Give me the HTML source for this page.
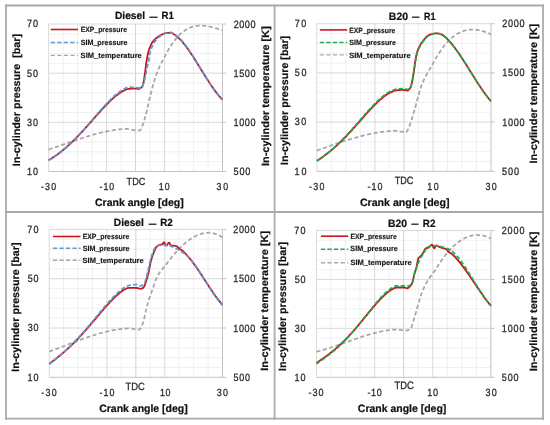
<!DOCTYPE html>
<html><head><meta charset="utf-8"><style>
html,body{margin:0;padding:0;background:#fff;overflow:hidden;}
svg{display:block;font-family:'Liberation Sans', Arial, sans-serif;text-rendering:geometricPrecision;filter:blur(0.55px);}
</style></head><body>
<svg width="550" height="425" viewBox="0 0 550 425">
<rect width="550" height="425" fill="#fff"/>
<path d="M63.09,24.00V171.50M77.58,24.00V171.50M92.08,24.00V171.50M121.06,24.00V171.50M150.04,24.00V171.50M179.03,24.00V171.50M193.52,24.00V171.50M208.01,24.00V171.50M48.60,161.67H222.50M48.60,151.83H222.50M48.60,142.00H222.50M48.60,132.17H222.50M48.60,112.50H222.50M48.60,102.67H222.50M48.60,92.83H222.50M48.60,83.00H222.50M48.60,63.33H222.50M48.60,53.50H222.50M48.60,43.67H222.50M48.60,33.83H222.50" stroke="#ececec" stroke-width="0.80" fill="none"/>
<path d="M48.60,24.00V171.50M106.57,24.00V171.50M164.53,24.00V171.50M48.60,122.33H222.50M48.60,73.17H222.50M48.60,24.00H222.50" stroke="#d6d6d6" stroke-width="0.90" fill="none"/>
<path d="M135.55,24.00V171.50" stroke="#cdcdcd" stroke-width="0.90"/>
<path d="M48.60,171.50H226.00M222.50,24.00V171.50M222.50,122.33H226.00M222.50,73.17H226.00M222.50,24.00H226.00" stroke="#bcbcbc" stroke-width="0.90" fill="none"/>
<path d="M48.60,149.46 C48.72,149.42 49.08,149.31 49.32,149.23 C49.57,149.15 49.81,149.07 50.05,148.99 C50.29,148.92 50.53,148.84 50.77,148.76 C51.02,148.68 51.26,148.60 51.50,148.52 C51.74,148.44 51.98,148.36 52.22,148.28 C52.46,148.20 52.71,148.12 52.95,148.04 C53.19,147.96 53.43,147.88 53.67,147.80 C53.91,147.72 54.16,147.64 54.40,147.55 C54.64,147.47 54.88,147.39 55.12,147.31 C55.36,147.23 55.60,147.15 55.85,147.07 C56.09,146.98 56.33,146.90 56.57,146.82 C56.81,146.74 57.05,146.66 57.30,146.57 C57.54,146.49 57.78,146.41 58.02,146.33 C58.26,146.24 58.50,146.16 58.74,146.08 C58.99,145.99 59.23,145.91 59.47,145.83 C59.71,145.74 59.95,145.66 60.19,145.58 C60.43,145.50 60.68,145.41 60.92,145.33 C61.16,145.24 61.40,145.16 61.64,145.08 C61.88,144.99 62.13,144.91 62.37,144.83 C62.61,144.74 62.85,144.66 63.09,144.58 C63.33,144.49 63.57,144.41 63.82,144.32 C64.06,144.24 64.30,144.16 64.54,144.07 C64.78,143.99 65.02,143.90 65.27,143.82 C65.51,143.74 65.75,143.65 65.99,143.57 C66.23,143.48 66.47,143.40 66.71,143.32 C66.96,143.23 67.20,143.15 67.44,143.06 C67.68,142.98 67.92,142.90 68.16,142.81 C68.41,142.73 68.65,142.64 68.89,142.56 C69.13,142.48 69.37,142.39 69.61,142.31 C69.85,142.23 70.10,142.14 70.34,142.06 C70.58,141.97 70.82,141.89 71.06,141.81 C71.30,141.72 71.55,141.64 71.79,141.56 C72.03,141.47 72.27,141.39 72.51,141.31 C72.75,141.22 72.99,141.14 73.24,141.06 C73.48,140.98 73.72,140.89 73.96,140.81 C74.20,140.73 74.44,140.64 74.69,140.56 C74.93,140.48 75.17,140.40 75.41,140.32 C75.65,140.23 75.89,140.15 76.13,140.07 C76.38,139.99 76.62,139.91 76.86,139.82 C77.10,139.74 77.34,139.66 77.58,139.58 C77.82,139.50 78.07,139.42 78.31,139.34 C78.55,139.26 78.79,139.17 79.03,139.09 C79.27,139.01 79.52,138.93 79.76,138.85 C80.00,138.77 80.24,138.69 80.48,138.61 C80.72,138.53 80.96,138.45 81.21,138.38 C81.45,138.30 81.69,138.22 81.93,138.14 C82.17,138.06 82.41,137.98 82.66,137.90 C82.90,137.83 83.14,137.75 83.38,137.67 C83.62,137.59 83.86,137.51 84.10,137.44 C84.35,137.36 84.59,137.28 84.83,137.21 C85.07,137.13 85.31,137.05 85.55,136.98 C85.80,136.90 86.04,136.83 86.28,136.75 C86.52,136.67 86.76,136.60 87.00,136.52 C87.24,136.45 87.49,136.38 87.73,136.30 C87.97,136.23 88.21,136.15 88.45,136.08 C88.69,136.01 88.94,135.93 89.18,135.86 C89.42,135.79 89.66,135.71 89.90,135.64 C90.14,135.57 90.38,135.50 90.63,135.43 C90.87,135.36 91.11,135.28 91.35,135.21 C91.59,135.14 91.83,135.07 92.08,135.00 C92.32,134.93 92.56,134.86 92.80,134.80 C93.04,134.73 93.28,134.66 93.52,134.59 C93.77,134.52 94.01,134.45 94.25,134.39 C94.49,134.32 94.73,134.25 94.97,134.19 C95.21,134.12 95.46,134.05 95.70,133.99 C95.94,133.92 96.18,133.86 96.42,133.79 C96.66,133.73 96.91,133.66 97.15,133.60 C97.39,133.54 97.63,133.47 97.87,133.41 C98.11,133.35 98.35,133.28 98.60,133.22 C98.84,133.16 99.08,133.10 99.32,133.04 C99.56,132.98 99.80,132.92 100.05,132.86 C100.29,132.80 100.53,132.74 100.77,132.68 C101.01,132.62 101.25,132.56 101.49,132.50 C101.74,132.45 101.98,132.39 102.22,132.33 C102.46,132.28 102.70,132.22 102.94,132.16 C103.19,132.11 103.43,132.05 103.67,132.00 C103.91,131.95 104.15,131.89 104.39,131.84 C104.63,131.79 104.88,131.73 105.12,131.68 C105.36,131.63 105.60,131.58 105.84,131.53 C106.08,131.48 106.33,131.43 106.57,131.38 C106.81,131.33 107.05,131.28 107.29,131.23 C107.53,131.18 107.77,131.13 108.02,131.09 C108.26,131.04 108.50,130.99 108.74,130.95 C108.98,130.90 109.22,130.85 109.47,130.81 C109.71,130.77 109.95,130.72 110.19,130.68 C110.43,130.64 110.67,130.59 110.91,130.55 C111.16,130.51 111.40,130.47 111.64,130.43 C111.88,130.39 112.12,130.35 112.36,130.31 C112.60,130.27 112.85,130.23 113.09,130.19 C113.33,130.16 113.57,130.12 113.81,130.08 C114.05,130.05 114.30,130.01 114.54,129.97 C114.78,129.94 115.02,129.91 115.26,129.87 C115.50,129.84 115.74,129.81 115.99,129.78 C116.23,129.74 116.47,129.71 116.71,129.68 C116.95,129.65 117.19,129.62 117.44,129.59 C117.68,129.56 117.92,129.54 118.16,129.51 C118.40,129.48 118.64,129.46 118.88,129.43 C119.13,129.41 119.37,129.38 119.61,129.36 C119.85,129.33 120.09,129.31 120.33,129.29 C120.58,129.26 120.82,129.24 121.06,129.22 C121.30,129.20 121.54,129.18 121.78,129.16 C122.02,129.14 122.27,129.13 122.51,129.11 C122.75,129.09 122.99,129.07 123.23,129.06 C123.47,129.04 123.72,129.03 123.96,129.02 C124.20,129.00 124.44,128.99 124.68,128.97 C124.92,128.96 125.16,128.95 125.41,128.93 C125.65,128.92 125.89,128.91 126.13,128.90 C126.37,128.90 126.61,128.88 126.86,128.89 C127.10,128.90 127.34,128.94 127.58,128.98 C127.82,129.01 128.06,129.07 128.30,129.12 C128.55,129.16 128.79,129.20 129.03,129.24 C129.27,129.29 129.51,129.33 129.75,129.38 C129.99,129.42 130.24,129.47 130.48,129.52 C130.72,129.56 130.96,129.61 131.20,129.66 C131.44,129.70 131.69,129.75 131.93,129.79 C132.17,129.83 132.41,129.87 132.65,129.91 C132.89,129.95 133.13,129.99 133.38,130.02 C133.62,130.05 133.86,130.08 134.10,130.10 C134.34,130.13 134.58,130.15 134.83,130.17 C135.07,130.19 135.31,130.21 135.55,130.22 C135.79,130.24 136.06,130.26 136.27,130.27 C136.49,130.28 136.70,130.29 136.83,130.30 C136.95,130.30 136.85,130.30 137.00,130.31 C137.15,130.31 137.48,130.33 137.72,130.34 C137.97,130.35 138.21,130.36 138.45,130.36 C138.69,130.37 138.93,130.38 139.17,130.39 C139.41,130.39 139.74,130.39 139.90,130.40 C140.05,130.40 139.98,130.48 140.10,130.40 C140.22,130.31 140.41,130.23 140.62,129.87 C140.83,129.51 141.20,128.57 141.35,128.25 C141.49,127.93 141.37,128.21 141.49,127.94 C141.61,127.67 141.85,127.16 142.07,126.63 C142.29,126.10 142.64,125.16 142.80,124.75 C142.95,124.35 142.88,124.54 143.00,124.20 C143.12,123.86 143.31,123.34 143.52,122.71 C143.73,122.08 144.10,120.90 144.25,120.45 C144.39,119.99 144.27,120.39 144.39,119.97 C144.51,119.56 144.75,118.76 144.97,117.98 C145.19,117.20 145.55,115.82 145.69,115.30 C145.83,114.78 145.69,115.33 145.81,114.86 C145.93,114.39 146.20,113.39 146.42,112.50 C146.64,111.61 147.01,110.05 147.14,109.51 C147.27,108.97 147.08,109.82 147.20,109.25 C147.32,108.69 147.64,107.23 147.87,106.13 C148.10,105.03 148.35,103.78 148.59,102.67 C148.83,101.56 149.08,100.48 149.32,99.47 C149.55,98.45 149.89,97.07 150.01,96.57 C150.13,96.07 149.92,96.93 150.04,96.45 C150.17,95.98 150.55,94.50 150.77,93.70 C150.98,92.90 151.20,92.10 151.32,91.65 C151.44,91.20 151.34,91.57 151.49,91.00 C151.64,90.43 151.97,89.14 152.22,88.23 C152.46,87.31 152.78,86.12 152.94,85.51 C153.10,84.90 153.08,85.00 153.20,84.57 C153.32,84.14 153.47,83.62 153.66,82.93 C153.86,82.24 154.15,81.23 154.39,80.41 C154.63,79.60 154.93,78.63 155.11,78.04 C155.30,77.46 155.37,77.26 155.49,76.90 C155.61,76.55 155.66,76.40 155.84,75.91 C156.02,75.41 156.32,74.58 156.56,73.94 C156.80,73.31 157.05,72.70 157.29,72.10 C157.53,71.50 157.83,70.78 158.01,70.33 C158.20,69.89 158.27,69.72 158.39,69.43 C158.51,69.14 158.56,69.02 158.74,68.60 C158.92,68.18 159.22,67.46 159.46,66.90 C159.70,66.35 159.94,65.80 160.19,65.27 C160.43,64.74 160.74,64.08 160.91,63.72 C161.08,63.37 161.08,63.37 161.20,63.14 C161.32,62.90 161.44,62.66 161.64,62.30 C161.83,61.94 162.12,61.41 162.36,60.99 C162.60,60.56 162.84,60.16 163.08,59.74 C163.33,59.33 163.57,58.92 163.81,58.50 C164.05,58.07 164.29,57.65 164.53,57.20 C164.77,56.75 165.02,56.28 165.26,55.81 C165.50,55.34 165.74,54.85 165.98,54.37 C166.22,53.90 166.47,53.41 166.71,52.95 C166.95,52.48 167.19,52.02 167.43,51.58 C167.67,51.14 167.91,50.71 168.16,50.28 C168.40,49.85 168.64,49.43 168.88,49.02 C169.12,48.61 169.36,48.20 169.61,47.80 C169.85,47.40 170.09,47.01 170.33,46.62 C170.57,46.23 170.81,45.85 171.05,45.48 C171.30,45.11 171.54,44.74 171.78,44.38 C172.02,44.01 172.26,43.66 172.50,43.31 C172.75,42.96 172.99,42.62 173.23,42.28 C173.47,41.95 173.71,41.62 173.95,41.29 C174.19,40.97 174.44,40.65 174.68,40.34 C174.92,40.02 175.16,39.72 175.40,39.42 C175.64,39.11 175.89,38.82 176.13,38.53 C176.37,38.24 176.61,37.96 176.85,37.68 C177.09,37.41 177.33,37.13 177.58,36.87 C177.82,36.60 178.06,36.34 178.30,36.08 C178.54,35.83 178.78,35.58 179.03,35.34 C179.27,35.09 179.51,34.86 179.75,34.62 C179.99,34.39 180.23,34.16 180.47,33.94 C180.72,33.71 180.96,33.49 181.20,33.28 C181.44,33.07 181.68,32.86 181.92,32.66 C182.16,32.46 182.41,32.26 182.65,32.07 C182.89,31.88 183.13,31.69 183.37,31.51 C183.61,31.32 183.86,31.14 184.10,30.97 C184.34,30.80 184.58,30.63 184.82,30.47 C185.06,30.31 185.30,30.15 185.55,29.99 C185.79,29.84 186.03,29.69 186.27,29.54 C186.51,29.40 186.75,29.26 187.00,29.12 C187.24,28.98 187.48,28.85 187.72,28.73 C187.96,28.60 188.20,28.48 188.44,28.36 C188.69,28.24 188.93,28.12 189.17,28.01 C189.41,27.90 189.65,27.79 189.89,27.69 C190.14,27.59 190.38,27.49 190.62,27.40 C190.86,27.31 191.10,27.22 191.34,27.13 C191.58,27.04 191.83,26.96 192.07,26.88 C192.31,26.80 192.55,26.72 192.79,26.65 C193.03,26.58 193.28,26.52 193.52,26.45 C193.76,26.39 194.00,26.33 194.24,26.28 C194.48,26.22 194.72,26.16 194.97,26.11 C195.21,26.06 195.45,26.01 195.69,25.97 C195.93,25.93 196.17,25.89 196.41,25.86 C196.66,25.82 196.90,25.79 197.14,25.76 C197.38,25.73 197.62,25.69 197.86,25.67 C198.11,25.64 198.35,25.62 198.59,25.60 C198.83,25.58 199.07,25.58 199.31,25.57 C199.55,25.56 199.80,25.57 200.04,25.57 C200.28,25.57 200.52,25.56 200.76,25.56 C201.00,25.56 201.25,25.56 201.49,25.56 C201.73,25.56 201.97,25.56 202.21,25.56 C202.45,25.56 202.69,25.57 202.94,25.58 C203.18,25.60 203.42,25.62 203.66,25.64 C203.90,25.66 204.14,25.69 204.39,25.72 C204.63,25.74 204.87,25.77 205.11,25.80 C205.35,25.82 205.59,25.85 205.83,25.88 C206.08,25.92 206.32,25.95 206.56,25.99 C206.80,26.03 207.04,26.07 207.28,26.11 C207.53,26.15 207.77,26.19 208.01,26.24 C208.25,26.28 208.49,26.33 208.73,26.38 C208.97,26.42 209.22,26.47 209.46,26.53 C209.70,26.58 209.94,26.63 210.18,26.69 C210.42,26.74 210.67,26.80 210.91,26.86 C211.15,26.91 211.39,26.97 211.63,27.03 C211.87,27.09 212.11,27.15 212.36,27.22 C212.60,27.28 212.84,27.35 213.08,27.41 C213.32,27.48 213.56,27.54 213.80,27.61 C214.05,27.68 214.29,27.75 214.53,27.82 C214.77,27.89 215.01,27.96 215.25,28.03 C215.50,28.10 215.74,28.18 215.98,28.25 C216.22,28.32 216.46,28.40 216.70,28.47 C216.94,28.55 217.19,28.62 217.43,28.70 C217.67,28.78 217.91,28.85 218.15,28.93 C218.39,29.01 218.64,29.09 218.88,29.17 C219.12,29.25 219.36,29.33 219.60,29.41 C219.84,29.49 220.08,29.56 220.33,29.64 C220.57,29.72 220.81,29.80 221.05,29.89 C221.29,29.97 221.53,30.05 221.78,30.13 C222.02,30.21 222.38,30.33 222.50,30.37" stroke="#a6a6a6" stroke-width="1.75" fill="none" stroke-linejoin="round" stroke-dasharray="4.1 2.5"/>
<path d="M48.60,160.18 C48.72,160.11 49.08,159.89 49.32,159.75 C49.57,159.60 49.81,159.45 50.05,159.31 C50.29,159.16 50.53,159.01 50.77,158.86 C51.02,158.71 51.26,158.55 51.50,158.40 C51.74,158.25 51.98,158.09 52.22,157.94 C52.46,157.78 52.71,157.62 52.95,157.46 C53.19,157.31 53.43,157.15 53.67,156.98 C53.91,156.82 54.16,156.66 54.40,156.50 C54.64,156.33 54.88,156.17 55.12,156.00 C55.36,155.83 55.60,155.66 55.85,155.49 C56.09,155.32 56.33,155.15 56.57,154.98 C56.81,154.81 57.05,154.63 57.30,154.46 C57.54,154.28 57.78,154.11 58.02,153.93 C58.26,153.75 58.50,153.57 58.74,153.39 C58.99,153.21 59.23,153.03 59.47,152.84 C59.71,152.66 59.95,152.47 60.19,152.29 C60.43,152.10 60.68,151.91 60.92,151.72 C61.16,151.53 61.40,151.34 61.64,151.15 C61.88,150.96 62.13,150.76 62.37,150.57 C62.61,150.37 62.85,150.17 63.09,149.98 C63.33,149.78 63.57,149.58 63.82,149.38 C64.06,149.18 64.30,148.97 64.54,148.77 C64.78,148.57 65.02,148.36 65.27,148.15 C65.51,147.95 65.75,147.74 65.99,147.53 C66.23,147.32 66.47,147.11 66.71,146.90 C66.96,146.68 67.20,146.47 67.44,146.26 C67.68,146.04 67.92,145.82 68.16,145.61 C68.41,145.39 68.65,145.17 68.89,144.95 C69.13,144.73 69.37,144.51 69.61,144.28 C69.85,144.06 70.10,143.84 70.34,143.61 C70.58,143.38 70.82,143.16 71.06,142.93 C71.30,142.70 71.55,142.47 71.79,142.24 C72.03,142.01 72.27,141.78 72.51,141.54 C72.75,141.31 72.99,141.08 73.24,140.84 C73.48,140.60 73.72,140.37 73.96,140.13 C74.20,139.89 74.44,139.65 74.69,139.41 C74.93,139.17 75.17,138.93 75.41,138.68 C75.65,138.44 75.89,138.20 76.13,137.95 C76.38,137.71 76.62,137.46 76.86,137.21 C77.10,136.97 77.34,136.72 77.58,136.47 C77.82,136.22 78.07,135.97 78.31,135.72 C78.55,135.46 78.79,135.21 79.03,134.96 C79.27,134.70 79.52,134.45 79.76,134.19 C80.00,133.94 80.24,133.68 80.48,133.43 C80.72,133.17 80.96,132.91 81.21,132.65 C81.45,132.39 81.69,132.13 81.93,131.87 C82.17,131.61 82.41,131.35 82.66,131.09 C82.90,130.82 83.14,130.56 83.38,130.30 C83.62,130.03 83.86,129.77 84.10,129.50 C84.35,129.24 84.59,128.97 84.83,128.71 C85.07,128.44 85.31,128.17 85.55,127.90 C85.80,127.64 86.04,127.37 86.28,127.10 C86.52,126.83 86.76,126.56 87.00,126.29 C87.24,126.02 87.49,125.75 87.73,125.48 C87.97,125.21 88.21,124.94 88.45,124.66 C88.69,124.39 88.94,124.12 89.18,123.85 C89.42,123.58 89.66,123.30 89.90,123.03 C90.14,122.76 90.38,122.48 90.63,122.21 C90.87,121.94 91.11,121.66 91.35,121.39 C91.59,121.12 91.83,120.84 92.08,120.57 C92.32,120.29 92.56,120.02 92.80,119.75 C93.04,119.47 93.28,119.20 93.52,118.92 C93.77,118.65 94.01,118.37 94.25,118.10 C94.49,117.83 94.73,117.55 94.97,117.28 C95.21,117.01 95.46,116.73 95.70,116.46 C95.94,116.19 96.18,115.91 96.42,115.64 C96.66,115.37 96.91,115.09 97.15,114.82 C97.39,114.55 97.63,114.28 97.87,114.01 C98.11,113.74 98.35,113.46 98.60,113.19 C98.84,112.92 99.08,112.65 99.32,112.38 C99.56,112.12 99.80,111.85 100.05,111.58 C100.29,111.31 100.53,111.04 100.77,110.78 C101.01,110.51 101.25,110.25 101.49,109.98 C101.74,109.72 101.98,109.45 102.22,109.19 C102.46,108.93 102.70,108.66 102.94,108.40 C103.19,108.14 103.43,107.88 103.67,107.62 C103.91,107.36 104.15,107.11 104.39,106.85 C104.63,106.59 104.88,106.34 105.12,106.08 C105.36,105.83 105.60,105.58 105.84,105.32 C106.08,105.07 106.33,104.82 106.57,104.57 C106.81,104.33 107.05,104.08 107.29,103.83 C107.53,103.59 107.77,103.34 108.02,103.10 C108.26,102.86 108.50,102.62 108.74,102.38 C108.98,102.14 109.22,101.90 109.47,101.66 C109.71,101.43 109.95,101.20 110.19,100.96 C110.43,100.73 110.67,100.50 110.91,100.27 C111.16,100.04 111.40,99.82 111.64,99.59 C111.88,99.37 112.12,99.15 112.36,98.93 C112.60,98.71 112.85,98.49 113.09,98.28 C113.33,98.06 113.57,97.85 113.81,97.64 C114.05,97.43 114.30,97.22 114.54,97.02 C114.78,96.81 115.02,96.61 115.26,96.41 C115.50,96.21 115.74,96.01 115.99,95.82 C116.23,95.62 116.47,95.43 116.71,95.24 C116.95,95.05 117.19,94.86 117.44,94.68 C117.68,94.50 117.92,94.32 118.16,94.14 C118.40,93.97 118.64,93.79 118.88,93.62 C119.13,93.45 119.37,93.28 119.61,93.12 C119.85,92.95 120.09,92.79 120.33,92.63 C120.58,92.47 120.82,92.32 121.06,92.17 C121.30,92.02 121.54,91.87 121.78,91.73 C122.02,91.58 122.27,91.44 122.51,91.30 C122.75,91.16 122.99,91.03 123.23,90.90 C123.47,90.78 123.72,90.66 123.96,90.55 C124.20,90.43 124.44,90.32 124.68,90.20 C124.92,90.09 125.16,89.97 125.41,89.85 C125.65,89.74 125.89,89.63 126.13,89.53 C126.37,89.42 126.61,89.32 126.86,89.24 C127.10,89.16 127.34,89.08 127.58,89.02 C127.82,88.97 128.06,88.93 128.30,88.90 C128.55,88.87 128.79,88.85 129.03,88.83 C129.27,88.81 129.51,88.79 129.75,88.77 C129.99,88.75 130.24,88.74 130.48,88.72 C130.72,88.70 130.96,88.69 131.20,88.67 C131.44,88.66 131.69,88.64 131.93,88.63 C132.17,88.62 132.41,88.60 132.65,88.59 C132.89,88.58 133.13,88.58 133.38,88.57 C133.62,88.56 133.86,88.55 134.10,88.55 C134.34,88.54 134.58,88.54 134.83,88.54 C135.07,88.53 135.31,88.53 135.55,88.53 C135.79,88.54 136.03,88.55 136.27,88.57 C136.52,88.59 136.76,88.62 137.00,88.65 C137.24,88.68 137.48,88.72 137.72,88.76 C137.97,88.79 138.21,88.83 138.45,88.85 C138.69,88.87 139.03,88.89 139.17,88.90 C139.32,88.91 139.20,88.96 139.32,88.90 C139.44,88.84 139.78,88.59 139.90,88.51 C140.01,88.43 139.89,88.50 140.01,88.41 C140.13,88.31 140.40,88.11 140.62,87.94 C140.84,87.76 141.11,87.58 141.35,87.36 C141.59,87.13 141.83,86.90 142.07,86.59 C142.31,86.27 142.55,86.14 142.80,85.46 C143.04,84.78 143.28,83.73 143.52,82.50 C143.76,81.28 144.00,79.64 144.25,78.08 C144.49,76.53 144.81,74.28 144.97,73.18 C145.13,72.07 145.08,72.42 145.20,71.45 C145.32,70.47 145.54,68.60 145.69,67.33 C145.85,66.06 146.01,64.74 146.13,63.83 C146.25,62.91 146.27,62.77 146.42,61.87 C146.56,60.97 146.88,59.12 147.00,58.42 C147.12,57.71 147.00,58.36 147.14,57.62 C147.29,56.88 147.71,54.75 147.87,53.98 C148.03,53.21 147.98,53.47 148.10,53.01 C148.22,52.54 148.39,51.88 148.59,51.19 C148.80,50.51 149.11,49.51 149.32,48.91 C149.52,48.31 149.69,47.91 149.81,47.60 C149.93,47.29 149.88,47.41 150.04,47.03 C150.20,46.66 150.52,45.89 150.77,45.37 C151.01,44.84 151.25,44.34 151.49,43.88 C151.73,43.42 151.99,42.96 152.22,42.60 C152.44,42.23 152.70,41.87 152.82,41.70 C152.94,41.53 152.80,41.72 152.94,41.55 C153.08,41.37 153.42,40.94 153.66,40.66 C153.91,40.39 154.15,40.13 154.39,39.88 C154.63,39.63 154.87,39.40 155.11,39.18 C155.36,38.96 155.60,38.75 155.84,38.54 C156.08,38.34 156.35,38.12 156.56,37.95 C156.78,37.78 156.99,37.62 157.11,37.52 C157.23,37.43 157.14,37.50 157.29,37.39 C157.44,37.27 157.77,37.02 158.01,36.85 C158.25,36.67 158.50,36.50 158.74,36.34 C158.98,36.18 159.22,36.02 159.46,35.87 C159.70,35.72 159.94,35.57 160.19,35.43 C160.43,35.29 160.72,35.13 160.91,35.03 C161.10,34.92 161.20,34.88 161.32,34.82 C161.44,34.75 161.46,34.74 161.64,34.66 C161.81,34.57 162.12,34.41 162.36,34.29 C162.60,34.16 162.84,34.04 163.08,33.93 C163.33,33.81 163.57,33.70 163.81,33.60 C164.05,33.50 164.29,33.41 164.53,33.33 C164.77,33.26 165.09,33.18 165.26,33.14 C165.42,33.10 165.40,33.11 165.52,33.10 C165.64,33.08 165.78,33.06 165.98,33.03 C166.18,33.01 166.47,32.97 166.71,32.95 C166.95,32.93 167.21,32.90 167.43,32.89 C167.65,32.87 167.89,32.86 168.01,32.85 C168.13,32.84 168.01,32.85 168.16,32.84 C168.30,32.83 168.64,32.81 168.88,32.80 C169.12,32.79 169.36,32.77 169.61,32.76 C169.85,32.75 170.09,32.74 170.33,32.74 C170.57,32.73 170.92,32.73 171.05,32.73 C171.19,32.73 170.99,32.70 171.11,32.73 C171.23,32.76 171.55,32.80 171.78,32.91 C172.01,33.01 172.26,33.20 172.50,33.36 C172.75,33.52 172.99,33.70 173.23,33.85 C173.47,34.01 173.71,34.15 173.95,34.30 C174.19,34.46 174.44,34.61 174.68,34.78 C174.92,34.94 175.16,35.11 175.40,35.29 C175.64,35.47 175.89,35.64 176.13,35.83 C176.37,36.02 176.61,36.21 176.85,36.41 C177.09,36.61 177.33,36.82 177.58,37.04 C177.82,37.25 178.06,37.47 178.30,37.70 C178.54,37.92 178.78,38.15 179.03,38.38 C179.27,38.62 179.51,38.85 179.75,39.10 C179.99,39.34 180.23,39.59 180.47,39.85 C180.72,40.11 180.96,40.37 181.20,40.63 C181.44,40.90 181.68,41.16 181.92,41.44 C182.16,41.71 182.41,41.99 182.65,42.27 C182.89,42.55 183.13,42.84 183.37,43.13 C183.61,43.42 183.86,43.72 184.10,44.02 C184.34,44.32 184.58,44.62 184.82,44.93 C185.06,45.24 185.30,45.55 185.55,45.86 C185.79,46.18 186.03,46.50 186.27,46.82 C186.51,47.14 186.75,47.47 187.00,47.80 C187.24,48.13 187.48,48.46 187.72,48.79 C187.96,49.13 188.20,49.46 188.44,49.81 C188.69,50.15 188.93,50.49 189.17,50.84 C189.41,51.19 189.65,51.54 189.89,51.89 C190.14,52.25 190.38,52.60 190.62,52.96 C190.86,53.32 191.10,53.68 191.34,54.04 C191.58,54.40 191.83,54.77 192.07,55.13 C192.31,55.50 192.55,55.87 192.79,56.24 C193.03,56.61 193.28,56.99 193.52,57.36 C193.76,57.73 194.00,58.11 194.24,58.49 C194.48,58.87 194.72,59.25 194.97,59.63 C195.21,60.01 195.45,60.39 195.69,60.78 C195.93,61.16 196.17,61.55 196.41,61.93 C196.66,62.32 196.90,62.70 197.14,63.09 C197.38,63.48 197.62,63.87 197.86,64.26 C198.11,64.65 198.35,65.04 198.59,65.43 C198.83,65.82 199.07,66.21 199.31,66.60 C199.55,66.99 199.80,67.39 200.04,67.78 C200.28,68.17 200.52,68.56 200.76,68.96 C201.00,69.35 201.25,69.74 201.49,70.14 C201.73,70.53 201.97,70.92 202.21,71.31 C202.45,71.70 202.69,72.09 202.94,72.48 C203.18,72.87 203.42,73.27 203.66,73.66 C203.90,74.05 204.14,74.44 204.39,74.82 C204.63,75.21 204.87,75.60 205.11,75.98 C205.35,76.37 205.59,76.75 205.83,77.14 C206.08,77.52 206.32,77.91 206.56,78.29 C206.80,78.67 207.04,79.05 207.28,79.43 C207.53,79.81 207.77,80.18 208.01,80.56 C208.25,80.93 208.49,81.31 208.73,81.68 C208.97,82.05 209.22,82.42 209.46,82.79 C209.70,83.15 209.94,83.52 210.18,83.88 C210.42,84.25 210.67,84.61 210.91,84.96 C211.15,85.32 211.39,85.68 211.63,86.03 C211.87,86.38 212.11,86.74 212.36,87.08 C212.60,87.43 212.84,87.78 213.08,88.12 C213.32,88.46 213.56,88.80 213.80,89.14 C214.05,89.47 214.29,89.80 214.53,90.13 C214.77,90.46 215.01,90.79 215.25,91.11 C215.50,91.44 215.74,91.76 215.98,92.07 C216.22,92.39 216.46,92.70 216.70,93.01 C216.94,93.31 217.19,93.62 217.43,93.92 C217.67,94.22 217.91,94.52 218.15,94.81 C218.39,95.10 218.64,95.39 218.88,95.67 C219.12,95.96 219.36,96.23 219.60,96.51 C219.84,96.78 220.08,97.05 220.33,97.31 C220.57,97.58 220.81,97.84 221.05,98.09 C221.29,98.35 221.53,98.60 221.78,98.85 C222.02,99.09 222.38,99.45 222.50,99.57" stroke="#c8161d" stroke-width="1.80" fill="none" stroke-linejoin="round"/>
<path d="M48.60,160.42 C48.72,160.35 49.08,160.14 49.32,160.00 C49.57,159.86 49.81,159.71 50.05,159.57 C50.29,159.42 50.53,159.28 50.77,159.13 C51.02,158.98 51.26,158.83 51.50,158.68 C51.74,158.53 51.98,158.37 52.22,158.22 C52.46,158.06 52.71,157.91 52.95,157.75 C53.19,157.59 53.43,157.43 53.67,157.27 C53.91,157.11 54.16,156.95 54.40,156.79 C54.64,156.63 54.88,156.46 55.12,156.29 C55.36,156.13 55.60,155.96 55.85,155.79 C56.09,155.62 56.33,155.45 56.57,155.28 C56.81,155.10 57.05,154.93 57.30,154.75 C57.54,154.58 57.78,154.40 58.02,154.22 C58.26,154.04 58.50,153.86 58.74,153.68 C58.99,153.50 59.23,153.31 59.47,153.13 C59.71,152.94 59.95,152.76 60.19,152.57 C60.43,152.38 60.68,152.19 60.92,152.00 C61.16,151.81 61.40,151.62 61.64,151.42 C61.88,151.23 62.13,151.03 62.37,150.83 C62.61,150.63 62.85,150.44 63.09,150.23 C63.33,150.03 63.57,149.83 63.82,149.63 C64.06,149.42 64.30,149.22 64.54,149.01 C64.78,148.80 65.02,148.60 65.27,148.39 C65.51,148.18 65.75,147.96 65.99,147.75 C66.23,147.54 66.47,147.32 66.71,147.11 C66.96,146.89 67.20,146.67 67.44,146.46 C67.68,146.24 67.92,146.02 68.16,145.79 C68.41,145.57 68.65,145.35 68.89,145.12 C69.13,144.90 69.37,144.67 69.61,144.45 C69.85,144.22 70.10,143.99 70.34,143.76 C70.58,143.53 70.82,143.29 71.06,143.06 C71.30,142.83 71.55,142.59 71.79,142.36 C72.03,142.12 72.27,141.88 72.51,141.65 C72.75,141.41 72.99,141.17 73.24,140.93 C73.48,140.68 73.72,140.44 73.96,140.20 C74.20,139.95 74.44,139.71 74.69,139.46 C74.93,139.22 75.17,138.97 75.41,138.72 C75.65,138.47 75.89,138.22 76.13,137.97 C76.38,137.72 76.62,137.46 76.86,137.21 C77.10,136.96 77.34,136.70 77.58,136.45 C77.82,136.19 78.07,135.93 78.31,135.67 C78.55,135.42 78.79,135.16 79.03,134.90 C79.27,134.64 79.52,134.37 79.76,134.11 C80.00,133.85 80.24,133.59 80.48,133.32 C80.72,133.06 80.96,132.79 81.21,132.53 C81.45,132.26 81.69,131.99 81.93,131.73 C82.17,131.46 82.41,131.19 82.66,130.92 C82.90,130.65 83.14,130.38 83.38,130.11 C83.62,129.84 83.86,129.56 84.10,129.29 C84.35,129.02 84.59,128.75 84.83,128.47 C85.07,128.20 85.31,127.92 85.55,127.65 C85.80,127.37 86.04,127.09 86.28,126.82 C86.52,126.54 86.76,126.26 87.00,125.99 C87.24,125.71 87.49,125.43 87.73,125.15 C87.97,124.87 88.21,124.59 88.45,124.31 C88.69,124.03 88.94,123.75 89.18,123.47 C89.42,123.19 89.66,122.91 89.90,122.63 C90.14,122.35 90.38,122.07 90.63,121.78 C90.87,121.50 91.11,121.22 91.35,120.94 C91.59,120.66 91.83,120.37 92.08,120.09 C92.32,119.81 92.56,119.53 92.80,119.24 C93.04,118.96 93.28,118.68 93.52,118.40 C93.77,118.11 94.01,117.83 94.25,117.55 C94.49,117.26 94.73,116.98 94.97,116.70 C95.21,116.42 95.46,116.14 95.70,115.85 C95.94,115.57 96.18,115.29 96.42,115.01 C96.66,114.73 96.91,114.44 97.15,114.16 C97.39,113.88 97.63,113.60 97.87,113.32 C98.11,113.04 98.35,112.76 98.60,112.49 C98.84,112.21 99.08,111.93 99.32,111.65 C99.56,111.37 99.80,111.09 100.05,110.82 C100.29,110.54 100.53,110.27 100.77,109.99 C101.01,109.72 101.25,109.44 101.49,109.17 C101.74,108.89 101.98,108.62 102.22,108.35 C102.46,108.08 102.70,107.81 102.94,107.54 C103.19,107.27 103.43,107.00 103.67,106.73 C103.91,106.46 104.15,106.20 104.39,105.93 C104.63,105.67 104.88,105.40 105.12,105.14 C105.36,104.87 105.60,104.61 105.84,104.35 C106.08,104.09 106.33,103.83 106.57,103.58 C106.81,103.32 107.05,103.06 107.29,102.81 C107.53,102.55 107.77,102.30 108.02,102.05 C108.26,101.80 108.50,101.55 108.74,101.30 C108.98,101.05 109.22,100.81 109.47,100.56 C109.71,100.32 109.95,100.08 110.19,99.84 C110.43,99.59 110.67,99.36 110.91,99.12 C111.16,98.88 111.40,98.65 111.64,98.41 C111.88,98.18 112.12,97.95 112.36,97.72 C112.60,97.50 112.85,97.27 113.09,97.05 C113.33,96.82 113.57,96.60 113.81,96.38 C114.05,96.17 114.30,95.95 114.54,95.73 C114.78,95.52 115.02,95.31 115.26,95.10 C115.50,94.90 115.74,94.69 115.99,94.49 C116.23,94.28 116.47,94.08 116.71,93.89 C116.95,93.69 117.19,93.49 117.44,93.30 C117.68,93.11 117.92,92.92 118.16,92.74 C118.40,92.55 118.64,92.37 118.88,92.20 C119.13,92.02 119.37,91.84 119.61,91.67 C119.85,91.49 120.09,91.32 120.33,91.16 C120.58,90.99 120.82,90.83 121.06,90.68 C121.30,90.52 121.54,90.36 121.78,90.21 C122.02,90.06 122.27,89.91 122.51,89.76 C122.75,89.62 122.99,89.47 123.23,89.34 C123.47,89.21 123.72,89.09 123.96,88.96 C124.20,88.83 124.44,88.71 124.68,88.58 C124.92,88.45 125.16,88.31 125.41,88.18 C125.65,88.05 125.89,87.92 126.13,87.80 C126.37,87.69 126.61,87.57 126.86,87.48 C127.10,87.39 127.34,87.31 127.58,87.26 C127.82,87.21 128.06,87.19 128.30,87.18 C128.55,87.17 128.79,87.18 129.03,87.18 C129.27,87.18 129.51,87.19 129.75,87.19 C129.99,87.20 130.24,87.20 130.48,87.21 C130.72,87.21 130.96,87.22 131.20,87.23 C131.44,87.23 131.69,87.24 131.93,87.25 C132.17,87.26 132.41,87.27 132.65,87.28 C132.89,87.29 133.13,87.30 133.38,87.31 C133.62,87.32 133.86,87.33 134.10,87.35 C134.34,87.36 134.58,87.37 134.83,87.38 C135.07,87.40 135.31,87.41 135.55,87.42 C135.79,87.44 136.03,87.47 136.27,87.50 C136.52,87.53 136.76,87.58 137.00,87.62 C137.24,87.67 137.48,87.72 137.72,87.76 C137.97,87.81 138.21,87.86 138.45,87.90 C138.69,87.94 138.93,87.98 139.17,88.00 C139.41,88.02 139.66,88.05 139.90,88.04 C140.14,88.03 140.38,88.01 140.62,87.95 C140.86,87.89 141.13,87.79 141.35,87.71 C141.56,87.62 141.81,87.49 141.93,87.42 C142.05,87.36 141.93,87.58 142.07,87.31 C142.22,87.04 142.55,86.48 142.80,85.83 C143.04,85.18 143.28,84.24 143.52,83.40 C143.76,82.56 144.00,81.66 144.25,80.79 C144.49,79.91 144.73,79.09 144.97,78.15 C145.21,77.21 145.50,75.97 145.69,75.14 C145.89,74.31 146.01,73.74 146.13,73.17 C146.25,72.59 146.25,72.62 146.42,71.68 C146.59,70.74 146.96,68.49 147.14,67.51 C147.32,66.53 147.37,66.31 147.49,65.79 C147.61,65.27 147.70,65.02 147.87,64.40 C148.04,63.79 148.38,62.56 148.51,62.10 C148.63,61.65 148.46,62.55 148.59,61.68 C148.73,60.81 149.11,58.14 149.32,56.86 C149.52,55.58 149.69,54.63 149.81,53.99 C149.93,53.36 149.88,53.64 150.04,53.05 C150.20,52.46 150.52,51.23 150.77,50.43 C151.01,49.64 151.25,48.93 151.49,48.26 C151.73,47.60 151.99,46.97 152.22,46.45 C152.44,45.93 152.70,45.40 152.82,45.14 C152.94,44.89 152.80,45.18 152.94,44.91 C153.08,44.64 153.42,43.97 153.66,43.54 C153.91,43.11 154.15,42.69 154.39,42.30 C154.63,41.91 154.87,41.54 155.11,41.19 C155.36,40.84 155.60,40.51 155.84,40.21 C156.08,39.90 156.35,39.58 156.56,39.34 C156.78,39.09 156.99,38.88 157.11,38.75 C157.23,38.62 157.14,38.72 157.29,38.58 C157.44,38.44 157.77,38.12 158.01,37.91 C158.25,37.70 158.50,37.50 158.74,37.31 C158.98,37.12 159.22,36.95 159.46,36.77 C159.70,36.60 159.94,36.44 160.19,36.28 C160.43,36.11 160.72,35.93 160.91,35.81 C161.10,35.69 161.20,35.63 161.32,35.55 C161.44,35.48 161.46,35.46 161.64,35.35 C161.81,35.25 162.12,35.05 162.36,34.90 C162.60,34.75 162.84,34.60 163.08,34.46 C163.33,34.32 163.57,34.18 163.81,34.05 C164.05,33.93 164.29,33.80 164.53,33.70 C164.77,33.59 165.09,33.48 165.26,33.42 C165.42,33.36 165.40,33.38 165.52,33.34 C165.64,33.31 165.78,33.27 165.98,33.22 C166.18,33.17 166.47,33.09 166.71,33.04 C166.95,32.99 167.21,32.94 167.43,32.91 C167.65,32.88 167.89,32.86 168.01,32.85 C168.13,32.84 168.01,32.85 168.16,32.84 C168.30,32.83 168.64,32.81 168.88,32.80 C169.12,32.78 169.36,32.77 169.61,32.76 C169.85,32.75 170.09,32.74 170.33,32.74 C170.57,32.73 170.92,32.73 171.05,32.73 C171.19,32.73 170.99,32.70 171.11,32.73 C171.23,32.75 171.55,32.78 171.78,32.86 C172.01,32.94 172.26,33.08 172.50,33.21 C172.75,33.33 172.99,33.47 173.23,33.60 C173.47,33.73 173.71,33.85 173.95,33.99 C174.19,34.12 174.44,34.27 174.68,34.43 C174.92,34.58 175.16,34.75 175.40,34.91 C175.64,35.08 175.89,35.25 176.13,35.43 C176.37,35.60 176.61,35.79 176.85,35.98 C177.09,36.17 177.33,36.37 177.58,36.58 C177.82,36.78 178.06,37.00 178.30,37.22 C178.54,37.43 178.78,37.66 179.03,37.88 C179.27,38.11 179.51,38.34 179.75,38.58 C179.99,38.82 180.23,39.07 180.47,39.32 C180.72,39.58 180.96,39.84 181.20,40.10 C181.44,40.36 181.68,40.63 181.92,40.90 C182.16,41.17 182.41,41.44 182.65,41.73 C182.89,42.01 183.13,42.30 183.37,42.59 C183.61,42.88 183.86,43.18 184.10,43.48 C184.34,43.78 184.58,44.08 184.82,44.39 C185.06,44.70 185.30,45.01 185.55,45.33 C185.79,45.65 186.03,45.97 186.27,46.30 C186.51,46.62 186.75,46.95 187.00,47.28 C187.24,47.62 187.48,47.95 187.72,48.29 C187.96,48.63 188.20,48.97 188.44,49.32 C188.69,49.67 188.93,50.02 189.17,50.37 C189.41,50.73 189.65,51.08 189.89,51.44 C190.14,51.80 190.38,52.16 190.62,52.53 C190.86,52.89 191.10,53.26 191.34,53.63 C191.58,53.99 191.83,54.37 192.07,54.74 C192.31,55.12 192.55,55.50 192.79,55.87 C193.03,56.25 193.28,56.63 193.52,57.02 C193.76,57.40 194.00,57.78 194.24,58.17 C194.48,58.56 194.72,58.94 194.97,59.33 C195.21,59.72 195.45,60.12 195.69,60.51 C195.93,60.90 196.17,61.30 196.41,61.69 C196.66,62.08 196.90,62.48 197.14,62.88 C197.38,63.27 197.62,63.67 197.86,64.07 C198.11,64.47 198.35,64.87 198.59,65.27 C198.83,65.67 199.07,66.07 199.31,66.47 C199.55,66.87 199.80,67.27 200.04,67.68 C200.28,68.08 200.52,68.48 200.76,68.88 C201.00,69.28 201.25,69.69 201.49,70.09 C201.73,70.49 201.97,70.89 202.21,71.29 C202.45,71.69 202.69,72.09 202.94,72.49 C203.18,72.89 203.42,73.29 203.66,73.69 C203.90,74.09 204.14,74.49 204.39,74.88 C204.63,75.28 204.87,75.67 205.11,76.07 C205.35,76.46 205.59,76.85 205.83,77.25 C206.08,77.64 206.32,78.03 206.56,78.42 C206.80,78.81 207.04,79.20 207.28,79.58 C207.53,79.97 207.77,80.35 208.01,80.73 C208.25,81.11 208.49,81.49 208.73,81.87 C208.97,82.25 209.22,82.62 209.46,83.00 C209.70,83.37 209.94,83.74 210.18,84.11 C210.42,84.48 210.67,84.84 210.91,85.21 C211.15,85.57 211.39,85.93 211.63,86.29 C211.87,86.64 212.11,87.00 212.36,87.35 C212.60,87.70 212.84,88.05 213.08,88.40 C213.32,88.74 213.56,89.08 213.80,89.42 C214.05,89.76 214.29,90.09 214.53,90.42 C214.77,90.75 215.01,91.08 215.25,91.40 C215.50,91.73 215.74,92.05 215.98,92.36 C216.22,92.68 216.46,92.99 216.70,93.29 C216.94,93.60 217.19,93.90 217.43,94.20 C217.67,94.50 217.91,94.79 218.15,95.08 C218.39,95.37 218.64,95.66 218.88,95.94 C219.12,96.22 219.36,96.49 219.60,96.76 C219.84,97.02 220.08,97.29 220.33,97.54 C220.57,97.80 220.81,98.05 221.05,98.30 C221.29,98.55 221.53,98.79 221.78,99.03 C222.02,99.27 222.38,99.62 222.50,99.73" stroke="#5b9bd5" stroke-width="1.75" fill="none" stroke-linejoin="round" stroke-dasharray="4.3 2.2"/>
<path d="M50.70,29.50H78.00" stroke="#c8161d" stroke-width="1.60"/>
<path d="M50.70,42.50H78.00" stroke="#5b9bd5" stroke-width="1.45" stroke-dasharray="4.3 2.2"/>
<path d="M50.70,55.40H78.00" stroke="#a6a6a6" stroke-width="1.35" stroke-dasharray="4.1 2.5"/>
<path d="M331.32,23.70V171.30M345.83,23.70V171.30M360.35,23.70V171.30M389.38,23.70V171.30M418.42,23.70V171.30M447.45,23.70V171.30M461.97,23.70V171.30M476.48,23.70V171.30M316.80,161.46H491.00M316.80,151.62H491.00M316.80,141.78H491.00M316.80,131.94H491.00M316.80,112.26H491.00M316.80,102.42H491.00M316.80,92.58H491.00M316.80,82.74H491.00M316.80,63.06H491.00M316.80,53.22H491.00M316.80,43.38H491.00M316.80,33.54H491.00" stroke="#ececec" stroke-width="0.80" fill="none"/>
<path d="M316.80,23.70V171.30M374.87,23.70V171.30M432.93,23.70V171.30M316.80,122.10H491.00M316.80,72.90H491.00M316.80,23.70H491.00" stroke="#d6d6d6" stroke-width="0.90" fill="none"/>
<path d="M403.90,23.70V171.30" stroke="#cdcdcd" stroke-width="0.90"/>
<path d="M316.80,171.30H494.50M491.00,23.70V171.30M491.00,122.10H494.50M491.00,72.90H494.50M491.00,23.70H494.50" stroke="#bcbcbc" stroke-width="0.90" fill="none"/>
<path d="M316.80,150.54 C316.92,150.50 317.28,150.37 317.53,150.28 C317.77,150.20 318.01,150.11 318.25,150.03 C318.49,149.94 318.74,149.85 318.98,149.77 C319.22,149.68 319.46,149.60 319.70,149.51 C319.95,149.43 320.19,149.34 320.43,149.25 C320.67,149.17 320.91,149.08 321.16,149.00 C321.40,148.91 321.64,148.83 321.88,148.74 C322.12,148.65 322.36,148.57 322.61,148.48 C322.85,148.40 323.09,148.31 323.33,148.23 C323.57,148.14 323.82,148.05 324.06,147.97 C324.30,147.88 324.54,147.80 324.78,147.71 C325.03,147.63 325.27,147.54 325.51,147.46 C325.75,147.37 325.99,147.29 326.24,147.20 C326.48,147.12 326.72,147.03 326.96,146.94 C327.20,146.86 327.45,146.77 327.69,146.69 C327.93,146.60 328.17,146.52 328.41,146.44 C328.66,146.35 328.90,146.27 329.14,146.18 C329.38,146.10 329.62,146.01 329.87,145.93 C330.11,145.84 330.35,145.76 330.59,145.67 C330.83,145.59 331.07,145.51 331.32,145.42 C331.56,145.34 331.80,145.25 332.04,145.17 C332.28,145.09 332.53,145.00 332.77,144.92 C333.01,144.84 333.25,144.75 333.49,144.67 C333.74,144.59 333.98,144.50 334.22,144.42 C334.46,144.34 334.70,144.25 334.95,144.17 C335.19,144.09 335.43,144.01 335.67,143.92 C335.91,143.84 336.16,143.76 336.40,143.68 C336.64,143.60 336.88,143.51 337.12,143.43 C337.37,143.35 337.61,143.27 337.85,143.19 C338.09,143.11 338.33,143.02 338.57,142.94 C338.82,142.86 339.06,142.78 339.30,142.70 C339.54,142.62 339.78,142.54 340.03,142.46 C340.27,142.38 340.51,142.30 340.75,142.22 C340.99,142.14 341.24,142.06 341.48,141.98 C341.72,141.90 341.96,141.82 342.20,141.74 C342.45,141.66 342.69,141.59 342.93,141.51 C343.17,141.43 343.41,141.35 343.66,141.27 C343.90,141.19 344.14,141.12 344.38,141.04 C344.62,140.96 344.87,140.88 345.11,140.81 C345.35,140.73 345.59,140.65 345.83,140.58 C346.08,140.50 346.32,140.42 346.56,140.35 C346.80,140.27 347.04,140.19 347.29,140.12 C347.53,140.04 347.77,139.97 348.01,139.89 C348.25,139.82 348.49,139.74 348.74,139.67 C348.98,139.59 349.22,139.52 349.46,139.45 C349.70,139.37 349.95,139.30 350.19,139.22 C350.43,139.15 350.67,139.08 350.91,139.01 C351.16,138.93 351.40,138.86 351.64,138.79 C351.88,138.72 352.12,138.64 352.37,138.57 C352.61,138.50 352.85,138.43 353.09,138.36 C353.33,138.29 353.58,138.22 353.82,138.15 C354.06,138.08 354.30,138.01 354.54,137.94 C354.79,137.87 355.03,137.80 355.27,137.73 C355.51,137.66 355.75,137.59 356.00,137.53 C356.24,137.46 356.48,137.39 356.72,137.32 C356.96,137.25 357.20,137.19 357.45,137.12 C357.69,137.05 357.93,136.99 358.17,136.92 C358.41,136.86 358.66,136.79 358.90,136.73 C359.14,136.66 359.38,136.60 359.62,136.53 C359.87,136.47 360.11,136.40 360.35,136.34 C360.59,136.28 360.83,136.21 361.08,136.15 C361.32,136.09 361.56,136.02 361.80,135.96 C362.04,135.90 362.29,135.84 362.53,135.78 C362.77,135.72 363.01,135.66 363.25,135.60 C363.50,135.54 363.74,135.48 363.98,135.42 C364.22,135.36 364.46,135.30 364.71,135.24 C364.95,135.18 365.19,135.12 365.43,135.06 C365.67,135.01 365.91,134.95 366.16,134.89 C366.40,134.84 366.64,134.78 366.88,134.72 C367.12,134.67 367.37,134.61 367.61,134.56 C367.85,134.50 368.09,134.45 368.33,134.39 C368.58,134.34 368.82,134.29 369.06,134.23 C369.30,134.18 369.54,134.13 369.79,134.08 C370.03,134.02 370.27,133.97 370.51,133.92 C370.75,133.87 371.00,133.82 371.24,133.77 C371.48,133.72 371.72,133.67 371.96,133.62 C372.21,133.57 372.45,133.52 372.69,133.47 C372.93,133.43 373.17,133.38 373.42,133.33 C373.66,133.28 373.90,133.24 374.14,133.19 C374.38,133.15 374.62,133.10 374.87,133.06 C375.11,133.01 375.35,132.97 375.59,132.92 C375.83,132.88 376.08,132.84 376.32,132.79 C376.56,132.75 376.80,132.71 377.04,132.67 C377.29,132.63 377.53,132.58 377.77,132.54 C378.01,132.50 378.25,132.46 378.50,132.42 C378.74,132.39 378.98,132.35 379.22,132.31 C379.46,132.27 379.71,132.23 379.95,132.20 C380.19,132.16 380.43,132.12 380.67,132.09 C380.92,132.05 381.16,132.02 381.40,131.98 C381.64,131.95 381.88,131.91 382.12,131.88 C382.37,131.85 382.61,131.81 382.85,131.78 C383.09,131.75 383.33,131.72 383.58,131.69 C383.82,131.66 384.06,131.62 384.30,131.60 C384.54,131.57 384.79,131.54 385.03,131.51 C385.27,131.48 385.51,131.45 385.75,131.42 C386.00,131.40 386.24,131.37 386.48,131.35 C386.72,131.32 386.96,131.29 387.21,131.27 C387.45,131.25 387.69,131.22 387.93,131.20 C388.17,131.18 388.42,131.15 388.66,131.13 C388.90,131.11 389.14,131.09 389.38,131.07 C389.63,131.05 389.87,131.03 390.11,131.01 C390.35,130.99 390.59,130.97 390.84,130.95 C391.08,130.94 391.32,130.92 391.56,130.90 C391.80,130.89 392.04,130.87 392.29,130.86 C392.53,130.84 392.77,130.82 393.01,130.81 C393.25,130.79 393.50,130.78 393.74,130.76 C393.98,130.75 394.22,130.73 394.46,130.73 C394.71,130.72 394.95,130.68 395.19,130.71 C395.43,130.74 395.76,130.86 395.92,130.90 C396.07,130.94 396.00,130.93 396.12,130.96 C396.24,130.98 396.43,131.02 396.64,131.05 C396.85,131.09 397.13,131.13 397.37,131.16 C397.61,131.20 397.85,131.23 398.09,131.26 C398.34,131.29 398.58,131.32 398.82,131.35 C399.06,131.37 399.30,131.40 399.55,131.43 C399.79,131.45 400.03,131.48 400.27,131.50 C400.51,131.53 400.75,131.55 401.00,131.58 C401.24,131.61 401.48,131.63 401.72,131.66 C401.96,131.69 402.21,131.72 402.45,131.76 C402.69,131.79 402.98,131.83 403.17,131.87 C403.37,131.90 403.49,131.92 403.61,131.94 C403.73,131.96 403.73,131.96 403.90,132.01 C404.07,132.05 404.38,132.16 404.63,132.23 C404.87,132.30 405.18,132.38 405.35,132.41 C405.52,132.44 405.52,132.45 405.64,132.43 C405.76,132.41 405.88,132.44 406.08,132.29 C406.27,132.15 406.56,131.87 406.80,131.57 C407.05,131.26 407.30,130.82 407.53,130.44 C407.76,130.06 408.08,129.49 408.20,129.28 C408.32,129.07 408.12,129.48 408.25,129.18 C408.39,128.88 408.74,128.12 408.98,127.49 C409.22,126.85 409.52,125.92 409.71,125.37 C409.90,124.81 409.99,124.52 410.11,124.17 C410.23,123.81 410.26,123.76 410.43,123.23 C410.61,122.70 410.93,121.70 411.16,120.98 C411.39,120.27 411.68,119.34 411.80,118.95 C411.92,118.57 411.75,119.11 411.88,118.67 C412.02,118.23 412.37,117.11 412.61,116.32 C412.85,115.53 413.21,114.36 413.34,113.93 C413.47,113.50 413.27,114.13 413.39,113.74 C413.51,113.34 413.83,112.33 414.06,111.56 C414.29,110.79 414.65,109.60 414.79,109.13 C414.93,108.65 414.78,109.17 414.90,108.72 C415.02,108.27 415.29,107.28 415.51,106.42 C415.74,105.56 416.06,104.26 416.24,103.56 C416.42,102.86 416.47,102.68 416.59,102.22 C416.71,101.77 416.78,101.50 416.97,100.83 C417.15,100.16 417.47,99.00 417.69,98.20 C417.91,97.40 418.18,96.46 418.30,96.02 C418.42,95.59 418.28,96.12 418.42,95.61 C418.56,95.09 418.90,93.81 419.14,92.93 C419.38,92.05 419.66,91.05 419.87,90.33 C420.08,89.62 420.27,89.03 420.39,88.64 C420.51,88.26 420.44,88.48 420.59,88.04 C420.75,87.60 421.08,86.65 421.32,86.00 C421.56,85.35 421.80,84.72 422.05,84.12 C422.29,83.51 422.58,82.82 422.77,82.36 C422.97,81.90 423.09,81.64 423.21,81.36 C423.33,81.09 423.33,81.08 423.50,80.72 C423.67,80.36 423.98,79.69 424.22,79.20 C424.47,78.70 424.71,78.23 424.95,77.76 C425.19,77.29 425.50,76.70 425.68,76.37 C425.85,76.03 425.87,75.99 425.99,75.75 C426.12,75.52 426.21,75.33 426.40,74.97 C426.59,74.61 426.88,74.04 427.13,73.59 C427.37,73.13 427.61,72.68 427.85,72.23 C428.09,71.79 428.42,71.22 428.58,70.94 C428.74,70.66 428.69,70.74 428.81,70.54 C428.93,70.34 429.10,70.05 429.30,69.73 C429.51,69.41 429.79,68.98 430.03,68.62 C430.27,68.25 430.51,67.90 430.76,67.54 C431.00,67.17 431.26,66.76 431.48,66.41 C431.70,66.06 431.94,65.63 432.06,65.42 C432.18,65.21 432.06,65.44 432.21,65.15 C432.35,64.87 432.69,64.18 432.93,63.71 C433.18,63.24 433.42,62.79 433.66,62.33 C433.90,61.88 434.14,61.43 434.38,60.98 C434.63,60.54 434.87,60.09 435.11,59.66 C435.35,59.23 435.59,58.80 435.84,58.37 C436.08,57.95 436.32,57.54 436.56,57.12 C436.80,56.71 437.05,56.31 437.29,55.90 C437.53,55.50 437.77,55.11 438.01,54.72 C438.26,54.33 438.50,53.94 438.74,53.56 C438.98,53.18 439.22,52.81 439.47,52.44 C439.71,52.07 439.95,51.70 440.19,51.34 C440.43,50.98 440.68,50.63 440.92,50.28 C441.16,49.93 441.40,49.59 441.64,49.25 C441.89,48.91 442.13,48.58 442.37,48.25 C442.61,47.92 442.85,47.60 443.10,47.28 C443.34,46.96 443.58,46.64 443.82,46.33 C444.06,46.02 444.30,45.72 444.55,45.42 C444.79,45.12 445.03,44.83 445.27,44.54 C445.51,44.25 445.76,43.96 446.00,43.68 C446.24,43.40 446.48,43.13 446.72,42.85 C446.97,42.58 447.21,42.32 447.45,42.06 C447.69,41.80 447.93,41.54 448.18,41.29 C448.42,41.03 448.66,40.79 448.90,40.54 C449.14,40.30 449.39,40.06 449.63,39.83 C449.87,39.59 450.11,39.36 450.35,39.14 C450.60,38.91 450.84,38.69 451.08,38.48 C451.32,38.26 451.56,38.05 451.81,37.84 C452.05,37.63 452.29,37.43 452.53,37.23 C452.77,37.03 453.01,36.83 453.26,36.64 C453.50,36.45 453.74,36.27 453.98,36.09 C454.22,35.90 454.47,35.73 454.71,35.55 C454.95,35.38 455.19,35.21 455.43,35.04 C455.68,34.88 455.92,34.72 456.16,34.56 C456.40,34.40 456.64,34.25 456.89,34.10 C457.13,33.95 457.37,33.80 457.61,33.66 C457.85,33.52 458.10,33.38 458.34,33.25 C458.58,33.11 458.82,32.99 459.06,32.86 C459.31,32.74 459.55,32.61 459.79,32.50 C460.03,32.38 460.27,32.26 460.51,32.15 C460.76,32.04 461.00,31.93 461.24,31.83 C461.48,31.73 461.72,31.63 461.97,31.53 C462.21,31.44 462.45,31.35 462.69,31.26 C462.93,31.17 463.18,31.08 463.42,31.00 C463.66,30.92 463.90,30.84 464.14,30.76 C464.39,30.69 464.63,30.62 464.87,30.56 C465.11,30.49 465.35,30.43 465.60,30.37 C465.84,30.30 466.08,30.25 466.32,30.19 C466.56,30.14 466.81,30.08 467.05,30.04 C467.29,29.99 467.53,29.95 467.77,29.91 C468.02,29.87 468.26,29.83 468.50,29.80 C468.74,29.76 468.98,29.73 469.23,29.70 C469.47,29.67 469.71,29.64 469.95,29.62 C470.19,29.60 470.43,29.59 470.68,29.58 C470.92,29.57 471.16,29.57 471.40,29.56 C471.64,29.56 471.89,29.55 472.13,29.55 C472.37,29.55 472.61,29.54 472.85,29.54 C473.10,29.54 473.34,29.54 473.58,29.54 C473.82,29.54 474.06,29.55 474.31,29.56 C474.55,29.57 474.79,29.59 475.03,29.62 C475.27,29.64 475.52,29.67 475.76,29.69 C476.00,29.72 476.24,29.75 476.48,29.78 C476.73,29.80 476.97,29.83 477.21,29.87 C477.45,29.91 477.69,29.95 477.94,29.99 C478.18,30.03 478.42,30.08 478.66,30.12 C478.90,30.17 479.14,30.22 479.39,30.27 C479.63,30.32 479.87,30.37 480.11,30.43 C480.35,30.48 480.60,30.54 480.84,30.60 C481.08,30.67 481.32,30.73 481.56,30.80 C481.81,30.86 482.05,30.93 482.29,31.00 C482.53,31.07 482.77,31.14 483.02,31.21 C483.26,31.29 483.50,31.37 483.74,31.45 C483.98,31.53 484.23,31.61 484.47,31.69 C484.71,31.77 484.95,31.86 485.19,31.95 C485.44,32.03 485.68,32.12 485.92,32.21 C486.16,32.31 486.40,32.40 486.64,32.50 C486.89,32.59 487.13,32.69 487.37,32.79 C487.61,32.89 487.85,32.99 488.10,33.10 C488.34,33.20 488.58,33.30 488.82,33.41 C489.06,33.52 489.31,33.63 489.55,33.74 C489.79,33.85 490.03,33.96 490.27,34.08 C490.52,34.19 490.88,34.37 491.00,34.42" stroke="#a6a6a6" stroke-width="1.75" fill="none" stroke-linejoin="round" stroke-dasharray="4.1 2.5"/>
<path d="M316.80,160.82 C316.92,160.74 317.28,160.51 317.53,160.35 C317.77,160.19 318.01,160.03 318.25,159.88 C318.49,159.72 318.74,159.55 318.98,159.39 C319.22,159.23 319.46,159.07 319.70,158.91 C319.95,158.74 320.19,158.58 320.43,158.41 C320.67,158.25 320.91,158.08 321.16,157.91 C321.40,157.74 321.64,157.58 321.88,157.41 C322.12,157.24 322.36,157.06 322.61,156.89 C322.85,156.72 323.09,156.55 323.33,156.37 C323.57,156.20 323.82,156.02 324.06,155.85 C324.30,155.67 324.54,155.49 324.78,155.31 C325.03,155.13 325.27,154.95 325.51,154.77 C325.75,154.59 325.99,154.41 326.24,154.22 C326.48,154.04 326.72,153.85 326.96,153.67 C327.20,153.48 327.45,153.29 327.69,153.10 C327.93,152.91 328.17,152.72 328.41,152.53 C328.66,152.34 328.90,152.15 329.14,151.95 C329.38,151.76 329.62,151.56 329.87,151.37 C330.11,151.17 330.35,150.97 330.59,150.77 C330.83,150.57 331.07,150.37 331.32,150.17 C331.56,149.97 331.80,149.76 332.04,149.56 C332.28,149.35 332.53,149.15 332.77,148.94 C333.01,148.73 333.25,148.53 333.49,148.32 C333.74,148.11 333.98,147.89 334.22,147.68 C334.46,147.47 334.70,147.26 334.95,147.04 C335.19,146.83 335.43,146.61 335.67,146.39 C335.91,146.17 336.16,145.96 336.40,145.74 C336.64,145.52 336.88,145.29 337.12,145.07 C337.37,144.85 337.61,144.62 337.85,144.40 C338.09,144.17 338.33,143.95 338.57,143.72 C338.82,143.49 339.06,143.26 339.30,143.03 C339.54,142.80 339.78,142.57 340.03,142.34 C340.27,142.11 340.51,141.87 340.75,141.64 C340.99,141.40 341.24,141.16 341.48,140.93 C341.72,140.69 341.96,140.45 342.20,140.21 C342.45,139.97 342.69,139.73 342.93,139.49 C343.17,139.25 343.41,139.00 343.66,138.76 C343.90,138.51 344.14,138.27 344.38,138.02 C344.62,137.78 344.87,137.53 345.11,137.28 C345.35,137.03 345.59,136.78 345.83,136.53 C346.08,136.28 346.32,136.03 346.56,135.78 C346.80,135.52 347.04,135.27 347.29,135.02 C347.53,134.76 347.77,134.50 348.01,134.25 C348.25,133.99 348.49,133.73 348.74,133.48 C348.98,133.22 349.22,132.96 349.46,132.70 C349.70,132.44 349.95,132.18 350.19,131.92 C350.43,131.66 350.67,131.39 350.91,131.13 C351.16,130.87 351.40,130.60 351.64,130.34 C351.88,130.07 352.12,129.81 352.37,129.54 C352.61,129.28 352.85,129.01 353.09,128.74 C353.33,128.48 353.58,128.21 353.82,127.94 C354.06,127.67 354.30,127.40 354.54,127.13 C354.79,126.86 355.03,126.59 355.27,126.32 C355.51,126.05 355.75,125.78 356.00,125.51 C356.24,125.24 356.48,124.97 356.72,124.70 C356.96,124.42 357.20,124.15 357.45,123.88 C357.69,123.61 357.93,123.33 358.17,123.06 C358.41,122.79 358.66,122.51 358.90,122.24 C359.14,121.97 359.38,121.69 359.62,121.42 C359.87,121.15 360.11,120.87 360.35,120.60 C360.59,120.32 360.83,120.05 361.08,119.78 C361.32,119.50 361.56,119.23 361.80,118.96 C362.04,118.68 362.29,118.41 362.53,118.13 C362.77,117.86 363.01,117.59 363.25,117.32 C363.50,117.04 363.74,116.77 363.98,116.50 C364.22,116.23 364.46,115.95 364.71,115.68 C364.95,115.41 365.19,115.14 365.43,114.87 C365.67,114.60 365.91,114.33 366.16,114.06 C366.40,113.79 366.64,113.52 366.88,113.25 C367.12,112.98 367.37,112.71 367.61,112.45 C367.85,112.18 368.09,111.91 368.33,111.65 C368.58,111.38 368.82,111.12 369.06,110.85 C369.30,110.59 369.54,110.33 369.79,110.06 C370.03,109.80 370.27,109.54 370.51,109.28 C370.75,109.02 371.00,108.76 371.24,108.50 C371.48,108.25 371.72,107.99 371.96,107.73 C372.21,107.48 372.45,107.23 372.69,106.97 C372.93,106.72 373.17,106.47 373.42,106.22 C373.66,105.97 373.90,105.72 374.14,105.47 C374.38,105.23 374.62,104.98 374.87,104.74 C375.11,104.49 375.35,104.25 375.59,104.01 C375.83,103.77 376.08,103.53 376.32,103.30 C376.56,103.06 376.80,102.82 377.04,102.59 C377.29,102.36 377.53,102.13 377.77,101.90 C378.01,101.67 378.25,101.45 378.50,101.22 C378.74,101.00 378.98,100.77 379.22,100.55 C379.46,100.33 379.71,100.11 379.95,99.90 C380.19,99.68 380.43,99.47 380.67,99.26 C380.92,99.05 381.16,98.84 381.40,98.64 C381.64,98.43 381.88,98.23 382.12,98.03 C382.37,97.83 382.61,97.63 382.85,97.44 C383.09,97.24 383.33,97.05 383.58,96.87 C383.82,96.68 384.06,96.49 384.30,96.31 C384.54,96.13 384.79,95.95 385.03,95.77 C385.27,95.60 385.51,95.42 385.75,95.25 C386.00,95.08 386.24,94.92 386.48,94.76 C386.72,94.60 386.96,94.44 387.21,94.28 C387.45,94.13 387.69,93.98 387.93,93.83 C388.17,93.68 388.42,93.53 388.66,93.39 C388.90,93.25 389.14,93.12 389.38,92.99 C389.63,92.86 389.87,92.73 390.11,92.61 C390.35,92.48 390.59,92.36 390.84,92.24 C391.08,92.13 391.32,92.01 391.56,91.91 C391.80,91.80 392.04,91.70 392.29,91.61 C392.53,91.51 392.77,91.41 393.01,91.32 C393.25,91.22 393.50,91.12 393.74,91.03 C393.98,90.94 394.22,90.85 394.46,90.76 C394.71,90.68 394.95,90.61 395.19,90.55 C395.43,90.48 395.76,90.42 395.92,90.39 C396.07,90.36 396.00,90.38 396.12,90.37 C396.24,90.35 396.43,90.33 396.64,90.31 C396.85,90.28 397.13,90.25 397.37,90.23 C397.61,90.20 397.85,90.18 398.09,90.16 C398.34,90.13 398.58,90.11 398.82,90.09 C399.06,90.07 399.30,90.05 399.55,90.03 C399.79,90.01 400.03,90.00 400.27,89.98 C400.51,89.97 400.75,89.95 401.00,89.94 C401.24,89.93 401.48,89.92 401.72,89.91 C401.96,89.90 402.21,89.89 402.45,89.89 C402.69,89.88 402.98,89.88 403.17,89.88 C403.37,89.87 403.49,89.87 403.61,89.87 C403.73,89.88 403.73,89.86 403.90,89.89 C404.07,89.91 404.38,89.95 404.63,90.00 C404.87,90.05 405.11,90.13 405.35,90.19 C405.59,90.26 405.84,90.34 406.08,90.40 C406.32,90.46 406.58,90.52 406.80,90.56 C407.03,90.59 407.32,90.60 407.44,90.61 C407.56,90.62 407.39,90.66 407.53,90.61 C407.66,90.56 408.01,90.48 408.25,90.33 C408.50,90.17 408.74,89.93 408.98,89.66 C409.22,89.40 409.49,89.02 409.71,88.73 C409.92,88.44 410.14,88.10 410.26,87.91 C410.38,87.72 410.28,87.99 410.43,87.59 C410.58,87.19 410.92,86.34 411.16,85.51 C411.40,84.69 411.73,83.25 411.88,82.63 C412.04,82.00 411.97,82.35 412.09,81.76 C412.21,81.17 412.40,80.29 412.61,79.09 C412.82,77.90 413.19,75.48 413.34,74.57 C413.48,73.67 413.36,74.48 413.48,73.64 C413.60,72.80 413.84,71.08 414.06,69.53 C414.28,67.97 414.55,65.94 414.79,64.29 C415.03,62.64 415.30,60.93 415.51,59.62 C415.73,58.31 415.97,57.07 416.09,56.42 C416.21,55.77 416.09,56.35 416.24,55.74 C416.38,55.12 416.77,53.45 416.97,52.70 C417.16,51.96 417.28,51.63 417.40,51.25 C417.52,50.87 417.52,50.87 417.69,50.42 C417.86,49.97 418.17,49.14 418.42,48.57 C418.66,48.00 418.90,47.48 419.14,46.99 C419.38,46.49 419.72,45.88 419.87,45.61 C420.01,45.33 419.89,45.56 420.01,45.35 C420.13,45.14 420.38,44.72 420.59,44.36 C420.81,44.01 421.08,43.59 421.32,43.22 C421.56,42.86 421.80,42.51 422.05,42.18 C422.29,41.84 422.53,41.52 422.77,41.21 C423.01,40.89 423.26,40.59 423.50,40.30 C423.74,40.01 423.98,39.73 424.22,39.44 C424.47,39.16 424.71,38.88 424.95,38.60 C425.19,38.32 425.43,38.03 425.68,37.76 C425.92,37.49 426.16,37.22 426.40,36.97 C426.64,36.72 426.88,36.47 427.13,36.25 C427.37,36.04 427.63,35.82 427.85,35.66 C428.08,35.49 428.37,35.34 428.49,35.26 C428.61,35.19 428.44,35.28 428.58,35.22 C428.71,35.15 429.06,34.98 429.30,34.87 C429.55,34.76 429.79,34.65 430.03,34.56 C430.27,34.46 430.51,34.37 430.76,34.29 C431.00,34.21 431.24,34.13 431.48,34.06 C431.72,34.00 432.00,33.93 432.21,33.88 C432.41,33.84 432.58,33.81 432.70,33.79 C432.82,33.76 432.77,33.77 432.93,33.75 C433.09,33.72 433.42,33.66 433.66,33.62 C433.90,33.58 434.14,33.55 434.38,33.51 C434.63,33.48 434.87,33.44 435.11,33.41 C435.35,33.39 435.59,33.36 435.84,33.34 C436.08,33.32 436.37,33.31 436.56,33.30 C436.76,33.29 436.88,33.29 437.00,33.29 C437.12,33.29 437.12,33.29 437.29,33.30 C437.46,33.31 437.77,33.34 438.01,33.37 C438.26,33.41 438.50,33.46 438.74,33.51 C438.98,33.57 439.22,33.63 439.47,33.70 C439.71,33.77 439.95,33.85 440.19,33.93 C440.43,34.01 440.75,34.12 440.92,34.18 C441.09,34.23 441.09,34.23 441.21,34.28 C441.33,34.32 441.45,34.36 441.64,34.46 C441.84,34.55 442.13,34.70 442.37,34.85 C442.61,34.99 442.85,35.16 443.10,35.33 C443.34,35.50 443.58,35.69 443.82,35.87 C444.06,36.05 444.30,36.24 444.55,36.43 C444.79,36.62 445.03,36.82 445.27,37.03 C445.51,37.24 445.76,37.47 446.00,37.70 C446.24,37.93 446.48,38.17 446.72,38.41 C446.97,38.65 447.21,38.90 447.45,39.14 C447.69,39.39 447.93,39.63 448.18,39.89 C448.42,40.14 448.66,40.40 448.90,40.66 C449.14,40.93 449.39,41.19 449.63,41.47 C449.87,41.74 450.11,42.01 450.35,42.29 C450.60,42.57 450.84,42.85 451.08,43.14 C451.32,43.42 451.56,43.71 451.81,44.01 C452.05,44.30 452.29,44.60 452.53,44.90 C452.77,45.21 453.01,45.51 453.26,45.82 C453.50,46.12 453.74,46.44 453.98,46.75 C454.22,47.07 454.47,47.38 454.71,47.71 C454.95,48.03 455.19,48.35 455.43,48.68 C455.68,49.01 455.92,49.34 456.16,49.67 C456.40,50.00 456.64,50.34 456.89,50.68 C457.13,51.02 457.37,51.36 457.61,51.70 C457.85,52.05 458.10,52.39 458.34,52.74 C458.58,53.09 458.82,53.44 459.06,53.79 C459.31,54.15 459.55,54.50 459.79,54.86 C460.03,55.22 460.27,55.58 460.51,55.94 C460.76,56.30 461.00,56.67 461.24,57.03 C461.48,57.40 461.72,57.77 461.97,58.13 C462.21,58.50 462.45,58.87 462.69,59.24 C462.93,59.62 463.18,59.99 463.42,60.37 C463.66,60.74 463.90,61.12 464.14,61.50 C464.39,61.87 464.63,62.25 464.87,62.63 C465.11,63.01 465.35,63.39 465.60,63.77 C465.84,64.16 466.08,64.54 466.32,64.92 C466.56,65.31 466.81,65.69 467.05,66.08 C467.29,66.46 467.53,66.85 467.77,67.24 C468.02,67.62 468.26,68.01 468.50,68.40 C468.74,68.78 468.98,69.17 469.23,69.56 C469.47,69.95 469.71,70.34 469.95,70.72 C470.19,71.11 470.43,71.50 470.68,71.89 C470.92,72.28 471.16,72.66 471.40,73.05 C471.64,73.44 471.89,73.83 472.13,74.22 C472.37,74.60 472.61,74.99 472.85,75.38 C473.10,75.76 473.34,76.15 473.58,76.53 C473.82,76.92 474.06,77.30 474.31,77.69 C474.55,78.07 474.79,78.45 475.03,78.84 C475.27,79.22 475.52,79.60 475.76,79.98 C476.00,80.36 476.24,80.74 476.48,81.12 C476.73,81.50 476.97,81.87 477.21,82.25 C477.45,82.62 477.69,83.00 477.94,83.37 C478.18,83.74 478.42,84.11 478.66,84.48 C478.90,84.85 479.14,85.22 479.39,85.59 C479.63,85.95 479.87,86.31 480.11,86.68 C480.35,87.04 480.60,87.40 480.84,87.76 C481.08,88.12 481.32,88.47 481.56,88.83 C481.81,89.18 482.05,89.53 482.29,89.88 C482.53,90.23 482.77,90.58 483.02,90.92 C483.26,91.27 483.50,91.61 483.74,91.95 C483.98,92.29 484.23,92.62 484.47,92.96 C484.71,93.29 484.95,93.62 485.19,93.95 C485.44,94.28 485.68,94.60 485.92,94.92 C486.16,95.25 486.40,95.56 486.64,95.88 C486.89,96.20 487.13,96.51 487.37,96.82 C487.61,97.13 487.85,97.43 488.10,97.73 C488.34,98.04 488.58,98.33 488.82,98.63 C489.06,98.92 489.31,99.21 489.55,99.50 C489.79,99.79 490.03,100.07 490.27,100.35 C490.52,100.63 490.88,101.04 491.00,101.18" stroke="#c8161d" stroke-width="1.80" fill="none" stroke-linejoin="round"/>
<path d="M316.80,160.96 C316.92,160.88 317.28,160.66 317.53,160.50 C317.77,160.35 318.01,160.19 318.25,160.04 C318.49,159.88 318.74,159.72 318.98,159.57 C319.22,159.41 319.46,159.25 319.70,159.09 C319.95,158.92 320.19,158.76 320.43,158.60 C320.67,158.43 320.91,158.27 321.16,158.10 C321.40,157.93 321.64,157.76 321.88,157.60 C322.12,157.43 322.36,157.25 322.61,157.08 C322.85,156.91 323.09,156.73 323.33,156.56 C323.57,156.38 323.82,156.21 324.06,156.03 C324.30,155.85 324.54,155.67 324.78,155.49 C325.03,155.31 325.27,155.12 325.51,154.94 C325.75,154.75 325.99,154.57 326.24,154.38 C326.48,154.19 326.72,154.00 326.96,153.81 C327.20,153.62 327.45,153.43 327.69,153.24 C327.93,153.04 328.17,152.85 328.41,152.65 C328.66,152.46 328.90,152.26 329.14,152.06 C329.38,151.86 329.62,151.66 329.87,151.46 C330.11,151.26 330.35,151.05 330.59,150.85 C330.83,150.64 331.07,150.44 331.32,150.23 C331.56,150.02 331.80,149.81 332.04,149.60 C332.28,149.39 332.53,149.18 332.77,148.96 C333.01,148.75 333.25,148.53 333.49,148.32 C333.74,148.10 333.98,147.88 334.22,147.66 C334.46,147.44 334.70,147.22 334.95,147.00 C335.19,146.78 335.43,146.55 335.67,146.33 C335.91,146.10 336.16,145.88 336.40,145.65 C336.64,145.42 336.88,145.19 337.12,144.96 C337.37,144.73 337.61,144.50 337.85,144.27 C338.09,144.03 338.33,143.80 338.57,143.56 C338.82,143.33 339.06,143.09 339.30,142.85 C339.54,142.61 339.78,142.37 340.03,142.13 C340.27,141.89 340.51,141.65 340.75,141.40 C340.99,141.16 341.24,140.92 341.48,140.67 C341.72,140.42 341.96,140.18 342.20,139.93 C342.45,139.68 342.69,139.43 342.93,139.18 C343.17,138.93 343.41,138.68 343.66,138.42 C343.90,138.17 344.14,137.92 344.38,137.66 C344.62,137.41 344.87,137.15 345.11,136.89 C345.35,136.64 345.59,136.38 345.83,136.12 C346.08,135.86 346.32,135.60 346.56,135.34 C346.80,135.08 347.04,134.81 347.29,134.55 C347.53,134.29 347.77,134.02 348.01,133.76 C348.25,133.49 348.49,133.23 348.74,132.96 C348.98,132.70 349.22,132.43 349.46,132.16 C349.70,131.89 349.95,131.62 350.19,131.35 C350.43,131.08 350.67,130.81 350.91,130.54 C351.16,130.27 351.40,130.00 351.64,129.73 C351.88,129.45 352.12,129.18 352.37,128.91 C352.61,128.63 352.85,128.36 353.09,128.08 C353.33,127.81 353.58,127.53 353.82,127.26 C354.06,126.98 354.30,126.70 354.54,126.43 C354.79,126.15 355.03,125.87 355.27,125.60 C355.51,125.32 355.75,125.04 356.00,124.76 C356.24,124.48 356.48,124.20 356.72,123.92 C356.96,123.64 357.20,123.37 357.45,123.09 C357.69,122.81 357.93,122.53 358.17,122.25 C358.41,121.97 358.66,121.69 358.90,121.41 C359.14,121.13 359.38,120.85 359.62,120.57 C359.87,120.29 360.11,120.01 360.35,119.73 C360.59,119.45 360.83,119.17 361.08,118.89 C361.32,118.61 361.56,118.33 361.80,118.05 C362.04,117.77 362.29,117.49 362.53,117.21 C362.77,116.93 363.01,116.65 363.25,116.38 C363.50,116.10 363.74,115.82 363.98,115.54 C364.22,115.26 364.46,114.99 364.71,114.71 C364.95,114.43 365.19,114.16 365.43,113.88 C365.67,113.61 365.91,113.33 366.16,113.06 C366.40,112.78 366.64,112.51 366.88,112.24 C367.12,111.96 367.37,111.69 367.61,111.42 C367.85,111.15 368.09,110.88 368.33,110.61 C368.58,110.34 368.82,110.07 369.06,109.80 C369.30,109.53 369.54,109.27 369.79,109.00 C370.03,108.74 370.27,108.47 370.51,108.21 C370.75,107.94 371.00,107.68 371.24,107.42 C371.48,107.16 371.72,106.90 371.96,106.64 C372.21,106.38 372.45,106.13 372.69,105.87 C372.93,105.62 373.17,105.36 373.42,105.11 C373.66,104.86 373.90,104.60 374.14,104.35 C374.38,104.11 374.62,103.86 374.87,103.61 C375.11,103.37 375.35,103.12 375.59,102.88 C375.83,102.64 376.08,102.40 376.32,102.16 C376.56,101.92 376.80,101.68 377.04,101.45 C377.29,101.21 377.53,100.98 377.77,100.75 C378.01,100.52 378.25,100.29 378.50,100.07 C378.74,99.84 378.98,99.61 379.22,99.39 C379.46,99.17 379.71,98.95 379.95,98.73 C380.19,98.52 380.43,98.30 380.67,98.09 C380.92,97.88 381.16,97.67 381.40,97.47 C381.64,97.26 381.88,97.06 382.12,96.85 C382.37,96.65 382.61,96.45 382.85,96.26 C383.09,96.06 383.33,95.87 383.58,95.68 C383.82,95.49 384.06,95.31 384.30,95.13 C384.54,94.94 384.79,94.76 385.03,94.58 C385.27,94.41 385.51,94.23 385.75,94.06 C386.00,93.89 386.24,93.73 386.48,93.56 C386.72,93.40 386.96,93.24 387.21,93.09 C387.45,92.93 387.69,92.78 387.93,92.63 C388.17,92.48 388.42,92.33 388.66,92.19 C388.90,92.05 389.14,91.92 389.38,91.78 C389.63,91.65 389.87,91.52 390.11,91.40 C390.35,91.27 390.59,91.15 390.84,91.03 C391.08,90.91 391.32,90.80 391.56,90.69 C391.80,90.58 392.04,90.49 392.29,90.39 C392.53,90.29 392.77,90.19 393.01,90.10 C393.25,90.00 393.50,89.90 393.74,89.81 C393.98,89.71 394.22,89.62 394.46,89.54 C394.71,89.46 394.95,89.38 395.19,89.32 C395.43,89.25 395.76,89.19 395.92,89.16 C396.07,89.13 396.00,89.15 396.12,89.14 C396.24,89.12 396.43,89.10 396.64,89.08 C396.85,89.05 397.13,89.02 397.37,89.00 C397.61,88.97 397.85,88.95 398.09,88.93 C398.34,88.90 398.58,88.88 398.82,88.86 C399.06,88.84 399.30,88.82 399.55,88.80 C399.79,88.78 400.03,88.77 400.27,88.75 C400.51,88.74 400.75,88.72 401.00,88.71 C401.24,88.70 401.48,88.69 401.72,88.68 C401.96,88.67 402.21,88.66 402.45,88.66 C402.69,88.65 402.98,88.65 403.17,88.65 C403.37,88.64 403.49,88.64 403.61,88.64 C403.73,88.65 403.73,88.63 403.90,88.66 C404.07,88.68 404.38,88.72 404.63,88.77 C404.87,88.82 405.11,88.90 405.35,88.96 C405.59,89.03 405.84,89.11 406.08,89.17 C406.32,89.23 406.58,89.29 406.80,89.33 C407.03,89.36 407.32,89.37 407.44,89.38 C407.56,89.39 407.39,89.41 407.53,89.38 C407.66,89.35 408.01,89.31 408.25,89.21 C408.50,89.11 408.74,88.96 408.98,88.79 C409.22,88.61 409.46,88.39 409.71,88.15 C409.95,87.91 410.29,87.51 410.43,87.35 C410.58,87.18 410.46,87.42 410.58,87.17 C410.70,86.92 410.94,86.54 411.16,85.86 C411.38,85.19 411.69,83.89 411.88,83.13 C412.08,82.36 412.20,81.80 412.32,81.26 C412.44,80.73 412.44,80.82 412.61,79.91 C412.78,79.01 413.14,76.95 413.34,75.82 C413.53,74.69 413.65,73.90 413.77,73.15 C413.89,72.39 413.89,72.42 414.06,71.27 C414.23,70.12 414.62,67.38 414.79,66.22 C414.96,65.06 414.96,65.08 415.08,64.29 C415.20,63.50 415.32,62.67 415.51,61.48 C415.71,60.29 416.09,57.99 416.24,57.14 C416.38,56.30 416.26,56.97 416.38,56.42 C416.51,55.86 416.75,54.67 416.97,53.81 C417.18,52.95 417.45,51.98 417.69,51.25 C417.93,50.52 418.17,49.97 418.42,49.42 C418.66,48.86 418.90,48.38 419.14,47.91 C419.38,47.44 419.67,46.94 419.87,46.60 C420.06,46.25 420.18,46.05 420.30,45.84 C420.42,45.63 420.42,45.62 420.59,45.34 C420.76,45.06 421.08,44.53 421.32,44.14 C421.56,43.75 421.80,43.38 422.05,43.01 C422.29,42.64 422.53,42.29 422.77,41.95 C423.01,41.61 423.26,41.28 423.50,40.96 C423.74,40.64 424.05,40.25 424.22,40.04 C424.39,39.83 424.39,39.83 424.51,39.69 C424.63,39.55 424.76,39.40 424.95,39.18 C425.14,38.95 425.43,38.61 425.68,38.33 C425.92,38.06 426.16,37.79 426.40,37.53 C426.64,37.28 426.88,37.03 427.13,36.81 C427.37,36.58 427.63,36.36 427.85,36.19 C428.08,36.01 428.37,35.83 428.49,35.75 C428.61,35.67 428.44,35.78 428.58,35.70 C428.71,35.63 429.06,35.43 429.30,35.30 C429.55,35.17 429.79,35.05 430.03,34.94 C430.27,34.82 430.51,34.71 430.76,34.62 C431.00,34.52 431.24,34.43 431.48,34.35 C431.72,34.27 432.00,34.19 432.21,34.14 C432.41,34.08 432.58,34.06 432.70,34.03 C432.82,34.01 432.77,34.02 432.93,33.99 C433.09,33.96 433.42,33.91 433.66,33.87 C433.90,33.83 434.14,33.79 434.38,33.75 C434.63,33.72 434.87,33.69 435.11,33.66 C435.35,33.63 435.59,33.61 435.84,33.59 C436.08,33.57 436.37,33.55 436.56,33.55 C436.76,33.54 436.88,33.54 437.00,33.54 C437.12,33.54 437.12,33.53 437.29,33.55 C437.46,33.56 437.77,33.58 438.01,33.62 C438.26,33.66 438.50,33.71 438.74,33.76 C438.98,33.82 439.22,33.88 439.47,33.95 C439.71,34.02 439.95,34.10 440.19,34.18 C440.43,34.26 440.75,34.37 440.92,34.42 C441.09,34.48 441.09,34.48 441.21,34.52 C441.33,34.57 441.45,34.60 441.64,34.69 C441.84,34.78 442.13,34.93 442.37,35.06 C442.61,35.20 442.85,35.35 443.10,35.51 C443.34,35.67 443.58,35.84 443.82,36.01 C444.06,36.18 444.30,36.36 444.55,36.54 C444.79,36.73 445.03,36.92 445.27,37.12 C445.51,37.33 445.76,37.56 446.00,37.78 C446.24,38.01 446.48,38.25 446.72,38.49 C446.97,38.73 447.21,38.97 447.45,39.22 C447.69,39.46 447.93,39.70 448.18,39.95 C448.42,40.20 448.66,40.46 448.90,40.72 C449.14,40.98 449.39,41.25 449.63,41.52 C449.87,41.78 450.11,42.05 450.35,42.33 C450.60,42.61 450.84,42.89 451.08,43.17 C451.32,43.45 451.56,43.74 451.81,44.04 C452.05,44.33 452.29,44.63 452.53,44.92 C452.77,45.22 453.01,45.53 453.26,45.83 C453.50,46.14 453.74,46.45 453.98,46.76 C454.22,47.07 454.47,47.39 454.71,47.71 C454.95,48.03 455.19,48.35 455.43,48.68 C455.68,49.00 455.92,49.33 456.16,49.66 C456.40,49.99 456.64,50.33 456.89,50.67 C457.13,51.00 457.37,51.34 457.61,51.69 C457.85,52.03 458.10,52.37 458.34,52.72 C458.58,53.07 458.82,53.42 459.06,53.77 C459.31,54.12 459.55,54.48 459.79,54.83 C460.03,55.19 460.27,55.55 460.51,55.91 C460.76,56.27 461.00,56.64 461.24,57.00 C461.48,57.36 461.72,57.73 461.97,58.10 C462.21,58.47 462.45,58.84 462.69,59.21 C462.93,59.58 463.18,59.95 463.42,60.33 C463.66,60.70 463.90,61.08 464.14,61.46 C464.39,61.83 464.63,62.21 464.87,62.59 C465.11,62.97 465.35,63.35 465.60,63.73 C465.84,64.12 466.08,64.50 466.32,64.88 C466.56,65.27 466.81,65.65 467.05,66.04 C467.29,66.42 467.53,66.81 467.77,67.20 C468.02,67.58 468.26,67.97 468.50,68.36 C468.74,68.75 468.98,69.13 469.23,69.52 C469.47,69.91 469.71,70.30 469.95,70.69 C470.19,71.08 470.43,71.47 470.68,71.86 C470.92,72.24 471.16,72.63 471.40,73.02 C471.64,73.41 471.89,73.80 472.13,74.19 C472.37,74.58 472.61,74.97 472.85,75.35 C473.10,75.74 473.34,76.13 473.58,76.52 C473.82,76.90 474.06,77.29 474.31,77.67 C474.55,78.06 474.79,78.44 475.03,78.83 C475.27,79.21 475.52,79.60 475.76,79.98 C476.00,80.36 476.24,80.74 476.48,81.12 C476.73,81.50 476.97,81.88 477.21,82.26 C477.45,82.63 477.69,83.01 477.94,83.39 C478.18,83.76 478.42,84.14 478.66,84.51 C478.90,84.88 479.14,85.25 479.39,85.62 C479.63,85.98 479.87,86.35 480.11,86.72 C480.35,87.08 480.60,87.44 480.84,87.81 C481.08,88.17 481.32,88.53 481.56,88.88 C481.81,89.24 482.05,89.60 482.29,89.95 C482.53,90.30 482.77,90.65 483.02,91.00 C483.26,91.34 483.50,91.69 483.74,92.03 C483.98,92.38 484.23,92.72 484.47,93.06 C484.71,93.39 484.95,93.73 485.19,94.06 C485.44,94.39 485.68,94.72 485.92,95.04 C486.16,95.37 486.40,95.69 486.64,96.01 C486.89,96.33 487.13,96.65 487.37,96.97 C487.61,97.28 487.85,97.59 488.10,97.89 C488.34,98.20 488.58,98.50 488.82,98.80 C489.06,99.10 489.31,99.40 489.55,99.69 C489.79,99.98 490.03,100.27 490.27,100.55 C490.52,100.84 490.88,101.26 491.00,101.40" stroke="#19b04f" stroke-width="1.75" fill="none" stroke-linejoin="round" stroke-dasharray="4.3 2.2"/>
<path d="M319.80,29.90H347.10" stroke="#c8161d" stroke-width="1.60"/>
<path d="M319.80,42.50H347.10" stroke="#19b04f" stroke-width="1.45" stroke-dasharray="4.3 2.2"/>
<path d="M319.80,54.90H347.10" stroke="#a6a6a6" stroke-width="1.35" stroke-dasharray="4.1 2.5"/>
<path d="M63.64,229.40V377.30M78.08,229.40V377.30M92.53,229.40V377.30M121.41,229.40V377.30M150.29,229.40V377.30M179.18,229.40V377.30M193.62,229.40V377.30M208.06,229.40V377.30M49.20,367.44H222.50M49.20,357.58H222.50M49.20,347.72H222.50M49.20,337.86H222.50M49.20,318.14H222.50M49.20,308.28H222.50M49.20,298.42H222.50M49.20,288.56H222.50M49.20,268.84H222.50M49.20,258.98H222.50M49.20,249.12H222.50M49.20,239.26H222.50" stroke="#ececec" stroke-width="0.80" fill="none"/>
<path d="M49.20,229.40V377.30M106.97,229.40V377.30M164.73,229.40V377.30M49.20,328.00H222.50M49.20,278.70H222.50M49.20,229.40H222.50" stroke="#d6d6d6" stroke-width="0.90" fill="none"/>
<path d="M135.85,229.40V377.30" stroke="#cdcdcd" stroke-width="0.90"/>
<path d="M49.20,377.30H226.00M222.50,229.40V377.30M222.50,328.00H226.00M222.50,278.70H226.00M222.50,229.40H226.00" stroke="#bcbcbc" stroke-width="0.90" fill="none"/>
<path d="M49.20,351.61 C49.32,351.57 49.68,351.43 49.92,351.35 C50.16,351.26 50.40,351.17 50.64,351.08 C50.88,350.99 51.13,350.90 51.37,350.81 C51.61,350.72 51.85,350.63 52.09,350.54 C52.33,350.45 52.57,350.36 52.81,350.27 C53.05,350.18 53.29,350.09 53.53,350.00 C53.77,349.91 54.01,349.82 54.25,349.73 C54.50,349.64 54.74,349.55 54.98,349.46 C55.22,349.37 55.46,349.28 55.70,349.18 C55.94,349.09 56.18,349.00 56.42,348.91 C56.66,348.82 56.90,348.73 57.14,348.63 C57.38,348.54 57.62,348.45 57.87,348.36 C58.11,348.27 58.35,348.17 58.59,348.08 C58.83,347.99 59.07,347.90 59.31,347.81 C59.55,347.71 59.79,347.62 60.03,347.53 C60.27,347.44 60.51,347.34 60.75,347.25 C60.99,347.16 61.23,347.07 61.48,346.97 C61.72,346.88 61.96,346.79 62.20,346.69 C62.44,346.60 62.68,346.51 62.92,346.42 C63.16,346.32 63.40,346.23 63.64,346.14 C63.88,346.04 64.12,345.95 64.36,345.86 C64.60,345.77 64.85,345.67 65.09,345.58 C65.33,345.49 65.57,345.39 65.81,345.30 C66.05,345.21 66.29,345.12 66.53,345.02 C66.77,344.93 67.01,344.84 67.25,344.74 C67.49,344.65 67.73,344.56 67.97,344.47 C68.21,344.37 68.46,344.28 68.70,344.19 C68.94,344.10 69.18,344.00 69.42,343.91 C69.66,343.82 69.90,343.73 70.14,343.63 C70.38,343.54 70.62,343.45 70.86,343.36 C71.10,343.27 71.34,343.17 71.58,343.08 C71.83,342.99 72.07,342.90 72.31,342.81 C72.55,342.71 72.79,342.62 73.03,342.53 C73.27,342.44 73.51,342.35 73.75,342.26 C73.99,342.17 74.23,342.07 74.47,341.98 C74.71,341.89 74.95,341.80 75.20,341.71 C75.44,341.62 75.68,341.53 75.92,341.44 C76.16,341.35 76.40,341.26 76.64,341.17 C76.88,341.08 77.12,340.99 77.36,340.90 C77.60,340.81 77.84,340.72 78.08,340.63 C78.32,340.54 78.56,340.45 78.81,340.36 C79.05,340.28 79.29,340.19 79.53,340.10 C79.77,340.01 80.01,339.92 80.25,339.83 C80.49,339.75 80.73,339.66 80.97,339.57 C81.21,339.48 81.45,339.40 81.69,339.31 C81.93,339.22 82.18,339.14 82.42,339.05 C82.66,338.96 82.90,338.88 83.14,338.79 C83.38,338.70 83.62,338.62 83.86,338.53 C84.10,338.45 84.34,338.36 84.58,338.28 C84.82,338.19 85.06,338.11 85.30,338.02 C85.54,337.94 85.79,337.86 86.03,337.77 C86.27,337.69 86.51,337.61 86.75,337.52 C86.99,337.44 87.23,337.36 87.47,337.28 C87.71,337.19 87.95,337.11 88.19,337.03 C88.43,336.95 88.67,336.87 88.91,336.79 C89.16,336.70 89.40,336.62 89.64,336.54 C89.88,336.46 90.12,336.38 90.36,336.30 C90.60,336.22 90.84,336.15 91.08,336.07 C91.32,335.99 91.56,335.91 91.80,335.83 C92.04,335.75 92.28,335.68 92.53,335.60 C92.77,335.52 93.01,335.45 93.25,335.37 C93.49,335.29 93.73,335.22 93.97,335.14 C94.21,335.07 94.45,334.99 94.69,334.92 C94.93,334.84 95.17,334.77 95.41,334.69 C95.65,334.62 95.89,334.55 96.14,334.47 C96.38,334.40 96.62,334.33 96.86,334.26 C97.10,334.19 97.34,334.11 97.58,334.04 C97.82,333.97 98.06,333.90 98.30,333.83 C98.54,333.76 98.78,333.69 99.02,333.62 C99.26,333.55 99.51,333.49 99.75,333.42 C99.99,333.35 100.23,333.28 100.47,333.22 C100.71,333.15 100.95,333.08 101.19,333.02 C101.43,332.95 101.67,332.89 101.91,332.82 C102.15,332.76 102.39,332.69 102.63,332.63 C102.87,332.56 103.12,332.50 103.36,332.44 C103.60,332.38 103.84,332.31 104.08,332.25 C104.32,332.19 104.56,332.13 104.80,332.07 C105.04,332.01 105.28,331.95 105.52,331.89 C105.76,331.83 106.00,331.77 106.24,331.72 C106.49,331.66 106.73,331.60 106.97,331.55 C107.21,331.49 107.45,331.43 107.69,331.38 C107.93,331.32 108.17,331.27 108.41,331.21 C108.65,331.16 108.89,331.11 109.13,331.05 C109.37,331.00 109.61,330.95 109.86,330.90 C110.10,330.84 110.34,330.79 110.58,330.74 C110.82,330.69 111.06,330.64 111.30,330.59 C111.54,330.55 111.78,330.50 112.02,330.45 C112.26,330.40 112.50,330.36 112.74,330.31 C112.98,330.26 113.22,330.22 113.47,330.17 C113.71,330.13 113.95,330.09 114.19,330.04 C114.43,330.00 114.67,329.96 114.91,329.91 C115.15,329.87 115.39,329.83 115.63,329.79 C115.87,329.75 116.11,329.71 116.35,329.67 C116.59,329.64 116.84,329.60 117.08,329.56 C117.32,329.52 117.56,329.49 117.80,329.45 C118.04,329.41 118.28,329.38 118.52,329.35 C118.76,329.31 119.00,329.28 119.24,329.25 C119.48,329.21 119.72,329.18 119.96,329.15 C120.20,329.12 120.45,329.09 120.69,329.06 C120.93,329.03 121.17,329.00 121.41,328.97 C121.65,328.95 121.89,328.92 122.13,328.89 C122.37,328.87 122.61,328.84 122.85,328.82 C123.09,328.79 123.33,328.77 123.57,328.75 C123.82,328.72 124.06,328.70 124.30,328.68 C124.54,328.66 124.78,328.64 125.02,328.62 C125.26,328.59 125.50,328.57 125.74,328.55 C125.98,328.53 126.22,328.51 126.46,328.50 C126.70,328.48 126.94,328.48 127.19,328.47 C127.43,328.47 127.67,328.48 127.91,328.48 C128.15,328.48 128.41,328.48 128.63,328.48 C128.85,328.49 129.09,328.49 129.21,328.49 C129.33,328.49 129.21,328.49 129.35,328.50 C129.50,328.50 129.83,328.51 130.07,328.52 C130.31,328.54 130.55,328.55 130.80,328.57 C131.04,328.59 131.28,328.62 131.52,328.64 C131.76,328.66 132.00,328.69 132.24,328.72 C132.48,328.75 132.72,328.78 132.96,328.81 C133.20,328.84 133.44,328.87 133.68,328.91 C133.92,328.94 134.17,328.97 134.41,329.00 C134.65,329.03 134.89,329.07 135.13,329.10 C135.37,329.13 135.61,329.15 135.85,329.18 C136.09,329.21 136.33,329.25 136.57,329.28 C136.81,329.32 137.05,329.37 137.29,329.40 C137.53,329.44 137.78,329.48 138.02,329.51 C138.26,329.54 138.57,329.56 138.74,329.57 C138.91,329.58 138.91,329.60 139.03,329.58 C139.15,329.56 139.27,329.58 139.46,329.46 C139.65,329.34 139.94,329.11 140.18,328.87 C140.42,328.62 140.76,328.17 140.90,327.99 C141.05,327.81 140.93,328.00 141.05,327.80 C141.17,327.60 141.41,327.27 141.63,326.79 C141.84,326.32 142.11,325.63 142.35,324.96 C142.59,324.29 142.83,323.59 143.07,322.77 C143.31,321.96 143.55,321.07 143.79,320.07 C144.03,319.07 144.27,317.90 144.52,316.79 C144.76,315.68 145.04,314.28 145.24,313.41 C145.43,312.53 145.55,312.04 145.67,311.53 C145.79,311.02 145.79,311.04 145.96,310.35 C146.13,309.66 146.44,308.37 146.68,307.40 C146.92,306.42 147.16,305.45 147.40,304.53 C147.64,303.60 147.93,302.54 148.13,301.86 C148.32,301.17 148.44,300.79 148.56,300.39 C148.68,300.00 148.68,299.98 148.85,299.49 C149.02,298.99 149.33,298.09 149.57,297.42 C149.81,296.74 150.05,296.10 150.29,295.46 C150.53,294.83 150.77,294.21 151.01,293.60 C151.25,292.98 151.54,292.28 151.74,291.77 C151.93,291.26 152.08,290.86 152.20,290.53 C152.32,290.20 152.29,290.28 152.46,289.78 C152.62,289.28 152.94,288.28 153.18,287.51 C153.42,286.74 153.66,285.92 153.90,285.15 C154.14,284.39 154.46,283.44 154.62,282.94 C154.79,282.44 154.79,282.47 154.91,282.15 C155.03,281.83 155.15,281.51 155.35,281.03 C155.54,280.54 155.83,279.81 156.07,279.24 C156.31,278.66 156.55,278.10 156.79,277.57 C157.03,277.04 157.31,276.47 157.51,276.06 C157.71,275.66 157.88,275.37 158.00,275.15 C158.12,274.93 158.08,275.01 158.23,274.75 C158.39,274.49 158.72,273.95 158.96,273.57 C159.20,273.19 159.44,272.84 159.68,272.49 C159.92,272.14 160.16,271.81 160.40,271.48 C160.64,271.16 160.88,270.85 161.12,270.54 C161.36,270.23 161.62,269.91 161.85,269.63 C162.07,269.34 162.36,268.99 162.48,268.84 C162.60,268.69 162.43,268.89 162.57,268.73 C162.70,268.58 163.05,268.18 163.29,267.91 C163.53,267.64 163.77,267.40 164.01,267.13 C164.25,266.87 164.49,266.60 164.73,266.31 C164.97,266.01 165.21,265.70 165.46,265.38 C165.70,265.06 165.94,264.72 166.18,264.39 C166.42,264.06 166.66,263.72 166.90,263.39 C167.14,263.06 167.38,262.73 167.62,262.41 C167.86,262.09 168.10,261.78 168.34,261.47 C168.58,261.15 168.83,260.84 169.07,260.53 C169.31,260.22 169.55,259.91 169.79,259.61 C170.03,259.30 170.27,259.00 170.51,258.70 C170.75,258.40 170.99,258.10 171.23,257.80 C171.47,257.50 171.71,257.21 171.95,256.91 C172.19,256.62 172.44,256.33 172.68,256.04 C172.92,255.75 173.16,255.46 173.40,255.18 C173.64,254.90 173.88,254.61 174.12,254.33 C174.36,254.05 174.60,253.77 174.84,253.50 C175.08,253.22 175.32,252.95 175.56,252.68 C175.81,252.41 176.05,252.14 176.29,251.87 C176.53,251.60 176.77,251.34 177.01,251.08 C177.25,250.81 177.49,250.55 177.73,250.30 C177.97,250.04 178.21,249.78 178.45,249.53 C178.69,249.28 178.93,249.03 179.18,248.78 C179.42,248.53 179.66,248.29 179.90,248.04 C180.14,247.80 180.38,247.56 180.62,247.32 C180.86,247.08 181.10,246.85 181.34,246.61 C181.58,246.38 181.82,246.15 182.06,245.92 C182.30,245.69 182.54,245.47 182.79,245.25 C183.03,245.02 183.27,244.80 183.51,244.58 C183.75,244.37 183.99,244.15 184.23,243.94 C184.47,243.73 184.71,243.52 184.95,243.31 C185.19,243.10 185.43,242.90 185.67,242.70 C185.91,242.50 186.16,242.30 186.40,242.10 C186.64,241.90 186.88,241.71 187.12,241.52 C187.36,241.33 187.60,241.14 187.84,240.96 C188.08,240.77 188.32,240.59 188.56,240.41 C188.80,240.23 189.04,240.05 189.28,239.88 C189.52,239.70 189.77,239.53 190.01,239.36 C190.25,239.20 190.49,239.03 190.73,238.87 C190.97,238.71 191.21,238.55 191.45,238.39 C191.69,238.24 191.93,238.08 192.17,237.93 C192.41,237.78 192.65,237.63 192.89,237.49 C193.14,237.35 193.38,237.21 193.62,237.07 C193.86,236.93 194.10,236.80 194.34,236.66 C194.58,236.53 194.82,236.40 195.06,236.28 C195.30,236.15 195.54,236.03 195.78,235.91 C196.02,235.79 196.26,235.67 196.50,235.56 C196.75,235.45 196.99,235.34 197.23,235.23 C197.47,235.13 197.71,235.02 197.95,234.92 C198.19,234.82 198.43,234.72 198.67,234.63 C198.91,234.53 199.15,234.45 199.39,234.36 C199.63,234.27 199.87,234.19 200.12,234.11 C200.36,234.03 200.60,233.95 200.84,233.88 C201.08,233.80 201.32,233.73 201.56,233.66 C201.80,233.60 202.04,233.54 202.28,233.48 C202.52,233.42 202.76,233.37 203.00,233.31 C203.24,233.26 203.49,233.21 203.73,233.16 C203.97,233.11 204.21,233.07 204.45,233.03 C204.69,232.99 204.93,232.96 205.17,232.93 C205.41,232.90 205.65,232.88 205.89,232.86 C206.13,232.84 206.37,232.81 206.61,232.79 C206.85,232.78 207.10,232.76 207.34,232.75 C207.58,232.74 207.82,232.73 208.06,232.73 C208.30,232.73 208.54,232.73 208.78,232.74 C209.02,232.75 209.26,232.76 209.50,232.78 C209.74,232.79 209.98,232.81 210.22,232.83 C210.47,232.84 210.71,232.86 210.95,232.88 C211.19,232.91 211.43,232.93 211.67,232.97 C211.91,233.00 212.15,233.05 212.39,233.09 C212.63,233.14 212.87,233.19 213.11,233.24 C213.35,233.30 213.59,233.35 213.83,233.41 C214.08,233.47 214.32,233.53 214.56,233.59 C214.80,233.66 215.04,233.73 215.28,233.81 C215.52,233.89 215.76,233.97 216.00,234.05 C216.24,234.14 216.48,234.22 216.72,234.31 C216.96,234.41 217.20,234.50 217.45,234.60 C217.69,234.70 217.93,234.81 218.17,234.91 C218.41,235.02 218.65,235.14 218.89,235.26 C219.13,235.37 219.37,235.49 219.61,235.62 C219.85,235.74 220.09,235.87 220.33,236.00 C220.57,236.13 220.82,236.27 221.06,236.42 C221.30,236.56 221.54,236.71 221.78,236.86 C222.02,237.01 222.38,237.25 222.50,237.32" stroke="#a6a6a6" stroke-width="1.75" fill="none" stroke-linejoin="round" stroke-dasharray="4.1 2.5"/>
<path d="M49.20,363.81 C49.32,363.72 49.68,363.45 49.92,363.27 C50.16,363.09 50.40,362.91 50.64,362.73 C50.88,362.55 51.13,362.37 51.37,362.19 C51.61,362.01 51.85,361.83 52.09,361.64 C52.33,361.46 52.57,361.28 52.81,361.09 C53.05,360.91 53.29,360.73 53.53,360.54 C53.77,360.36 54.01,360.17 54.25,359.99 C54.50,359.80 54.74,359.62 54.98,359.43 C55.22,359.24 55.46,359.06 55.70,358.87 C55.94,358.68 56.18,358.49 56.42,358.30 C56.66,358.11 56.90,357.92 57.14,357.73 C57.38,357.54 57.62,357.34 57.87,357.15 C58.11,356.96 58.35,356.76 58.59,356.57 C58.83,356.38 59.07,356.18 59.31,355.98 C59.55,355.79 59.79,355.59 60.03,355.39 C60.27,355.19 60.51,354.99 60.75,354.79 C60.99,354.59 61.23,354.39 61.48,354.19 C61.72,353.99 61.96,353.79 62.20,353.58 C62.44,353.38 62.68,353.17 62.92,352.97 C63.16,352.76 63.40,352.55 63.64,352.35 C63.88,352.14 64.12,351.93 64.36,351.72 C64.60,351.51 64.85,351.30 65.09,351.09 C65.33,350.87 65.57,350.66 65.81,350.45 C66.05,350.23 66.29,350.01 66.53,349.80 C66.77,349.58 67.01,349.36 67.25,349.14 C67.49,348.93 67.73,348.71 67.97,348.48 C68.21,348.26 68.46,348.04 68.70,347.82 C68.94,347.59 69.18,347.37 69.42,347.14 C69.66,346.92 69.90,346.69 70.14,346.46 C70.38,346.24 70.62,346.01 70.86,345.78 C71.10,345.55 71.34,345.31 71.58,345.08 C71.83,344.85 72.07,344.61 72.31,344.38 C72.55,344.15 72.79,343.91 73.03,343.67 C73.27,343.43 73.51,343.20 73.75,342.96 C73.99,342.72 74.23,342.48 74.47,342.24 C74.71,341.99 74.95,341.75 75.20,341.51 C75.44,341.26 75.68,341.02 75.92,340.77 C76.16,340.53 76.40,340.28 76.64,340.03 C76.88,339.78 77.12,339.53 77.36,339.28 C77.60,339.03 77.84,338.78 78.08,338.53 C78.32,338.27 78.56,338.02 78.81,337.76 C79.05,337.51 79.29,337.25 79.53,337.00 C79.77,336.74 80.01,336.48 80.25,336.22 C80.49,335.96 80.73,335.70 80.97,335.44 C81.21,335.18 81.45,334.92 81.69,334.66 C81.93,334.40 82.18,334.13 82.42,333.87 C82.66,333.60 82.90,333.34 83.14,333.07 C83.38,332.80 83.62,332.54 83.86,332.27 C84.10,332.00 84.34,331.73 84.58,331.46 C84.82,331.19 85.06,330.92 85.30,330.65 C85.54,330.38 85.79,330.10 86.03,329.83 C86.27,329.56 86.51,329.28 86.75,329.01 C86.99,328.74 87.23,328.46 87.47,328.18 C87.71,327.91 87.95,327.63 88.19,327.35 C88.43,327.08 88.67,326.80 88.91,326.52 C89.16,326.24 89.40,325.96 89.64,325.68 C89.88,325.40 90.12,325.12 90.36,324.84 C90.60,324.56 90.84,324.28 91.08,324.00 C91.32,323.72 91.56,323.44 91.80,323.15 C92.04,322.87 92.28,322.59 92.53,322.31 C92.77,322.02 93.01,321.74 93.25,321.46 C93.49,321.17 93.73,320.89 93.97,320.61 C94.21,320.32 94.45,320.04 94.69,319.75 C94.93,319.47 95.17,319.18 95.41,318.90 C95.65,318.61 95.89,318.33 96.14,318.04 C96.38,317.76 96.62,317.47 96.86,317.19 C97.10,316.90 97.34,316.62 97.58,316.33 C97.82,316.05 98.06,315.77 98.30,315.48 C98.54,315.20 98.78,314.91 99.02,314.63 C99.26,314.35 99.51,314.06 99.75,313.78 C99.99,313.49 100.23,313.21 100.47,312.93 C100.71,312.64 100.95,312.36 101.19,312.08 C101.43,311.80 101.67,311.52 101.91,311.24 C102.15,310.96 102.39,310.68 102.63,310.40 C102.87,310.12 103.12,309.84 103.36,309.56 C103.60,309.28 103.84,309.00 104.08,308.73 C104.32,308.45 104.56,308.17 104.80,307.90 C105.04,307.62 105.28,307.35 105.52,307.08 C105.76,306.80 106.00,306.53 106.24,306.26 C106.49,305.99 106.73,305.72 106.97,305.45 C107.21,305.18 107.45,304.91 107.69,304.65 C107.93,304.38 108.17,304.11 108.41,303.85 C108.65,303.59 108.89,303.32 109.13,303.06 C109.37,302.80 109.61,302.54 109.86,302.28 C110.10,302.03 110.34,301.77 110.58,301.51 C110.82,301.26 111.06,301.01 111.30,300.75 C111.54,300.50 111.78,300.25 112.02,300.00 C112.26,299.76 112.50,299.51 112.74,299.27 C112.98,299.02 113.22,298.78 113.47,298.54 C113.71,298.30 113.95,298.06 114.19,297.82 C114.43,297.59 114.67,297.35 114.91,297.12 C115.15,296.89 115.39,296.66 115.63,296.44 C115.87,296.21 116.11,295.99 116.35,295.76 C116.59,295.54 116.84,295.32 117.08,295.11 C117.32,294.89 117.56,294.67 117.80,294.46 C118.04,294.25 118.28,294.04 118.52,293.84 C118.76,293.63 119.00,293.43 119.24,293.23 C119.48,293.03 119.72,292.83 119.96,292.64 C120.20,292.45 120.45,292.25 120.69,292.07 C120.93,291.88 121.17,291.70 121.41,291.52 C121.65,291.33 121.89,291.15 122.13,290.97 C122.37,290.79 122.61,290.60 122.85,290.42 C123.09,290.25 123.33,290.08 123.57,289.93 C123.82,289.78 124.06,289.65 124.30,289.52 C124.54,289.40 124.78,289.29 125.02,289.17 C125.26,289.06 125.50,288.94 125.74,288.83 C125.98,288.71 126.22,288.60 126.46,288.50 C126.70,288.40 126.94,288.30 127.19,288.22 C127.43,288.13 127.67,288.05 127.91,288.00 C128.15,287.94 128.41,287.89 128.63,287.86 C128.85,287.83 129.09,287.83 129.21,287.82 C129.33,287.81 129.21,287.82 129.35,287.82 C129.50,287.82 129.83,287.82 130.07,287.82 C130.31,287.82 130.55,287.82 130.80,287.82 C131.04,287.82 131.28,287.82 131.52,287.82 C131.76,287.82 132.00,287.82 132.24,287.82 C132.48,287.82 132.72,287.82 132.96,287.82 C133.20,287.82 133.44,287.82 133.68,287.82 C133.92,287.82 134.17,287.82 134.41,287.82 C134.65,287.82 134.89,287.82 135.13,287.82 C135.37,287.82 135.61,287.81 135.85,287.82 C136.09,287.83 136.33,287.84 136.57,287.87 C136.81,287.90 137.05,287.95 137.29,288.01 C137.53,288.06 137.78,288.13 138.02,288.19 C138.26,288.26 138.50,288.33 138.74,288.40 C138.98,288.46 139.22,288.53 139.46,288.59 C139.70,288.64 139.94,288.70 140.18,288.73 C140.42,288.77 140.76,288.79 140.90,288.80 C141.05,288.82 140.93,288.82 141.05,288.81 C141.17,288.79 141.41,288.78 141.63,288.70 C141.84,288.62 142.11,288.49 142.35,288.32 C142.59,288.16 142.83,287.95 143.07,287.73 C143.31,287.51 143.65,287.14 143.79,286.99 C143.94,286.84 143.82,287.02 143.94,286.83 C144.06,286.65 144.30,286.34 144.52,285.87 C144.73,285.40 145.00,284.68 145.24,284.02 C145.48,283.36 145.72,282.64 145.96,281.90 C146.20,281.17 146.44,280.44 146.68,279.62 C146.92,278.81 147.19,277.82 147.40,277.01 C147.62,276.20 147.86,275.23 147.98,274.76 C148.10,274.28 147.98,274.80 148.13,274.17 C148.27,273.53 148.68,271.72 148.85,270.95 C149.02,270.19 149.02,270.18 149.14,269.58 C149.26,268.98 149.43,268.08 149.57,267.34 C149.71,266.60 149.88,265.73 150.00,265.14 C150.12,264.56 150.12,264.56 150.29,263.84 C150.46,263.13 150.83,261.58 151.01,260.85 C151.20,260.12 151.27,259.90 151.39,259.47 C151.51,259.05 151.56,258.87 151.74,258.30 C151.91,257.73 152.22,256.76 152.46,256.05 C152.70,255.35 153.01,254.51 153.18,254.05 C153.35,253.59 153.35,253.62 153.47,253.31 C153.59,253.00 153.71,252.70 153.90,252.22 C154.09,251.73 154.38,250.99 154.62,250.42 C154.86,249.85 155.11,249.28 155.35,248.80 C155.59,248.32 155.90,247.80 156.07,247.52 C156.24,247.25 156.24,247.29 156.36,247.15 C156.48,247.01 156.60,246.87 156.79,246.67 C156.98,246.47 157.27,246.17 157.51,245.96 C157.75,245.75 157.99,245.55 158.23,245.39 C158.48,245.23 158.80,245.08 158.96,245.01 C159.12,244.93 159.07,244.96 159.19,244.93 C159.31,244.90 159.48,244.85 159.68,244.82 C159.88,244.78 160.16,244.75 160.40,244.71 C160.64,244.68 160.88,244.66 161.12,244.62 C161.36,244.59 161.70,244.51 161.85,244.48 C161.99,244.45 161.87,244.53 161.99,244.44 C162.11,244.35 162.35,244.19 162.57,243.93 C162.78,243.67 163.05,243.17 163.29,242.89 C163.53,242.60 163.88,242.34 164.01,242.23 C164.15,242.12 163.98,242.09 164.10,242.22 C164.22,242.34 164.51,242.57 164.73,242.99 C164.96,243.40 165.21,244.26 165.46,244.71 C165.70,245.16 165.94,245.59 166.18,245.67 C166.42,245.75 166.66,245.45 166.90,245.21 C167.14,244.96 167.38,244.53 167.62,244.19 C167.86,243.85 168.10,243.42 168.34,243.17 C168.58,242.93 168.83,242.66 169.07,242.71 C169.31,242.76 169.55,243.12 169.79,243.50 C170.03,243.87 170.27,244.58 170.51,244.94 C170.75,245.30 171.08,245.55 171.20,245.67 C171.32,245.79 171.11,245.67 171.23,245.67 C171.36,245.67 171.71,245.67 171.95,245.67 C172.19,245.67 172.44,245.67 172.68,245.67 C172.92,245.67 173.18,245.67 173.40,245.67 C173.61,245.67 173.86,245.67 173.98,245.67 C174.10,245.67 173.98,245.66 174.12,245.67 C174.26,245.69 174.60,245.71 174.84,245.76 C175.08,245.80 175.32,245.86 175.56,245.94 C175.81,246.01 176.07,246.10 176.29,246.18 C176.50,246.26 176.74,246.36 176.86,246.41 C176.98,246.46 176.86,246.37 177.01,246.48 C177.15,246.58 177.49,246.82 177.73,247.04 C177.97,247.27 178.21,247.56 178.45,247.83 C178.69,248.09 178.96,248.41 179.18,248.62 C179.39,248.84 179.63,249.02 179.75,249.12 C179.87,249.22 179.75,249.13 179.90,249.22 C180.04,249.30 180.38,249.49 180.62,249.61 C180.86,249.73 181.10,249.83 181.34,249.95 C181.58,250.07 181.87,250.21 182.06,250.32 C182.26,250.43 182.38,250.51 182.50,250.60 C182.62,250.68 182.62,250.67 182.79,250.83 C182.95,250.98 183.27,251.28 183.51,251.54 C183.75,251.80 183.99,252.09 184.23,252.36 C184.47,252.63 184.71,252.91 184.95,253.17 C185.19,253.43 185.43,253.67 185.67,253.92 C185.91,254.17 186.16,254.42 186.40,254.67 C186.64,254.93 186.88,255.18 187.12,255.44 C187.36,255.70 187.60,255.96 187.84,256.23 C188.08,256.50 188.32,256.78 188.56,257.06 C188.80,257.34 189.04,257.62 189.28,257.91 C189.52,258.20 189.77,258.49 190.01,258.79 C190.25,259.09 190.49,259.38 190.73,259.69 C190.97,259.99 191.21,260.29 191.45,260.60 C191.69,260.91 191.93,261.23 192.17,261.54 C192.41,261.86 192.65,262.18 192.89,262.50 C193.14,262.83 193.38,263.15 193.62,263.48 C193.86,263.81 194.10,264.14 194.34,264.47 C194.58,264.80 194.82,265.14 195.06,265.48 C195.30,265.82 195.54,266.16 195.78,266.50 C196.02,266.84 196.26,267.19 196.50,267.54 C196.75,267.88 196.99,268.23 197.23,268.58 C197.47,268.93 197.71,269.29 197.95,269.64 C198.19,270.00 198.43,270.36 198.67,270.71 C198.91,271.07 199.15,271.43 199.39,271.79 C199.63,272.15 199.87,272.51 200.12,272.88 C200.36,273.24 200.60,273.61 200.84,273.97 C201.08,274.34 201.32,274.70 201.56,275.07 C201.80,275.44 202.04,275.81 202.28,276.18 C202.52,276.54 202.76,276.91 203.00,277.28 C203.24,277.65 203.49,278.02 203.73,278.40 C203.97,278.77 204.21,279.14 204.45,279.51 C204.69,279.88 204.93,280.25 205.17,280.62 C205.41,280.99 205.65,281.37 205.89,281.74 C206.13,282.11 206.37,282.48 206.61,282.85 C206.85,283.22 207.10,283.59 207.34,283.96 C207.58,284.33 207.82,284.70 208.06,285.07 C208.30,285.43 208.54,285.80 208.78,286.17 C209.02,286.53 209.26,286.90 209.50,287.26 C209.74,287.63 209.98,287.99 210.22,288.35 C210.47,288.72 210.71,289.08 210.95,289.43 C211.19,289.79 211.43,290.15 211.67,290.51 C211.91,290.86 212.15,291.22 212.39,291.57 C212.63,291.92 212.87,292.28 213.11,292.62 C213.35,292.97 213.59,293.32 213.83,293.66 C214.08,294.01 214.32,294.35 214.56,294.69 C214.80,295.03 215.04,295.37 215.28,295.70 C215.52,296.04 215.76,296.37 216.00,296.70 C216.24,297.03 216.48,297.36 216.72,297.68 C216.96,298.01 217.20,298.33 217.45,298.65 C217.69,298.97 217.93,299.28 218.17,299.60 C218.41,299.91 218.65,300.22 218.89,300.52 C219.13,300.83 219.37,301.13 219.61,301.43 C219.85,301.73 220.09,302.02 220.33,302.31 C220.57,302.60 220.82,302.89 221.06,303.17 C221.30,303.45 221.54,303.73 221.78,304.01 C222.02,304.29 222.38,304.69 222.50,304.83" stroke="#c8161d" stroke-width="1.80" fill="none" stroke-linejoin="round"/>
<path d="M49.20,364.30 C49.32,364.21 49.68,363.93 49.92,363.74 C50.16,363.55 50.40,363.36 50.64,363.17 C50.88,362.99 51.13,362.80 51.37,362.61 C51.61,362.42 51.85,362.23 52.09,362.04 C52.33,361.84 52.57,361.65 52.81,361.46 C53.05,361.27 53.29,361.08 53.53,360.88 C53.77,360.69 54.01,360.50 54.25,360.31 C54.50,360.11 54.74,359.92 54.98,359.72 C55.22,359.53 55.46,359.33 55.70,359.13 C55.94,358.94 56.18,358.74 56.42,358.54 C56.66,358.34 56.90,358.15 57.14,357.95 C57.38,357.75 57.62,357.55 57.87,357.34 C58.11,357.14 58.35,356.94 58.59,356.74 C58.83,356.54 59.07,356.33 59.31,356.13 C59.55,355.92 59.79,355.72 60.03,355.51 C60.27,355.31 60.51,355.10 60.75,354.89 C60.99,354.68 61.23,354.47 61.48,354.26 C61.72,354.05 61.96,353.84 62.20,353.63 C62.44,353.42 62.68,353.20 62.92,352.99 C63.16,352.78 63.40,352.56 63.64,352.34 C63.88,352.13 64.12,351.91 64.36,351.69 C64.60,351.47 64.85,351.26 65.09,351.03 C65.33,350.81 65.57,350.59 65.81,350.37 C66.05,350.15 66.29,349.92 66.53,349.70 C66.77,349.47 67.01,349.25 67.25,349.02 C67.49,348.79 67.73,348.57 67.97,348.34 C68.21,348.11 68.46,347.88 68.70,347.65 C68.94,347.42 69.18,347.18 69.42,346.95 C69.66,346.71 69.90,346.48 70.14,346.24 C70.38,346.01 70.62,345.77 70.86,345.53 C71.10,345.29 71.34,345.05 71.58,344.81 C71.83,344.57 72.07,344.33 72.31,344.09 C72.55,343.85 72.79,343.60 73.03,343.36 C73.27,343.11 73.51,342.86 73.75,342.62 C73.99,342.37 74.23,342.12 74.47,341.87 C74.71,341.62 74.95,341.37 75.20,341.12 C75.44,340.87 75.68,340.61 75.92,340.36 C76.16,340.10 76.40,339.85 76.64,339.59 C76.88,339.34 77.12,339.08 77.36,338.82 C77.60,338.56 77.84,338.30 78.08,338.04 C78.32,337.78 78.56,337.52 78.81,337.25 C79.05,336.99 79.29,336.73 79.53,336.46 C79.77,336.20 80.01,335.93 80.25,335.66 C80.49,335.40 80.73,335.13 80.97,334.86 C81.21,334.59 81.45,334.32 81.69,334.05 C81.93,333.78 82.18,333.51 82.42,333.23 C82.66,332.96 82.90,332.69 83.14,332.41 C83.38,332.14 83.62,331.86 83.86,331.59 C84.10,331.31 84.34,331.03 84.58,330.75 C84.82,330.48 85.06,330.20 85.30,329.92 C85.54,329.64 85.79,329.36 86.03,329.08 C86.27,328.79 86.51,328.51 86.75,328.23 C86.99,327.95 87.23,327.66 87.47,327.38 C87.71,327.10 87.95,326.81 88.19,326.52 C88.43,326.24 88.67,325.95 88.91,325.67 C89.16,325.38 89.40,325.09 89.64,324.80 C89.88,324.52 90.12,324.23 90.36,323.94 C90.60,323.65 90.84,323.36 91.08,323.07 C91.32,322.78 91.56,322.49 91.80,322.20 C92.04,321.91 92.28,321.62 92.53,321.33 C92.77,321.04 93.01,320.74 93.25,320.45 C93.49,320.16 93.73,319.87 93.97,319.58 C94.21,319.28 94.45,318.99 94.69,318.70 C94.93,318.40 95.17,318.11 95.41,317.82 C95.65,317.53 95.89,317.23 96.14,316.94 C96.38,316.65 96.62,316.35 96.86,316.06 C97.10,315.77 97.34,315.47 97.58,315.18 C97.82,314.89 98.06,314.59 98.30,314.30 C98.54,314.01 98.78,313.72 99.02,313.42 C99.26,313.13 99.51,312.84 99.75,312.55 C99.99,312.25 100.23,311.96 100.47,311.67 C100.71,311.38 100.95,311.09 101.19,310.80 C101.43,310.51 101.67,310.22 101.91,309.93 C102.15,309.64 102.39,309.35 102.63,309.06 C102.87,308.78 103.12,308.49 103.36,308.20 C103.60,307.92 103.84,307.63 104.08,307.34 C104.32,307.06 104.56,306.78 104.80,306.49 C105.04,306.21 105.28,305.93 105.52,305.64 C105.76,305.36 106.00,305.08 106.24,304.80 C106.49,304.52 106.73,304.24 106.97,303.97 C107.21,303.69 107.45,303.41 107.69,303.14 C107.93,302.86 108.17,302.59 108.41,302.32 C108.65,302.04 108.89,301.77 109.13,301.50 C109.37,301.23 109.61,300.97 109.86,300.70 C110.10,300.43 110.34,300.17 110.58,299.91 C110.82,299.64 111.06,299.38 111.30,299.12 C111.54,298.86 111.78,298.60 112.02,298.35 C112.26,298.09 112.50,297.84 112.74,297.58 C112.98,297.33 113.22,297.08 113.47,296.83 C113.71,296.58 113.95,296.34 114.19,296.09 C114.43,295.85 114.67,295.61 114.91,295.37 C115.15,295.13 115.39,294.89 115.63,294.66 C115.87,294.42 116.11,294.19 116.35,293.96 C116.59,293.73 116.84,293.50 117.08,293.28 C117.32,293.05 117.56,292.83 117.80,292.61 C118.04,292.39 118.28,292.17 118.52,291.96 C118.76,291.75 119.00,291.54 119.24,291.33 C119.48,291.12 119.72,290.92 119.96,290.71 C120.20,290.51 120.45,290.31 120.69,290.12 C120.93,289.92 121.17,289.73 121.41,289.54 C121.65,289.36 121.89,289.17 122.13,288.98 C122.37,288.79 122.61,288.60 122.85,288.42 C123.09,288.24 123.33,288.06 123.57,287.90 C123.82,287.74 124.06,287.60 124.30,287.46 C124.54,287.32 124.78,287.19 125.02,287.06 C125.26,286.93 125.50,286.80 125.74,286.68 C125.98,286.55 126.22,286.43 126.46,286.32 C126.70,286.20 126.94,286.09 127.19,285.99 C127.43,285.89 127.67,285.79 127.91,285.71 C128.15,285.62 128.41,285.54 128.63,285.48 C128.85,285.43 129.09,285.38 129.21,285.36 C129.33,285.33 129.21,285.35 129.35,285.33 C129.50,285.30 129.83,285.24 130.07,285.20 C130.31,285.16 130.55,285.12 130.80,285.08 C131.04,285.04 131.28,285.01 131.52,284.97 C131.76,284.94 132.00,284.90 132.24,284.87 C132.48,284.84 132.72,284.81 132.96,284.78 C133.20,284.76 133.44,284.73 133.68,284.71 C133.92,284.69 134.17,284.68 134.41,284.66 C134.65,284.65 134.89,284.64 135.13,284.63 C135.37,284.62 135.61,284.60 135.85,284.62 C136.09,284.63 136.33,284.65 136.57,284.70 C136.81,284.74 137.05,284.82 137.29,284.90 C137.53,284.98 137.78,285.08 138.02,285.17 C138.26,285.27 138.50,285.37 138.74,285.46 C138.98,285.55 139.22,285.63 139.46,285.70 C139.70,285.76 140.01,285.81 140.18,285.83 C140.35,285.86 140.35,285.85 140.47,285.85 C140.59,285.85 140.71,285.85 140.90,285.82 C141.10,285.78 141.39,285.72 141.63,285.63 C141.87,285.54 142.11,285.43 142.35,285.29 C142.59,285.16 142.83,285.00 143.07,284.82 C143.31,284.65 143.65,284.37 143.79,284.25 C143.94,284.13 143.82,284.30 143.94,284.12 C144.06,283.95 144.30,283.68 144.52,283.20 C144.73,282.72 145.00,281.95 145.24,281.24 C145.48,280.53 145.72,279.76 145.96,278.95 C146.20,278.13 146.44,277.28 146.68,276.34 C146.92,275.39 147.19,274.21 147.40,273.29 C147.62,272.37 147.86,271.33 147.98,270.81 C148.10,270.30 147.98,270.84 148.13,270.20 C148.27,269.55 148.61,268.02 148.85,266.94 C149.09,265.86 149.38,264.53 149.57,263.70 C149.76,262.87 149.88,262.41 150.00,261.94 C150.12,261.46 150.12,261.47 150.29,260.84 C150.46,260.21 150.77,259.03 151.01,258.17 C151.25,257.31 151.50,256.46 151.74,255.68 C151.98,254.90 152.27,254.03 152.46,253.47 C152.65,252.91 152.77,252.64 152.89,252.32 C153.01,252.01 153.01,252.02 153.18,251.60 C153.35,251.19 153.66,250.38 153.90,249.83 C154.14,249.27 154.38,248.72 154.62,248.30 C154.86,247.87 155.20,247.46 155.35,247.27 C155.49,247.08 155.37,247.23 155.49,247.15 C155.61,247.06 155.85,246.89 156.07,246.75 C156.28,246.62 156.55,246.46 156.79,246.34 C157.03,246.21 157.27,246.10 157.51,246.00 C157.75,245.90 157.99,245.81 158.23,245.74 C158.48,245.66 158.74,245.59 158.96,245.54 C159.17,245.49 159.41,245.45 159.53,245.42 C159.65,245.40 159.53,245.42 159.68,245.40 C159.82,245.37 160.16,245.32 160.40,245.28 C160.64,245.24 160.88,245.20 161.12,245.17 C161.36,245.14 161.60,245.10 161.85,245.08 C162.09,245.05 162.33,245.02 162.57,245.00 C162.81,244.98 163.05,244.96 163.29,244.95 C163.53,244.94 163.87,244.93 164.01,244.93 C164.16,244.93 164.04,244.93 164.16,244.93 C164.28,244.93 164.52,244.93 164.73,244.94 C164.95,244.95 165.21,244.97 165.46,244.98 C165.70,245.00 165.94,245.03 166.18,245.06 C166.42,245.08 166.66,245.12 166.90,245.15 C167.14,245.19 167.38,245.23 167.62,245.27 C167.86,245.31 168.10,245.36 168.34,245.40 C168.58,245.45 168.85,245.50 169.07,245.55 C169.28,245.59 169.52,245.64 169.64,245.67 C169.76,245.69 169.64,245.66 169.79,245.70 C169.93,245.75 170.27,245.84 170.51,245.93 C170.75,246.02 170.99,246.13 171.23,246.24 C171.47,246.35 171.71,246.47 171.95,246.60 C172.19,246.72 172.44,246.86 172.68,246.98 C172.92,247.11 173.18,247.25 173.40,247.36 C173.61,247.47 173.86,247.58 173.98,247.64 C174.10,247.70 173.98,247.64 174.12,247.71 C174.26,247.77 174.60,247.92 174.84,248.02 C175.08,248.13 175.32,248.23 175.56,248.33 C175.81,248.44 176.05,248.54 176.29,248.65 C176.53,248.75 176.77,248.86 177.01,248.97 C177.25,249.08 177.51,249.21 177.73,249.32 C177.95,249.42 178.19,249.55 178.31,249.61 C178.43,249.68 178.31,249.61 178.45,249.69 C178.60,249.77 178.93,249.96 179.18,250.11 C179.42,250.25 179.66,250.40 179.90,250.56 C180.14,250.71 180.38,250.87 180.62,251.04 C180.86,251.20 181.10,251.36 181.34,251.53 C181.58,251.69 181.87,251.89 182.06,252.03 C182.26,252.16 182.38,252.24 182.50,252.32 C182.62,252.41 182.62,252.41 182.79,252.52 C182.95,252.64 183.27,252.85 183.51,253.02 C183.75,253.19 183.99,253.36 184.23,253.54 C184.47,253.72 184.71,253.90 184.95,254.08 C185.19,254.27 185.43,254.46 185.67,254.66 C185.91,254.85 186.16,255.05 186.40,255.25 C186.64,255.46 186.88,255.67 187.12,255.88 C187.36,256.10 187.60,256.32 187.84,256.55 C188.08,256.78 188.32,257.01 188.56,257.26 C188.80,257.50 189.04,257.75 189.28,258.01 C189.52,258.27 189.77,258.53 190.01,258.80 C190.25,259.07 190.49,259.34 190.73,259.61 C190.97,259.89 191.21,260.17 191.45,260.46 C191.69,260.75 191.93,261.04 192.17,261.34 C192.41,261.64 192.65,261.94 192.89,262.25 C193.14,262.56 193.38,262.87 193.62,263.18 C193.86,263.49 194.10,263.81 194.34,264.14 C194.58,264.46 194.82,264.79 195.06,265.12 C195.30,265.45 195.54,265.79 195.78,266.13 C196.02,266.47 196.26,266.81 196.50,267.15 C196.75,267.50 196.99,267.85 197.23,268.20 C197.47,268.55 197.71,268.90 197.95,269.26 C198.19,269.62 198.43,269.98 198.67,270.34 C198.91,270.71 199.15,271.07 199.39,271.44 C199.63,271.80 199.87,272.17 200.12,272.54 C200.36,272.91 200.60,273.29 200.84,273.66 C201.08,274.04 201.32,274.42 201.56,274.79 C201.80,275.17 202.04,275.55 202.28,275.93 C202.52,276.31 202.76,276.69 203.00,277.08 C203.24,277.46 203.49,277.84 203.73,278.23 C203.97,278.61 204.21,279.00 204.45,279.39 C204.69,279.77 204.93,280.16 205.17,280.54 C205.41,280.93 205.65,281.32 205.89,281.70 C206.13,282.09 206.37,282.48 206.61,282.86 C206.85,283.25 207.10,283.64 207.34,284.02 C207.58,284.41 207.82,284.79 208.06,285.18 C208.30,285.56 208.54,285.94 208.78,286.32 C209.02,286.71 209.26,287.09 209.50,287.47 C209.74,287.85 209.98,288.23 210.22,288.61 C210.47,288.98 210.71,289.36 210.95,289.73 C211.19,290.10 211.43,290.47 211.67,290.84 C211.91,291.21 212.15,291.58 212.39,291.95 C212.63,292.31 212.87,292.68 213.11,293.04 C213.35,293.40 213.59,293.76 213.83,294.11 C214.08,294.47 214.32,294.82 214.56,295.17 C214.80,295.52 215.04,295.86 215.28,296.21 C215.52,296.55 215.76,296.89 216.00,297.23 C216.24,297.56 216.48,297.90 216.72,298.22 C216.96,298.55 217.20,298.87 217.45,299.20 C217.69,299.52 217.93,299.83 218.17,300.15 C218.41,300.46 218.65,300.77 218.89,301.07 C219.13,301.38 219.37,301.68 219.61,301.97 C219.85,302.26 220.09,302.55 220.33,302.83 C220.57,303.11 220.82,303.39 221.06,303.66 C221.30,303.94 221.54,304.21 221.78,304.47 C222.02,304.74 222.38,305.12 222.50,305.25" stroke="#5b9bd5" stroke-width="1.75" fill="none" stroke-linejoin="round" stroke-dasharray="4.3 2.2"/>
<path d="M52.90,236.50H80.50" stroke="#c8161d" stroke-width="1.60"/>
<path d="M52.90,248.20H80.50" stroke="#5b9bd5" stroke-width="1.45" stroke-dasharray="4.3 2.2"/>
<path d="M52.90,260.20H80.50" stroke="#a6a6a6" stroke-width="1.35" stroke-dasharray="4.1 2.5"/>
<path d="M330.94,230.50V377.30M345.48,230.50V377.30M360.02,230.50V377.30M389.11,230.50V377.30M418.19,230.50V377.30M447.27,230.50V377.30M461.82,230.50V377.30M476.36,230.50V377.30M316.40,367.51H490.90M316.40,357.73H490.90M316.40,347.94H490.90M316.40,338.15H490.90M316.40,318.58H490.90M316.40,308.79H490.90M316.40,299.01H490.90M316.40,289.22H490.90M316.40,269.65H490.90M316.40,259.86H490.90M316.40,250.07H490.90M316.40,240.29H490.90" stroke="#ececec" stroke-width="0.80" fill="none"/>
<path d="M316.40,230.50V377.30M374.57,230.50V377.30M432.73,230.50V377.30M316.40,328.37H490.90M316.40,279.43H490.90M316.40,230.50H490.90" stroke="#d6d6d6" stroke-width="0.90" fill="none"/>
<path d="M403.65,230.50V377.30" stroke="#cdcdcd" stroke-width="0.90"/>
<path d="M316.40,377.30H494.40M490.90,230.50V377.30M490.90,328.37H494.40M490.90,279.43H494.40M490.90,230.50H494.40" stroke="#bcbcbc" stroke-width="0.90" fill="none"/>
<path d="M316.40,351.76 C316.52,351.72 316.88,351.64 317.13,351.57 C317.37,351.51 317.61,351.45 317.85,351.39 C318.10,351.33 318.34,351.27 318.58,351.20 C318.82,351.14 319.07,351.08 319.31,351.01 C319.55,350.95 319.79,350.88 320.04,350.82 C320.28,350.75 320.52,350.68 320.76,350.62 C321.00,350.55 321.25,350.48 321.49,350.41 C321.73,350.35 321.97,350.28 322.22,350.21 C322.46,350.14 322.70,350.07 322.94,350.00 C323.19,349.93 323.43,349.86 323.67,349.79 C323.91,349.72 324.16,349.64 324.40,349.57 C324.64,349.50 324.88,349.43 325.12,349.35 C325.37,349.28 325.61,349.21 325.85,349.13 C326.09,349.06 326.34,348.99 326.58,348.91 C326.82,348.84 327.06,348.76 327.31,348.68 C327.55,348.61 327.79,348.53 328.03,348.46 C328.28,348.38 328.52,348.30 328.76,348.22 C329.00,348.15 329.25,348.07 329.49,347.99 C329.73,347.91 329.97,347.83 330.21,347.76 C330.46,347.68 330.70,347.60 330.94,347.52 C331.18,347.44 331.43,347.36 331.67,347.28 C331.91,347.20 332.15,347.12 332.40,347.04 C332.64,346.95 332.88,346.87 333.12,346.79 C333.37,346.71 333.61,346.63 333.85,346.55 C334.09,346.46 334.33,346.38 334.58,346.30 C334.82,346.22 335.06,346.13 335.30,346.05 C335.55,345.97 335.79,345.88 336.03,345.80 C336.27,345.72 336.52,345.63 336.76,345.55 C337.00,345.46 337.24,345.38 337.49,345.30 C337.73,345.21 337.97,345.13 338.21,345.04 C338.45,344.96 338.70,344.87 338.94,344.79 C339.18,344.70 339.42,344.61 339.67,344.53 C339.91,344.44 340.15,344.36 340.39,344.27 C340.64,344.19 340.88,344.10 341.12,344.01 C341.36,343.93 341.61,343.84 341.85,343.76 C342.09,343.67 342.33,343.58 342.57,343.50 C342.82,343.41 343.06,343.32 343.30,343.24 C343.54,343.15 343.79,343.06 344.03,342.98 C344.27,342.89 344.51,342.80 344.76,342.72 C345.00,342.63 345.24,342.54 345.48,342.46 C345.73,342.37 345.97,342.28 346.21,342.20 C346.45,342.11 346.70,342.02 346.94,341.93 C347.18,341.85 347.42,341.76 347.66,341.67 C347.91,341.59 348.15,341.50 348.39,341.41 C348.63,341.33 348.88,341.24 349.12,341.15 C349.36,341.07 349.60,340.98 349.85,340.89 C350.09,340.81 350.33,340.72 350.57,340.63 C350.82,340.55 351.06,340.46 351.30,340.38 C351.54,340.29 351.78,340.20 352.03,340.12 C352.27,340.03 352.51,339.95 352.75,339.86 C353.00,339.77 353.24,339.69 353.48,339.60 C353.72,339.52 353.97,339.43 354.21,339.35 C354.45,339.26 354.69,339.18 354.94,339.09 C355.18,339.01 355.42,338.92 355.66,338.84 C355.90,338.76 356.15,338.67 356.39,338.59 C356.63,338.50 356.87,338.42 357.12,338.34 C357.36,338.25 357.60,338.17 357.84,338.09 C358.09,338.01 358.33,337.92 358.57,337.84 C358.81,337.76 359.06,337.68 359.30,337.59 C359.54,337.51 359.78,337.43 360.02,337.35 C360.27,337.27 360.51,337.19 360.75,337.11 C360.99,337.03 361.24,336.95 361.48,336.87 C361.72,336.79 361.96,336.71 362.21,336.63 C362.45,336.55 362.69,336.47 362.93,336.39 C363.18,336.31 363.42,336.24 363.66,336.16 C363.90,336.08 364.15,336.00 364.39,335.93 C364.63,335.85 364.87,335.77 365.11,335.70 C365.36,335.62 365.60,335.54 365.84,335.47 C366.08,335.39 366.33,335.32 366.57,335.25 C366.81,335.17 367.05,335.10 367.30,335.02 C367.54,334.95 367.78,334.88 368.02,334.80 C368.27,334.73 368.51,334.66 368.75,334.59 C368.99,334.52 369.23,334.45 369.48,334.38 C369.72,334.31 369.96,334.24 370.20,334.17 C370.45,334.10 370.69,334.03 370.93,333.96 C371.17,333.89 371.42,333.82 371.66,333.76 C371.90,333.69 372.14,333.62 372.39,333.56 C372.63,333.49 372.87,333.43 373.11,333.36 C373.35,333.30 373.60,333.23 373.84,333.17 C374.08,333.10 374.32,333.04 374.57,332.98 C374.81,332.92 375.05,332.85 375.29,332.79 C375.54,332.73 375.78,332.67 376.02,332.61 C376.26,332.55 376.51,332.49 376.75,332.43 C376.99,332.38 377.23,332.32 377.47,332.26 C377.72,332.20 377.96,332.15 378.20,332.09 C378.44,332.04 378.69,331.98 378.93,331.93 C379.17,331.87 379.41,331.82 379.66,331.77 C379.90,331.71 380.14,331.66 380.38,331.61 C380.63,331.56 380.87,331.51 381.11,331.46 C381.35,331.41 381.60,331.36 381.84,331.31 C382.08,331.26 382.32,331.22 382.56,331.17 C382.81,331.12 383.05,331.08 383.29,331.03 C383.53,330.99 383.78,330.94 384.02,330.90 C384.26,330.86 384.50,330.82 384.75,330.77 C384.99,330.73 385.23,330.69 385.47,330.65 C385.72,330.61 385.96,330.57 386.20,330.53 C386.44,330.50 386.68,330.46 386.93,330.42 C387.17,330.39 387.41,330.35 387.65,330.32 C387.90,330.28 388.14,330.25 388.38,330.22 C388.62,330.18 388.87,330.15 389.11,330.12 C389.35,330.09 389.59,330.06 389.84,330.03 C390.08,330.00 390.32,329.98 390.56,329.95 C390.80,329.92 391.05,329.90 391.29,329.87 C391.53,329.85 391.77,329.82 392.02,329.80 C392.26,329.78 392.50,329.75 392.74,329.73 C392.99,329.71 393.23,329.68 393.47,329.66 C393.71,329.64 393.96,329.61 394.20,329.60 C394.44,329.59 394.68,329.58 394.92,329.58 C395.17,329.58 395.41,329.59 395.65,329.59 C395.89,329.60 396.21,329.62 396.38,329.63 C396.55,329.63 396.55,329.63 396.67,329.64 C396.79,329.64 396.91,329.65 397.11,329.66 C397.30,329.67 397.59,329.69 397.83,329.70 C398.08,329.72 398.32,329.74 398.56,329.76 C398.80,329.77 399.05,329.79 399.29,329.81 C399.53,329.83 399.77,329.86 400.01,329.88 C400.26,329.90 400.50,329.92 400.74,329.94 C400.98,329.97 401.23,329.99 401.47,330.01 C401.71,330.04 401.95,330.06 402.20,330.09 C402.44,330.11 402.68,330.13 402.92,330.16 C403.17,330.18 403.41,330.20 403.65,330.23 C403.89,330.25 404.13,330.28 404.38,330.31 C404.62,330.34 404.86,330.38 405.10,330.41 C405.35,330.44 405.60,330.47 405.83,330.49 C406.06,330.51 406.38,330.51 406.50,330.52 C406.62,330.52 406.43,330.54 406.56,330.52 C406.69,330.50 407.04,330.47 407.29,330.40 C407.53,330.34 407.77,330.23 408.01,330.13 C408.25,330.02 408.50,329.88 408.74,329.75 C408.98,329.62 409.22,329.49 409.47,329.35 C409.71,329.20 409.96,329.06 410.19,328.86 C410.43,328.67 410.77,328.29 410.89,328.17 C411.01,328.05 410.79,328.39 410.92,328.13 C411.05,327.88 411.41,327.28 411.65,326.66 C411.89,326.04 412.13,325.21 412.38,324.42 C412.62,323.62 412.90,322.58 413.10,321.89 C413.31,321.19 413.48,320.64 413.60,320.24 C413.72,319.85 413.67,320.03 413.83,319.51 C413.99,318.99 414.31,317.94 414.56,317.13 C414.80,316.32 415.04,315.50 415.28,314.66 C415.53,313.83 415.86,312.68 416.01,312.15 C416.17,311.61 416.09,311.87 416.21,311.44 C416.34,311.01 416.53,310.32 416.74,309.56 C416.95,308.80 417.22,307.76 417.46,306.87 C417.71,305.97 417.95,305.04 418.19,304.19 C418.43,303.33 418.77,302.17 418.89,301.75 C419.01,301.32 418.79,302.07 418.92,301.65 C419.04,301.23 419.40,300.03 419.65,299.25 C419.89,298.46 420.13,297.68 420.37,296.93 C420.62,296.18 420.91,295.31 421.10,294.76 C421.29,294.21 421.39,293.95 421.51,293.62 C421.63,293.29 421.65,293.22 421.83,292.78 C422.00,292.33 422.31,291.54 422.55,290.95 C422.80,290.36 423.04,289.80 423.28,289.25 C423.52,288.69 423.86,287.97 424.01,287.64 C424.16,287.31 424.06,287.52 424.18,287.26 C424.30,287.01 424.52,286.54 424.74,286.10 C424.95,285.66 425.22,285.10 425.46,284.61 C425.70,284.13 425.95,283.65 426.19,283.19 C426.43,282.73 426.67,282.28 426.92,281.85 C427.16,281.42 427.51,280.83 427.64,280.61 C427.77,280.38 427.58,280.70 427.70,280.51 C427.82,280.32 428.14,279.81 428.37,279.46 C428.60,279.11 428.86,278.74 429.10,278.39 C429.34,278.05 429.58,277.71 429.82,277.38 C430.07,277.05 430.31,276.73 430.55,276.41 C430.79,276.08 431.04,275.76 431.28,275.44 C431.52,275.11 431.86,274.65 432.01,274.45 C432.15,274.25 432.03,274.41 432.15,274.25 C432.27,274.08 432.52,273.74 432.73,273.44 C432.95,273.15 433.22,272.79 433.46,272.46 C433.70,272.13 433.95,271.81 434.19,271.47 C434.43,271.14 434.67,270.81 434.91,270.46 C435.16,270.12 435.40,269.78 435.64,269.41 C435.88,269.05 436.13,268.67 436.37,268.29 C436.61,267.91 436.85,267.51 437.10,267.11 C437.34,266.72 437.58,266.31 437.82,265.92 C438.07,265.53 438.31,265.15 438.55,264.77 C438.79,264.40 439.03,264.03 439.28,263.67 C439.52,263.30 439.76,262.94 440.00,262.58 C440.25,262.22 440.49,261.87 440.73,261.51 C440.97,261.16 441.22,260.82 441.46,260.47 C441.70,260.13 441.94,259.79 442.19,259.45 C442.43,259.11 442.67,258.78 442.91,258.45 C443.15,258.12 443.40,257.79 443.64,257.47 C443.88,257.14 444.12,256.82 444.37,256.51 C444.61,256.19 444.85,255.88 445.09,255.57 C445.34,255.26 445.58,254.95 445.82,254.65 C446.06,254.35 446.31,254.05 446.55,253.75 C446.79,253.46 447.03,253.17 447.27,252.88 C447.52,252.59 447.76,252.31 448.00,252.02 C448.24,251.74 448.49,251.46 448.73,251.19 C448.97,250.92 449.21,250.64 449.46,250.38 C449.70,250.11 449.94,249.85 450.18,249.59 C450.43,249.33 450.67,249.07 450.91,248.82 C451.15,248.56 451.40,248.31 451.64,248.07 C451.88,247.82 452.12,247.58 452.36,247.34 C452.61,247.10 452.85,246.86 453.09,246.63 C453.33,246.40 453.58,246.17 453.82,245.94 C454.06,245.72 454.30,245.50 454.55,245.28 C454.79,245.06 455.03,244.84 455.27,244.63 C455.52,244.42 455.76,244.21 456.00,244.01 C456.24,243.81 456.48,243.60 456.73,243.41 C456.97,243.21 457.21,243.01 457.45,242.82 C457.70,242.63 457.94,242.45 458.18,242.26 C458.42,242.08 458.67,241.90 458.91,241.72 C459.15,241.55 459.39,241.37 459.64,241.20 C459.88,241.03 460.12,240.87 460.36,240.70 C460.60,240.54 460.85,240.38 461.09,240.23 C461.33,240.07 461.57,239.92 461.82,239.77 C462.06,239.62 462.30,239.48 462.54,239.33 C462.79,239.19 463.03,239.05 463.27,238.92 C463.51,238.78 463.76,238.65 464.00,238.52 C464.24,238.39 464.48,238.27 464.72,238.15 C464.97,238.03 465.21,237.91 465.45,237.80 C465.69,237.68 465.94,237.57 466.18,237.46 C466.42,237.36 466.66,237.25 466.91,237.15 C467.15,237.05 467.39,236.96 467.63,236.86 C467.88,236.77 468.12,236.68 468.36,236.60 C468.60,236.51 468.85,236.42 469.09,236.34 C469.33,236.26 469.57,236.18 469.81,236.11 C470.06,236.04 470.30,235.97 470.54,235.91 C470.78,235.84 471.03,235.78 471.27,235.72 C471.51,235.66 471.75,235.61 472.00,235.55 C472.24,235.50 472.48,235.45 472.72,235.40 C472.97,235.36 473.21,235.32 473.45,235.29 C473.69,235.25 473.93,235.22 474.18,235.18 C474.42,235.15 474.66,235.12 474.90,235.09 C475.15,235.06 475.39,235.04 475.63,235.02 C475.87,235.00 476.12,235.00 476.36,234.99 C476.60,234.99 476.84,234.99 477.09,235.00 C477.33,235.00 477.57,235.00 477.81,235.00 C478.05,235.01 478.30,235.01 478.54,235.01 C478.78,235.02 479.02,235.02 479.27,235.03 C479.51,235.04 479.75,235.05 479.99,235.08 C480.24,235.10 480.48,235.13 480.72,235.16 C480.96,235.20 481.21,235.24 481.45,235.28 C481.69,235.32 481.93,235.35 482.17,235.40 C482.42,235.44 482.66,235.49 482.90,235.54 C483.14,235.59 483.39,235.64 483.63,235.70 C483.87,235.76 484.11,235.83 484.36,235.89 C484.60,235.96 484.84,236.02 485.08,236.10 C485.33,236.17 485.57,236.24 485.81,236.32 C486.05,236.40 486.30,236.48 486.54,236.57 C486.78,236.65 487.02,236.74 487.26,236.84 C487.51,236.93 487.75,237.02 487.99,237.12 C488.23,237.22 488.48,237.32 488.72,237.43 C488.96,237.53 489.20,237.64 489.45,237.75 C489.69,237.87 489.93,237.98 490.17,238.10 C490.42,238.22 490.78,238.41 490.90,238.47" stroke="#a6a6a6" stroke-width="1.75" fill="none" stroke-linejoin="round" stroke-dasharray="4.1 2.5"/>
<path d="M316.40,363.00 C316.52,362.92 316.88,362.67 317.13,362.50 C317.37,362.33 317.61,362.16 317.85,362.00 C318.10,361.83 318.34,361.66 318.58,361.49 C318.82,361.33 319.07,361.16 319.31,360.99 C319.55,360.82 319.79,360.66 320.04,360.49 C320.28,360.32 320.52,360.15 320.76,359.99 C321.00,359.82 321.25,359.65 321.49,359.48 C321.73,359.31 321.97,359.14 322.22,358.97 C322.46,358.80 322.70,358.63 322.94,358.46 C323.19,358.29 323.43,358.12 323.67,357.95 C323.91,357.78 324.16,357.60 324.40,357.43 C324.64,357.26 324.88,357.09 325.12,356.91 C325.37,356.74 325.61,356.56 325.85,356.38 C326.09,356.21 326.34,356.03 326.58,355.86 C326.82,355.68 327.06,355.50 327.31,355.32 C327.55,355.14 327.79,354.96 328.03,354.78 C328.28,354.60 328.52,354.42 328.76,354.23 C329.00,354.05 329.25,353.87 329.49,353.68 C329.73,353.50 329.97,353.31 330.21,353.12 C330.46,352.93 330.70,352.75 330.94,352.56 C331.18,352.37 331.43,352.18 331.67,351.98 C331.91,351.79 332.15,351.60 332.40,351.40 C332.64,351.21 332.88,351.01 333.12,350.82 C333.37,350.62 333.61,350.42 333.85,350.22 C334.09,350.02 334.33,349.82 334.58,349.62 C334.82,349.42 335.06,349.21 335.30,349.01 C335.55,348.80 335.79,348.60 336.03,348.39 C336.27,348.18 336.52,347.97 336.76,347.76 C337.00,347.55 337.24,347.34 337.49,347.13 C337.73,346.92 337.97,346.70 338.21,346.48 C338.45,346.27 338.70,346.05 338.94,345.83 C339.18,345.61 339.42,345.39 339.67,345.17 C339.91,344.95 340.15,344.73 340.39,344.50 C340.64,344.28 340.88,344.05 341.12,343.82 C341.36,343.59 341.61,343.36 341.85,343.13 C342.09,342.90 342.33,342.67 342.57,342.44 C342.82,342.20 343.06,341.97 343.30,341.73 C343.54,341.50 343.79,341.26 344.03,341.02 C344.27,340.78 344.51,340.54 344.76,340.29 C345.00,340.05 345.24,339.81 345.48,339.56 C345.73,339.32 345.97,339.07 346.21,338.82 C346.45,338.57 346.70,338.32 346.94,338.07 C347.18,337.82 347.42,337.57 347.66,337.31 C347.91,337.06 348.15,336.80 348.39,336.55 C348.63,336.29 348.88,336.03 349.12,335.77 C349.36,335.51 349.60,335.25 349.85,334.99 C350.09,334.73 350.33,334.46 350.57,334.20 C350.82,333.93 351.06,333.67 351.30,333.40 C351.54,333.13 351.78,332.86 352.03,332.59 C352.27,332.32 352.51,332.05 352.75,331.78 C353.00,331.51 353.24,331.23 353.48,330.96 C353.72,330.68 353.97,330.41 354.21,330.13 C354.45,329.85 354.69,329.58 354.94,329.30 C355.18,329.02 355.42,328.74 355.66,328.46 C355.90,328.17 356.15,327.89 356.39,327.61 C356.63,327.33 356.87,327.04 357.12,326.76 C357.36,326.47 357.60,326.19 357.84,325.90 C358.09,325.61 358.33,325.32 358.57,325.04 C358.81,324.75 359.06,324.46 359.30,324.17 C359.54,323.88 359.78,323.59 360.02,323.30 C360.27,323.00 360.51,322.71 360.75,322.42 C360.99,322.13 361.24,321.83 361.48,321.54 C361.72,321.25 361.96,320.95 362.21,320.66 C362.45,320.36 362.69,320.07 362.93,319.77 C363.18,319.48 363.42,319.18 363.66,318.89 C363.90,318.59 364.15,318.29 364.39,318.00 C364.63,317.70 364.87,317.40 365.11,317.11 C365.36,316.81 365.60,316.51 365.84,316.21 C366.08,315.92 366.33,315.62 366.57,315.32 C366.81,315.03 367.05,314.73 367.30,314.43 C367.54,314.14 367.78,313.84 368.02,313.54 C368.27,313.25 368.51,312.95 368.75,312.65 C368.99,312.36 369.23,312.06 369.48,311.77 C369.72,311.47 369.96,311.18 370.20,310.88 C370.45,310.59 370.69,310.30 370.93,310.00 C371.17,309.71 371.42,309.42 371.66,309.13 C371.90,308.84 372.14,308.55 372.39,308.26 C372.63,307.97 372.87,307.68 373.11,307.39 C373.35,307.10 373.60,306.82 373.84,306.53 C374.08,306.24 374.32,305.96 374.57,305.68 C374.81,305.39 375.05,305.11 375.29,304.83 C375.54,304.55 375.78,304.27 376.02,303.99 C376.26,303.72 376.51,303.44 376.75,303.16 C376.99,302.89 377.23,302.62 377.47,302.35 C377.72,302.08 377.96,301.81 378.20,301.54 C378.44,301.27 378.69,301.00 378.93,300.74 C379.17,300.48 379.41,300.21 379.66,299.95 C379.90,299.70 380.14,299.44 380.38,299.18 C380.63,298.93 380.87,298.68 381.11,298.43 C381.35,298.18 381.60,297.93 381.84,297.68 C382.08,297.44 382.32,297.19 382.56,296.95 C382.81,296.71 383.05,296.48 383.29,296.24 C383.53,296.01 383.78,295.78 384.02,295.55 C384.26,295.32 384.50,295.10 384.75,294.87 C384.99,294.65 385.23,294.43 385.47,294.22 C385.72,294.00 385.96,293.79 386.20,293.58 C386.44,293.38 386.68,293.17 386.93,292.97 C387.17,292.77 387.41,292.57 387.65,292.38 C387.90,292.18 388.14,291.99 388.38,291.81 C388.62,291.62 388.87,291.44 389.11,291.27 C389.35,291.09 389.59,290.92 389.84,290.74 C390.08,290.57 390.32,290.40 390.56,290.24 C390.80,290.08 391.05,289.92 391.29,289.77 C391.53,289.62 391.77,289.49 392.02,289.36 C392.26,289.22 392.50,289.09 392.74,288.95 C392.99,288.82 393.23,288.67 393.47,288.54 C393.71,288.40 393.96,288.27 394.20,288.15 C394.44,288.03 394.68,287.91 394.92,287.82 C395.17,287.73 395.41,287.64 395.65,287.59 C395.89,287.54 396.14,287.52 396.38,287.51 C396.62,287.49 396.86,287.51 397.11,287.51 C397.35,287.51 397.59,287.51 397.83,287.51 C398.08,287.51 398.32,287.51 398.56,287.51 C398.80,287.51 399.05,287.51 399.29,287.51 C399.53,287.51 399.77,287.51 400.01,287.51 C400.26,287.51 400.50,287.51 400.74,287.51 C400.98,287.51 401.23,287.51 401.47,287.51 C401.71,287.51 401.95,287.51 402.20,287.51 C402.44,287.51 402.68,287.51 402.92,287.51 C403.17,287.51 403.41,287.50 403.65,287.51 C403.89,287.52 404.13,287.54 404.38,287.58 C404.62,287.62 404.86,287.69 405.10,287.75 C405.35,287.81 405.59,287.89 405.83,287.96 C406.07,288.02 406.32,288.10 406.56,288.14 C406.80,288.19 407.14,288.22 407.29,288.24 C407.43,288.25 407.31,288.26 407.43,288.24 C407.55,288.22 407.79,288.21 408.01,288.11 C408.23,288.02 408.50,287.85 408.74,287.66 C408.98,287.47 409.22,287.23 409.47,286.98 C409.71,286.74 410.05,286.36 410.19,286.20 C410.34,286.04 410.22,286.19 410.34,286.04 C410.46,285.89 410.70,285.63 410.92,285.29 C411.14,284.95 411.41,284.51 411.65,284.02 C411.89,283.54 412.13,283.10 412.38,282.37 C412.62,281.64 412.86,280.67 413.10,279.64 C413.34,278.62 413.66,277.00 413.83,276.23 C414.00,275.46 414.00,275.49 414.12,275.03 C414.24,274.57 414.36,274.13 414.56,273.48 C414.75,272.84 415.04,271.94 415.28,271.16 C415.53,270.39 415.79,269.58 416.01,268.84 C416.23,268.09 416.47,267.17 416.59,266.71 C416.71,266.25 416.59,266.86 416.74,266.08 C416.88,265.30 417.22,263.26 417.46,262.03 C417.71,260.80 418.05,259.31 418.19,258.71 C418.34,258.10 418.22,258.56 418.34,258.39 C418.46,258.22 418.70,257.89 418.92,257.68 C419.14,257.46 419.45,257.26 419.65,257.10 C419.84,256.93 419.99,256.80 420.11,256.68 C420.23,256.56 420.21,256.58 420.37,256.40 C420.54,256.21 420.86,255.86 421.10,255.57 C421.34,255.29 421.58,255.00 421.83,254.69 C422.07,254.39 422.37,253.98 422.55,253.74 C422.73,253.50 422.78,253.44 422.90,253.25 C423.02,253.07 423.10,252.99 423.28,252.64 C423.47,252.30 423.77,251.67 424.01,251.19 C424.25,250.70 424.49,250.14 424.74,249.71 C424.98,249.29 425.28,248.85 425.46,248.63 C425.64,248.40 425.69,248.43 425.81,248.36 C425.93,248.29 426.01,248.27 426.19,248.22 C426.37,248.16 426.67,248.09 426.92,248.04 C427.16,247.99 427.40,247.97 427.64,247.92 C427.89,247.86 428.21,247.77 428.37,247.72 C428.53,247.67 428.48,247.71 428.60,247.63 C428.72,247.54 428.89,247.42 429.10,247.21 C429.30,246.99 429.67,246.50 429.82,246.33 C429.98,246.15 429.88,246.27 430.00,246.16 C430.12,246.05 430.34,245.84 430.55,245.65 C430.77,245.46 431.04,245.18 431.28,245.02 C431.52,244.86 431.87,244.75 432.01,244.70 C432.14,244.64 431.97,244.55 432.09,244.69 C432.21,244.83 432.51,245.07 432.73,245.51 C432.96,245.95 433.22,246.87 433.46,247.34 C433.70,247.82 433.95,248.31 434.19,248.36 C434.43,248.41 434.67,247.98 434.91,247.63 C435.16,247.28 435.40,246.62 435.64,246.25 C435.88,245.89 436.24,245.57 436.37,245.43 C436.50,245.29 436.31,245.40 436.43,245.42 C436.55,245.45 436.86,245.49 437.10,245.59 C437.33,245.69 437.58,245.87 437.82,246.02 C438.07,246.18 438.32,246.39 438.55,246.53 C438.78,246.68 439.07,246.83 439.19,246.89 C439.31,246.96 439.14,246.88 439.28,246.93 C439.41,246.98 439.76,247.13 440.00,247.22 C440.25,247.31 440.49,247.40 440.73,247.48 C440.97,247.56 441.22,247.64 441.46,247.72 C441.70,247.80 441.98,247.89 442.19,247.95 C442.39,248.02 442.59,248.08 442.71,248.12 C442.83,248.15 442.76,248.14 442.91,248.18 C443.07,248.22 443.40,248.30 443.64,248.36 C443.88,248.41 444.12,248.46 444.37,248.51 C444.61,248.57 444.85,248.62 445.09,248.69 C445.34,248.76 445.64,248.86 445.82,248.93 C446.01,249.00 446.08,249.02 446.20,249.09 C446.32,249.17 446.37,249.15 446.55,249.36 C446.73,249.56 447.03,249.98 447.27,250.32 C447.52,250.65 447.82,251.13 448.00,251.38 C448.19,251.62 448.26,251.67 448.38,251.79 C448.50,251.90 448.55,251.94 448.73,252.06 C448.91,252.19 449.21,252.39 449.46,252.54 C449.70,252.69 449.94,252.81 450.18,252.94 C450.43,253.07 450.67,253.19 450.91,253.33 C451.15,253.47 451.47,253.67 451.64,253.78 C451.81,253.89 451.81,253.89 451.93,253.99 C452.05,254.08 452.17,254.18 452.36,254.36 C452.56,254.54 452.85,254.82 453.09,255.05 C453.33,255.29 453.58,255.52 453.82,255.76 C454.06,256.00 454.30,256.25 454.55,256.49 C454.79,256.74 455.03,256.99 455.27,257.24 C455.52,257.50 455.76,257.76 456.00,258.02 C456.24,258.28 456.48,258.55 456.73,258.82 C456.97,259.09 457.21,259.36 457.45,259.64 C457.70,259.92 457.94,260.20 458.18,260.49 C458.42,260.77 458.67,261.06 458.91,261.35 C459.15,261.64 459.39,261.93 459.64,262.23 C459.88,262.53 460.12,262.83 460.36,263.13 C460.60,263.44 460.85,263.74 461.09,264.05 C461.33,264.36 461.57,264.67 461.82,264.99 C462.06,265.30 462.30,265.62 462.54,265.94 C462.79,266.26 463.03,266.58 463.27,266.90 C463.51,267.23 463.76,267.56 464.00,267.89 C464.24,268.21 464.48,268.54 464.72,268.88 C464.97,269.21 465.21,269.54 465.45,269.88 C465.69,270.22 465.94,270.56 466.18,270.90 C466.42,271.24 466.66,271.58 466.91,271.93 C467.15,272.27 467.39,272.62 467.63,272.96 C467.88,273.31 468.12,273.66 468.36,274.01 C468.60,274.36 468.85,274.71 469.09,275.06 C469.33,275.42 469.57,275.77 469.81,276.12 C470.06,276.48 470.30,276.83 470.54,277.19 C470.78,277.55 471.03,277.90 471.27,278.26 C471.51,278.62 471.75,278.98 472.00,279.34 C472.24,279.70 472.48,280.06 472.72,280.42 C472.97,280.78 473.21,281.14 473.45,281.50 C473.69,281.86 473.93,282.22 474.18,282.58 C474.42,282.94 474.66,283.30 474.90,283.66 C475.15,284.02 475.39,284.39 475.63,284.75 C475.87,285.11 476.12,285.47 476.36,285.83 C476.60,286.19 476.84,286.55 477.09,286.91 C477.33,287.27 477.57,287.63 477.81,287.99 C478.05,288.35 478.30,288.70 478.54,289.06 C478.78,289.42 479.02,289.78 479.27,290.13 C479.51,290.49 479.75,290.84 479.99,291.19 C480.24,291.55 480.48,291.90 480.72,292.25 C480.96,292.60 481.21,292.95 481.45,293.30 C481.69,293.65 481.93,294.00 482.17,294.34 C482.42,294.69 482.66,295.03 482.90,295.38 C483.14,295.72 483.39,296.06 483.63,296.40 C483.87,296.74 484.11,297.08 484.36,297.41 C484.60,297.75 484.84,298.08 485.08,298.41 C485.33,298.74 485.57,299.07 485.81,299.40 C486.05,299.73 486.30,300.05 486.54,300.38 C486.78,300.70 487.02,301.02 487.26,301.34 C487.51,301.65 487.75,301.97 487.99,302.28 C488.23,302.59 488.48,302.90 488.72,303.21 C488.96,303.51 489.20,303.82 489.45,304.12 C489.69,304.42 489.93,304.72 490.17,305.01 C490.42,305.31 490.78,305.74 490.90,305.89" stroke="#c8161d" stroke-width="1.80" fill="none" stroke-linejoin="round"/>
<path d="M316.40,363.74 C316.52,363.66 316.88,363.41 317.13,363.24 C317.37,363.08 317.61,362.91 317.85,362.75 C318.10,362.58 318.34,362.41 318.58,362.25 C318.82,362.08 319.07,361.91 319.31,361.74 C319.55,361.58 319.79,361.41 320.04,361.24 C320.28,361.08 320.52,360.91 320.76,360.74 C321.00,360.57 321.25,360.40 321.49,360.24 C321.73,360.07 321.97,359.90 322.22,359.73 C322.46,359.56 322.70,359.39 322.94,359.21 C323.19,359.04 323.43,358.87 323.67,358.70 C323.91,358.53 324.16,358.35 324.40,358.18 C324.64,358.01 324.88,357.83 325.12,357.65 C325.37,357.48 325.61,357.30 325.85,357.12 C326.09,356.95 326.34,356.77 326.58,356.59 C326.82,356.41 327.06,356.23 327.31,356.05 C327.55,355.87 327.79,355.68 328.03,355.50 C328.28,355.32 328.52,355.13 328.76,354.95 C329.00,354.76 329.25,354.57 329.49,354.39 C329.73,354.20 329.97,354.01 330.21,353.82 C330.46,353.63 330.70,353.44 330.94,353.24 C331.18,353.05 331.43,352.86 331.67,352.66 C331.91,352.46 332.15,352.27 332.40,352.07 C332.64,351.87 332.88,351.67 333.12,351.47 C333.37,351.27 333.61,351.07 333.85,350.86 C334.09,350.66 334.33,350.45 334.58,350.25 C334.82,350.04 335.06,349.83 335.30,349.62 C335.55,349.41 335.79,349.20 336.03,348.99 C336.27,348.78 336.52,348.56 336.76,348.35 C337.00,348.13 337.24,347.91 337.49,347.69 C337.73,347.48 337.97,347.26 338.21,347.03 C338.45,346.81 338.70,346.59 338.94,346.36 C339.18,346.14 339.42,345.91 339.67,345.68 C339.91,345.46 340.15,345.23 340.39,344.99 C340.64,344.76 340.88,344.53 341.12,344.30 C341.36,344.06 341.61,343.83 341.85,343.59 C342.09,343.35 342.33,343.11 342.57,342.87 C342.82,342.63 343.06,342.39 343.30,342.14 C343.54,341.90 343.79,341.65 344.03,341.41 C344.27,341.16 344.51,340.91 344.76,340.66 C345.00,340.41 345.24,340.16 345.48,339.90 C345.73,339.65 345.97,339.40 346.21,339.14 C346.45,338.88 346.70,338.62 346.94,338.36 C347.18,338.10 347.42,337.84 347.66,337.58 C347.91,337.32 348.15,337.05 348.39,336.79 C348.63,336.52 348.88,336.26 349.12,335.99 C349.36,335.72 349.60,335.45 349.85,335.18 C350.09,334.91 350.33,334.63 350.57,334.36 C350.82,334.08 351.06,333.81 351.30,333.53 C351.54,333.26 351.78,332.98 352.03,332.70 C352.27,332.42 352.51,332.14 352.75,331.85 C353.00,331.57 353.24,331.29 353.48,331.00 C353.72,330.72 353.97,330.43 354.21,330.15 C354.45,329.86 354.69,329.57 354.94,329.28 C355.18,328.99 355.42,328.70 355.66,328.41 C355.90,328.12 356.15,327.83 356.39,327.53 C356.63,327.24 356.87,326.94 357.12,326.65 C357.36,326.35 357.60,326.06 357.84,325.76 C358.09,325.46 358.33,325.16 358.57,324.86 C358.81,324.56 359.06,324.26 359.30,323.96 C359.54,323.66 359.78,323.36 360.02,323.06 C360.27,322.75 360.51,322.45 360.75,322.15 C360.99,321.84 361.24,321.54 361.48,321.23 C361.72,320.93 361.96,320.62 362.21,320.32 C362.45,320.01 362.69,319.71 362.93,319.40 C363.18,319.09 363.42,318.79 363.66,318.48 C363.90,318.17 364.15,317.86 364.39,317.55 C364.63,317.25 364.87,316.94 365.11,316.63 C365.36,316.32 365.60,316.01 365.84,315.70 C366.08,315.40 366.33,315.09 366.57,314.78 C366.81,314.47 367.05,314.16 367.30,313.85 C367.54,313.54 367.78,313.24 368.02,312.93 C368.27,312.62 368.51,312.31 368.75,312.01 C368.99,311.70 369.23,311.39 369.48,311.08 C369.72,310.78 369.96,310.47 370.20,310.17 C370.45,309.86 370.69,309.55 370.93,309.25 C371.17,308.95 371.42,308.64 371.66,308.34 C371.90,308.04 372.14,307.74 372.39,307.44 C372.63,307.13 372.87,306.83 373.11,306.53 C373.35,306.23 373.60,305.94 373.84,305.64 C374.08,305.34 374.32,305.05 374.57,304.75 C374.81,304.46 375.05,304.17 375.29,303.87 C375.54,303.58 375.78,303.29 376.02,303.00 C376.26,302.71 376.51,302.42 376.75,302.14 C376.99,301.85 377.23,301.57 377.47,301.29 C377.72,301.01 377.96,300.73 378.20,300.45 C378.44,300.17 378.69,299.89 378.93,299.62 C379.17,299.34 379.41,299.07 379.66,298.80 C379.90,298.53 380.14,298.26 380.38,298.00 C380.63,297.73 380.87,297.47 381.11,297.21 C381.35,296.95 381.60,296.69 381.84,296.43 C382.08,296.18 382.32,295.93 382.56,295.68 C382.81,295.43 383.05,295.18 383.29,294.94 C383.53,294.69 383.78,294.45 384.02,294.22 C384.26,293.98 384.50,293.74 384.75,293.51 C384.99,293.28 385.23,293.05 385.47,292.83 C385.72,292.60 385.96,292.38 386.20,292.17 C386.44,291.95 386.68,291.74 386.93,291.53 C387.17,291.32 387.41,291.11 387.65,290.91 C387.90,290.71 388.14,290.51 388.38,290.31 C388.62,290.12 388.87,289.94 389.11,289.75 C389.35,289.57 389.59,289.39 389.84,289.21 C390.08,289.03 390.32,288.85 390.56,288.68 C390.80,288.51 391.05,288.35 391.29,288.19 C391.53,288.04 391.77,287.90 392.02,287.76 C392.26,287.61 392.50,287.48 392.74,287.33 C392.99,287.19 393.23,287.04 393.47,286.89 C393.71,286.75 393.96,286.60 394.20,286.48 C394.44,286.35 394.68,286.22 394.92,286.13 C395.17,286.03 395.41,285.94 395.65,285.88 C395.89,285.83 396.14,285.81 396.38,285.79 C396.62,285.78 396.86,285.79 397.11,285.79 C397.35,285.79 397.59,285.79 397.83,285.79 C398.08,285.79 398.32,285.79 398.56,285.79 C398.80,285.79 399.05,285.79 399.29,285.79 C399.53,285.79 399.77,285.79 400.01,285.79 C400.26,285.79 400.50,285.79 400.74,285.79 C400.98,285.79 401.23,285.79 401.47,285.79 C401.71,285.79 401.95,285.79 402.20,285.79 C402.44,285.79 402.68,285.79 402.92,285.79 C403.17,285.79 403.41,285.79 403.65,285.79 C403.89,285.80 404.13,285.80 404.38,285.82 C404.62,285.83 404.86,285.85 405.10,285.88 C405.35,285.90 405.59,285.92 405.83,285.95 C406.07,285.97 406.32,285.99 406.56,286.01 C406.80,286.02 407.14,286.03 407.29,286.04 C407.43,286.04 407.31,286.05 407.43,286.04 C407.55,286.03 407.79,286.03 408.01,286.00 C408.23,285.97 408.50,285.92 408.74,285.85 C408.98,285.79 409.22,285.70 409.47,285.61 C409.71,285.51 410.00,285.38 410.19,285.29 C410.39,285.19 410.51,285.13 410.63,285.06 C410.75,284.99 410.75,285.04 410.92,284.86 C411.09,284.67 411.41,284.34 411.65,283.95 C411.89,283.57 412.21,282.90 412.38,282.56 C412.54,282.21 412.54,282.28 412.67,281.88 C412.79,281.48 412.91,281.13 413.10,280.17 C413.30,279.21 413.66,277.00 413.83,276.10 C414.00,275.21 414.00,275.26 414.12,274.78 C414.24,274.31 414.36,273.88 414.56,273.27 C414.75,272.65 415.04,271.78 415.28,271.10 C415.53,270.42 415.77,269.82 416.01,269.17 C416.25,268.52 416.50,267.88 416.74,267.20 C416.98,266.52 417.22,265.78 417.46,265.08 C417.71,264.39 418.02,263.51 418.19,263.04 C418.36,262.58 418.36,262.60 418.48,262.31 C418.60,262.01 418.72,261.71 418.92,261.27 C419.11,260.83 419.40,260.16 419.65,259.65 C419.89,259.14 420.18,258.56 420.37,258.19 C420.57,257.82 420.69,257.62 420.81,257.41 C420.93,257.21 420.93,257.19 421.10,256.94 C421.27,256.69 421.58,256.24 421.83,255.91 C422.07,255.58 422.31,255.29 422.55,254.97 C422.80,254.65 423.11,254.23 423.28,253.98 C423.46,253.74 423.48,253.70 423.60,253.50 C423.72,253.30 423.82,253.15 424.01,252.79 C424.20,252.42 424.49,251.80 424.74,251.30 C424.98,250.81 425.22,250.26 425.46,249.81 C425.70,249.37 426.02,248.89 426.19,248.64 C426.35,248.40 426.33,248.48 426.45,248.36 C426.57,248.25 426.72,248.12 426.92,247.95 C427.12,247.78 427.40,247.54 427.64,247.36 C427.89,247.17 428.13,247.00 428.37,246.84 C428.61,246.69 428.86,246.54 429.10,246.42 C429.34,246.30 429.58,246.19 429.82,246.11 C430.07,246.03 430.41,245.97 430.55,245.93 C430.70,245.90 430.58,245.93 430.70,245.91 C430.82,245.90 431.06,245.88 431.28,245.85 C431.50,245.83 431.76,245.81 432.01,245.79 C432.25,245.77 432.49,245.75 432.73,245.74 C432.98,245.72 433.22,245.71 433.46,245.70 C433.70,245.69 433.97,245.68 434.19,245.68 C434.41,245.67 434.65,245.67 434.77,245.67 C434.89,245.67 434.77,245.67 434.91,245.67 C435.06,245.67 435.40,245.68 435.64,245.70 C435.88,245.71 436.13,245.73 436.37,245.76 C436.61,245.78 436.85,245.81 437.10,245.85 C437.34,245.88 437.58,245.91 437.82,245.95 C438.07,245.99 438.33,246.03 438.55,246.06 C438.77,246.10 439.01,246.14 439.13,246.16 C439.25,246.18 439.13,246.15 439.28,246.18 C439.42,246.21 439.76,246.28 440.00,246.33 C440.25,246.39 440.49,246.46 440.73,246.53 C440.97,246.59 441.22,246.67 441.46,246.74 C441.70,246.82 441.94,246.90 442.19,246.98 C442.43,247.05 442.69,247.14 442.91,247.21 C443.13,247.27 443.37,247.35 443.49,247.38 C443.62,247.42 443.49,247.38 443.64,247.42 C443.78,247.46 444.12,247.56 444.37,247.63 C444.61,247.69 444.85,247.76 445.09,247.82 C445.34,247.89 445.58,247.96 445.82,248.03 C446.06,248.10 446.31,248.17 446.55,248.25 C446.79,248.32 447.11,248.44 447.27,248.50 C447.44,248.56 447.44,248.56 447.57,248.61 C447.69,248.65 447.81,248.70 448.00,248.78 C448.20,248.87 448.49,248.99 448.73,249.11 C448.97,249.22 449.21,249.34 449.46,249.47 C449.70,249.60 449.94,249.73 450.18,249.88 C450.43,250.02 450.67,250.17 450.91,250.33 C451.15,250.49 451.47,250.72 451.64,250.84 C451.81,250.96 451.81,250.95 451.93,251.05 C452.05,251.15 452.17,251.25 452.36,251.45 C452.56,251.64 452.85,251.96 453.09,252.21 C453.33,252.45 453.58,252.68 453.82,252.91 C454.06,253.15 454.30,253.38 454.55,253.61 C454.79,253.84 455.03,254.08 455.27,254.32 C455.52,254.56 455.76,254.81 456.00,255.07 C456.24,255.32 456.48,255.59 456.73,255.86 C456.97,256.13 457.21,256.41 457.45,256.70 C457.70,256.98 457.94,257.27 458.18,257.56 C458.42,257.85 458.67,258.15 458.91,258.45 C459.15,258.75 459.39,259.06 459.64,259.37 C459.88,259.68 460.12,259.99 460.36,260.31 C460.60,260.63 460.85,260.96 461.09,261.29 C461.33,261.61 461.57,261.94 461.82,262.28 C462.06,262.61 462.30,262.95 462.54,263.29 C462.79,263.63 463.03,263.98 463.27,264.33 C463.51,264.68 463.76,265.03 464.00,265.39 C464.24,265.74 464.48,266.10 464.72,266.46 C464.97,266.82 465.21,267.18 465.45,267.55 C465.69,267.91 465.94,268.28 466.18,268.65 C466.42,269.03 466.66,269.40 466.91,269.77 C467.15,270.15 467.39,270.53 467.63,270.91 C467.88,271.28 468.12,271.66 468.36,272.05 C468.60,272.43 468.85,272.81 469.09,273.20 C469.33,273.59 469.57,273.97 469.81,274.36 C470.06,274.75 470.30,275.14 470.54,275.53 C470.78,275.92 471.03,276.31 471.27,276.70 C471.51,277.09 471.75,277.49 472.00,277.88 C472.24,278.27 472.48,278.67 472.72,279.06 C472.97,279.46 473.21,279.85 473.45,280.24 C473.69,280.64 473.93,281.03 474.18,281.42 C474.42,281.82 474.66,282.21 474.90,282.61 C475.15,283.00 475.39,283.39 475.63,283.79 C475.87,284.18 476.12,284.57 476.36,284.96 C476.60,285.35 476.84,285.74 477.09,286.13 C477.33,286.52 477.57,286.91 477.81,287.29 C478.05,287.68 478.30,288.06 478.54,288.45 C478.78,288.83 479.02,289.21 479.27,289.59 C479.51,289.97 479.75,290.35 479.99,290.72 C480.24,291.10 480.48,291.48 480.72,291.85 C480.96,292.22 481.21,292.59 481.45,292.96 C481.69,293.32 481.93,293.69 482.17,294.05 C482.42,294.41 482.66,294.77 482.90,295.13 C483.14,295.48 483.39,295.84 483.63,296.19 C483.87,296.54 484.11,296.89 484.36,297.23 C484.60,297.57 484.84,297.91 485.08,298.25 C485.33,298.58 485.57,298.91 485.81,299.24 C486.05,299.57 486.30,299.90 486.54,300.22 C486.78,300.54 487.02,300.86 487.26,301.17 C487.51,301.49 487.75,301.79 487.99,302.10 C488.23,302.40 488.48,302.69 488.72,302.99 C488.96,303.28 489.20,303.57 489.45,303.85 C489.69,304.14 489.93,304.42 490.17,304.70 C490.42,304.97 490.78,305.37 490.90,305.51" stroke="#19b04f" stroke-width="1.75" fill="none" stroke-linejoin="round" stroke-dasharray="4.3 2.2"/>
<path d="M320.90,236.20H348.20" stroke="#c8161d" stroke-width="1.60"/>
<path d="M320.90,249.30H348.20" stroke="#19b04f" stroke-width="1.45" stroke-dasharray="4.3 2.2"/>
<path d="M320.90,262.70H348.20" stroke="#a6a6a6" stroke-width="1.35" stroke-dasharray="4.1 2.5"/>
<path d="M6,4.6V419.7 M274.6,4.6V419.7 M543,4.6V419.7" stroke="#b3b3b3" stroke-width="2" fill="none"/>
<path d="M5,5.5H544 M5,212H544 M5,418.7H544" stroke="#a9a9a9" stroke-width="1.8" fill="none"/>
<text id="t0" x="114.97" y="18.90" font-size="10.475" textLength="30.05" lengthAdjust="spacingAndGlyphs" font-weight="bold" fill="#111" stroke="#111" stroke-width="0.22">Diesel</text>
<text id="t1" x="149.60" y="19.70" font-size="10.056" textLength="7.87" lengthAdjust="spacingAndGlyphs" font-weight="bold" fill="#111" stroke="#111" stroke-width="0.22">—</text>
<text id="t2" x="161.49" y="18.90" font-size="10.475" textLength="12.29" lengthAdjust="spacingAndGlyphs" font-weight="bold" fill="#111" stroke="#111" stroke-width="0.22">R1</text>
<text id="t3" x="31.40" y="27.40" font-size="10.475" textLength="12.79" lengthAdjust="spacing" transform="scale(0.860 1)" fill="#2b2b2b" stroke="#2b2b2b" stroke-width="0.30">70</text>
<text id="t4" x="31.40" y="76.50" font-size="10.475" textLength="12.79" lengthAdjust="spacing" transform="scale(0.860 1)" fill="#2b2b2b" stroke="#2b2b2b" stroke-width="0.30">50</text>
<text id="t5" x="31.40" y="125.90" font-size="10.475" textLength="12.79" lengthAdjust="spacing" transform="scale(0.860 1)" fill="#2b2b2b" stroke="#2b2b2b" stroke-width="0.30">30</text>
<text id="t6" x="31.40" y="174.90" font-size="10.475" textLength="12.79" lengthAdjust="spacing" transform="scale(0.860 1)" fill="#2b2b2b" stroke="#2b2b2b" stroke-width="0.30">10</text>
<text id="t7" x="271.68" y="27.55" font-size="10.615" textLength="25.48" lengthAdjust="spacing" transform="scale(0.860 1)" fill="#2b2b2b" stroke="#2b2b2b" stroke-width="0.30">2000</text>
<text id="t8" x="271.47" y="76.65" font-size="10.615" textLength="25.69" lengthAdjust="spacing" transform="scale(0.860 1)" fill="#2b2b2b" stroke="#2b2b2b" stroke-width="0.30">1500</text>
<text id="t9" x="271.47" y="125.85" font-size="10.615" textLength="25.70" lengthAdjust="spacing" transform="scale(0.860 1)" fill="#2b2b2b" stroke="#2b2b2b" stroke-width="0.30">1000</text>
<text id="t10" x="271.64" y="174.95" font-size="10.615" textLength="19.40" lengthAdjust="spacing" transform="scale(0.860 1)" fill="#2b2b2b" stroke="#2b2b2b" stroke-width="0.30">500</text>
<text id="t11" x="47.59" y="190.00" font-size="10.196" textLength="17.58" lengthAdjust="spacing" transform="scale(0.860 1)" fill="#2b2b2b" stroke="#2b2b2b" stroke-width="0.30">-30</text>
<text id="t12" x="115.70" y="190.00" font-size="10.196" textLength="17.15" lengthAdjust="spacing" transform="scale(0.860 1)" fill="#2b2b2b" stroke="#2b2b2b" stroke-width="0.30">-10</text>
<text id="t13" x="184.60" y="190.00" font-size="10.196" textLength="12.79" lengthAdjust="spacing" transform="scale(0.860 1)" fill="#2b2b2b" stroke="#2b2b2b" stroke-width="0.30">10</text>
<text id="t14" x="251.80" y="190.00" font-size="10.196" textLength="13.58" lengthAdjust="spacing" transform="scale(0.860 1)" fill="#2b2b2b" stroke="#2b2b2b" stroke-width="0.30">30</text>
<text id="t15" x="126.59" y="184.70" font-size="10.335" textLength="18.79" lengthAdjust="spacingAndGlyphs" fill="#2b2b2b" stroke="#2b2b2b" stroke-width="0.30">TDC</text>
<text id="t16" x="95.00" y="206.30" font-size="10.615" textLength="88.63" lengthAdjust="spacingAndGlyphs" font-weight="bold" fill="#111" stroke="#111" stroke-width="0.22">Crank angle [deg]</text>
<text id="t17" x="20.10" y="166.25" font-size="10.475" textLength="132.31" lengthAdjust="spacingAndGlyphs" font-weight="bold" transform="rotate(-90 20.10 166.25)" fill="#111" stroke="#111" stroke-width="0.22" xml:space="preserve">In-cylinder pressure  [bar]</text>
<text id="t18" x="268.70" y="166.00" font-size="10.475" textLength="139.82" lengthAdjust="spacingAndGlyphs" font-weight="bold" transform="rotate(-90 268.70 166.00)" fill="#111" stroke="#111" stroke-width="0.22">In-cylinder temperature [K]</text>
<text id="t19" x="388.85" y="19.60" font-size="10.615" textLength="19.16" lengthAdjust="spacingAndGlyphs" font-weight="bold" fill="#111" stroke="#111" stroke-width="0.22">B20</text>
<text id="t20" x="411.89" y="20.00" font-size="10.196" textLength="7.31" lengthAdjust="spacingAndGlyphs" font-weight="bold" fill="#111" stroke="#111" stroke-width="0.22">—</text>
<text id="t21" x="424.00" y="19.60" font-size="10.615" textLength="11.49" lengthAdjust="spacingAndGlyphs" font-weight="bold" fill="#111" stroke="#111" stroke-width="0.22">R1</text>
<text id="t22" x="342.63" y="26.80" font-size="10.475" textLength="13.60" lengthAdjust="spacing" transform="scale(0.860 1)" fill="#2b2b2b" stroke="#2b2b2b" stroke-width="0.30">70</text>
<text id="t23" x="342.71" y="76.00" font-size="10.475" textLength="13.56" lengthAdjust="spacing" transform="scale(0.860 1)" fill="#2b2b2b" stroke="#2b2b2b" stroke-width="0.30">50</text>
<text id="t24" x="342.78" y="125.40" font-size="10.475" textLength="13.48" lengthAdjust="spacing" transform="scale(0.860 1)" fill="#2b2b2b" stroke="#2b2b2b" stroke-width="0.30">30</text>
<text id="t25" x="342.43" y="174.80" font-size="10.475" textLength="13.86" lengthAdjust="spacing" transform="scale(0.860 1)" fill="#2b2b2b" stroke="#2b2b2b" stroke-width="0.30">10</text>
<text id="t26" x="583.93" y="27.05" font-size="10.615" textLength="25.98" lengthAdjust="spacing" transform="scale(0.860 1)" fill="#2b2b2b" stroke="#2b2b2b" stroke-width="0.30">2000</text>
<text id="t27" x="583.98" y="76.35" font-size="10.615" textLength="25.95" lengthAdjust="spacing" transform="scale(0.860 1)" fill="#2b2b2b" stroke="#2b2b2b" stroke-width="0.30">1500</text>
<text id="t28" x="583.98" y="125.55" font-size="10.615" textLength="25.95" lengthAdjust="spacing" transform="scale(0.860 1)" fill="#2b2b2b" stroke="#2b2b2b" stroke-width="0.30">1000</text>
<text id="t29" x="583.65" y="174.75" font-size="10.615" textLength="19.95" lengthAdjust="spacing" transform="scale(0.860 1)" fill="#2b2b2b" stroke="#2b2b2b" stroke-width="0.30">500</text>
<text id="t30" x="359.30" y="190.00" font-size="10.335" textLength="18.00" lengthAdjust="spacing" transform="scale(0.860 1)" fill="#2b2b2b" stroke="#2b2b2b" stroke-width="0.30">-30</text>
<text id="t31" x="427.28" y="190.00" font-size="10.335" textLength="17.46" lengthAdjust="spacing" transform="scale(0.860 1)" fill="#2b2b2b" stroke="#2b2b2b" stroke-width="0.30">-10</text>
<text id="t32" x="496.75" y="190.00" font-size="10.335" textLength="13.46" lengthAdjust="spacing" transform="scale(0.860 1)" fill="#2b2b2b" stroke="#2b2b2b" stroke-width="0.30">10</text>
<text id="t33" x="564.41" y="190.00" font-size="10.335" textLength="13.19" lengthAdjust="spacing" transform="scale(0.860 1)" fill="#2b2b2b" stroke="#2b2b2b" stroke-width="0.30">30</text>
<text id="t34" x="394.64" y="183.80" font-size="10.615" textLength="18.70" lengthAdjust="spacingAndGlyphs" fill="#2b2b2b" stroke="#2b2b2b" stroke-width="0.30">TDC</text>
<text id="t35" x="359.92" y="205.60" font-size="10.615" textLength="89.64" lengthAdjust="spacingAndGlyphs" font-weight="bold" fill="#111" stroke="#111" stroke-width="0.22">Crank angle [deg]</text>
<text id="t36" x="288.30" y="164.97" font-size="10.475" textLength="129.09" lengthAdjust="spacingAndGlyphs" font-weight="bold" transform="rotate(-90 288.30 164.97)" fill="#111" stroke="#111" stroke-width="0.22">In-cylinder pressure [bar]</text>
<text id="t37" x="536.70" y="163.53" font-size="10.475" textLength="139.79" lengthAdjust="spacingAndGlyphs" font-weight="bold" transform="rotate(-90 536.70 163.53)" fill="#111" stroke="#111" stroke-width="0.22">In-cylinder temperature [K]</text>
<text id="t38" x="113.87" y="226.10" font-size="10.475" textLength="29.93" lengthAdjust="spacingAndGlyphs" font-weight="bold" fill="#111" stroke="#111" stroke-width="0.22">Diesel</text>
<text id="t39" x="148.63" y="226.90" font-size="10.056" textLength="7.52" lengthAdjust="spacingAndGlyphs" font-weight="bold" fill="#111" stroke="#111" stroke-width="0.22">—</text>
<text id="t40" x="160.23" y="226.10" font-size="10.475" textLength="12.49" lengthAdjust="spacingAndGlyphs" font-weight="bold" fill="#111" stroke="#111" stroke-width="0.22">R2</text>
<text id="t41" x="31.63" y="232.80" font-size="10.475" textLength="13.10" lengthAdjust="spacing" transform="scale(0.860 1)" fill="#2b2b2b" stroke="#2b2b2b" stroke-width="0.30">70</text>
<text id="t42" x="32.19" y="282.10" font-size="10.475" textLength="12.54" lengthAdjust="spacing" transform="scale(0.860 1)" fill="#2b2b2b" stroke="#2b2b2b" stroke-width="0.30">50</text>
<text id="t43" x="32.26" y="331.40" font-size="10.475" textLength="12.47" lengthAdjust="spacing" transform="scale(0.860 1)" fill="#2b2b2b" stroke="#2b2b2b" stroke-width="0.30">30</text>
<text id="t44" x="31.92" y="380.60" font-size="10.475" textLength="12.87" lengthAdjust="spacing" transform="scale(0.860 1)" fill="#2b2b2b" stroke="#2b2b2b" stroke-width="0.30">10</text>
<text id="t45" x="271.34" y="233.00" font-size="10.475" textLength="25.48" lengthAdjust="spacing" transform="scale(0.860 1)" fill="#2b2b2b" stroke="#2b2b2b" stroke-width="0.30">2000</text>
<text id="t46" x="271.21" y="282.20" font-size="10.475" textLength="25.61" lengthAdjust="spacing" transform="scale(0.860 1)" fill="#2b2b2b" stroke="#2b2b2b" stroke-width="0.30">1500</text>
<text id="t47" x="271.21" y="331.50" font-size="10.475" textLength="25.61" lengthAdjust="spacing" transform="scale(0.860 1)" fill="#2b2b2b" stroke="#2b2b2b" stroke-width="0.30">1000</text>
<text id="t48" x="271.41" y="380.70" font-size="10.475" textLength="19.29" lengthAdjust="spacing" transform="scale(0.860 1)" fill="#2b2b2b" stroke="#2b2b2b" stroke-width="0.30">500</text>
<text id="t49" x="47.96" y="395.60" font-size="10.335" textLength="18.03" lengthAdjust="spacing" transform="scale(0.860 1)" fill="#2b2b2b" stroke="#2b2b2b" stroke-width="0.30">-30</text>
<text id="t50" x="115.71" y="395.60" font-size="10.335" textLength="17.41" lengthAdjust="spacing" transform="scale(0.860 1)" fill="#2b2b2b" stroke="#2b2b2b" stroke-width="0.30">-10</text>
<text id="t51" x="186.05" y="395.60" font-size="10.335" textLength="12.19" lengthAdjust="spacing" transform="scale(0.860 1)" fill="#2b2b2b" stroke="#2b2b2b" stroke-width="0.30">10</text>
<text id="t52" x="252.06" y="395.60" font-size="10.335" textLength="13.06" lengthAdjust="spacing" transform="scale(0.860 1)" fill="#2b2b2b" stroke="#2b2b2b" stroke-width="0.30">30</text>
<text id="t53" x="125.49" y="390.30" font-size="10.475" textLength="19.30" lengthAdjust="spacingAndGlyphs" fill="#2b2b2b" stroke="#2b2b2b" stroke-width="0.30">TDC</text>
<text id="t54" x="99.24" y="411.60" font-size="10.615" textLength="88.43" lengthAdjust="spacingAndGlyphs" font-weight="bold" fill="#111" stroke="#111" stroke-width="0.22">Crank angle [deg]</text>
<text id="t55" x="19.50" y="371.77" font-size="10.475" textLength="129.28" lengthAdjust="spacingAndGlyphs" font-weight="bold" transform="rotate(-90 19.50 371.77)" fill="#111" stroke="#111" stroke-width="0.22">In-cylinder pressure [bar]</text>
<text id="t56" x="268.20" y="370.82" font-size="10.475" textLength="139.95" lengthAdjust="spacingAndGlyphs" font-weight="bold" transform="rotate(-90 268.20 370.82)" fill="#111" stroke="#111" stroke-width="0.22">In-cylinder temperature [K]</text>
<text id="t57" x="388.11" y="226.60" font-size="10.615" textLength="18.92" lengthAdjust="spacingAndGlyphs" font-weight="bold" fill="#111" stroke="#111" stroke-width="0.22">B20</text>
<text id="t58" x="411.40" y="227.10" font-size="10.196" textLength="6.89" lengthAdjust="spacingAndGlyphs" font-weight="bold" fill="#111" stroke="#111" stroke-width="0.22">—</text>
<text id="t59" x="422.75" y="226.60" font-size="10.615" textLength="12.64" lengthAdjust="spacingAndGlyphs" font-weight="bold" fill="#111" stroke="#111" stroke-width="0.22">R2</text>
<text id="t60" x="342.09" y="233.80" font-size="10.475" textLength="13.10" lengthAdjust="spacing" transform="scale(0.860 1)" fill="#2b2b2b" stroke="#2b2b2b" stroke-width="0.30">70</text>
<text id="t61" x="342.65" y="282.90" font-size="10.475" textLength="12.54" lengthAdjust="spacing" transform="scale(0.860 1)" fill="#2b2b2b" stroke="#2b2b2b" stroke-width="0.30">50</text>
<text id="t62" x="342.72" y="332.00" font-size="10.475" textLength="12.47" lengthAdjust="spacing" transform="scale(0.860 1)" fill="#2b2b2b" stroke="#2b2b2b" stroke-width="0.30">30</text>
<text id="t63" x="342.39" y="381.10" font-size="10.475" textLength="12.87" lengthAdjust="spacing" transform="scale(0.860 1)" fill="#2b2b2b" stroke="#2b2b2b" stroke-width="0.30">10</text>
<text id="t64" x="583.34" y="233.70" font-size="10.475" textLength="26.55" lengthAdjust="spacing" transform="scale(0.860 1)" fill="#2b2b2b" stroke="#2b2b2b" stroke-width="0.30">2000</text>
<text id="t65" x="583.41" y="282.70" font-size="10.475" textLength="26.49" lengthAdjust="spacing" transform="scale(0.860 1)" fill="#2b2b2b" stroke="#2b2b2b" stroke-width="0.30">1500</text>
<text id="t66" x="583.41" y="331.80" font-size="10.475" textLength="26.49" lengthAdjust="spacing" transform="scale(0.860 1)" fill="#2b2b2b" stroke="#2b2b2b" stroke-width="0.30">1000</text>
<text id="t67" x="583.37" y="380.80" font-size="10.475" textLength="19.67" lengthAdjust="spacing" transform="scale(0.860 1)" fill="#2b2b2b" stroke="#2b2b2b" stroke-width="0.30">500</text>
<text id="t68" x="358.64" y="395.60" font-size="10.475" textLength="17.55" lengthAdjust="spacing" transform="scale(0.860 1)" fill="#2b2b2b" stroke="#2b2b2b" stroke-width="0.30">-30</text>
<text id="t69" x="427.43" y="395.60" font-size="10.475" textLength="16.35" lengthAdjust="spacing" transform="scale(0.860 1)" fill="#2b2b2b" stroke="#2b2b2b" stroke-width="0.30">-10</text>
<text id="t70" x="496.75" y="395.60" font-size="10.475" textLength="12.55" lengthAdjust="spacing" transform="scale(0.860 1)" fill="#2b2b2b" stroke="#2b2b2b" stroke-width="0.30">10</text>
<text id="t71" x="564.52" y="395.60" font-size="10.475" textLength="13.16" lengthAdjust="spacing" transform="scale(0.860 1)" fill="#2b2b2b" stroke="#2b2b2b" stroke-width="0.30">30</text>
<text id="t72" x="394.40" y="388.70" font-size="10.754" textLength="19.40" lengthAdjust="spacingAndGlyphs" fill="#2b2b2b" stroke="#2b2b2b" stroke-width="0.30">TDC</text>
<text id="t73" x="357.86" y="412.20" font-size="10.615" textLength="88.44" lengthAdjust="spacingAndGlyphs" font-weight="bold" fill="#111" stroke="#111" stroke-width="0.22">Crank angle [deg]</text>
<text id="t74" x="286.20" y="370.95" font-size="10.475" textLength="128.95" lengthAdjust="spacingAndGlyphs" font-weight="bold" transform="rotate(-90 286.20 370.95)" fill="#111" stroke="#111" stroke-width="0.22">In-cylinder pressure [bar]</text>
<text id="t75" x="537.00" y="371.29" font-size="10.475" textLength="139.80" lengthAdjust="spacingAndGlyphs" font-weight="bold" transform="rotate(-90 537.00 371.29)" fill="#111" stroke="#111" stroke-width="0.22">In-cylinder temperature [K]</text>
<text id="t76" x="80.66" y="32.00" font-size="7.542" textLength="46.34" lengthAdjust="spacingAndGlyphs" font-weight="bold" fill="#1a1a1a" stroke="#1a1a1a" stroke-width="0.15">EXP_pressure</text>
<text id="t77" x="80.63" y="44.90" font-size="7.542" textLength="46.92" lengthAdjust="spacingAndGlyphs" font-weight="bold" fill="#1a1a1a" stroke="#1a1a1a" stroke-width="0.15">SIM_pressure</text>
<text id="t78" x="80.62" y="57.70" font-size="7.542" textLength="61.15" lengthAdjust="spacingAndGlyphs" font-weight="bold" fill="#1a1a1a" stroke="#1a1a1a" stroke-width="0.15">SIM_temperature</text>
<text id="t79" x="349.31" y="32.70" font-size="7.542" textLength="46.05" lengthAdjust="spacingAndGlyphs" font-weight="bold" fill="#1a1a1a" stroke="#1a1a1a" stroke-width="0.15">EXP_pressure</text>
<text id="t80" x="349.24" y="45.10" font-size="7.542" textLength="46.78" lengthAdjust="spacingAndGlyphs" font-weight="bold" fill="#1a1a1a" stroke="#1a1a1a" stroke-width="0.15">SIM_pressure</text>
<text id="t81" x="349.20" y="57.80" font-size="7.542" textLength="61.43" lengthAdjust="spacingAndGlyphs" font-weight="bold" fill="#1a1a1a" stroke="#1a1a1a" stroke-width="0.15">SIM_temperature</text>
<text id="t82" x="82.66" y="238.90" font-size="7.542" textLength="46.54" lengthAdjust="spacingAndGlyphs" font-weight="bold" fill="#1a1a1a" stroke="#1a1a1a" stroke-width="0.15">EXP_pressure</text>
<text id="t83" x="82.63" y="250.90" font-size="7.542" textLength="46.99" lengthAdjust="spacingAndGlyphs" font-weight="bold" fill="#1a1a1a" stroke="#1a1a1a" stroke-width="0.15">SIM_pressure</text>
<text id="t84" x="82.62" y="262.90" font-size="7.542" textLength="60.98" lengthAdjust="spacingAndGlyphs" font-weight="bold" fill="#1a1a1a" stroke="#1a1a1a" stroke-width="0.15">SIM_temperature</text>
<text id="t85" x="350.44" y="238.70" font-size="7.542" textLength="46.25" lengthAdjust="spacingAndGlyphs" font-weight="bold" fill="#1a1a1a" stroke="#1a1a1a" stroke-width="0.15">EXP_pressure</text>
<text id="t86" x="350.30" y="251.40" font-size="7.542" textLength="47.49" lengthAdjust="spacingAndGlyphs" font-weight="bold" fill="#1a1a1a" stroke="#1a1a1a" stroke-width="0.15">SIM_pressure</text>
<text id="t87" x="350.44" y="264.90" font-size="7.542" textLength="61.13" lengthAdjust="spacingAndGlyphs" font-weight="bold" fill="#1a1a1a" stroke="#1a1a1a" stroke-width="0.15">SIM_temperature</text>
</svg>
</body></html>
